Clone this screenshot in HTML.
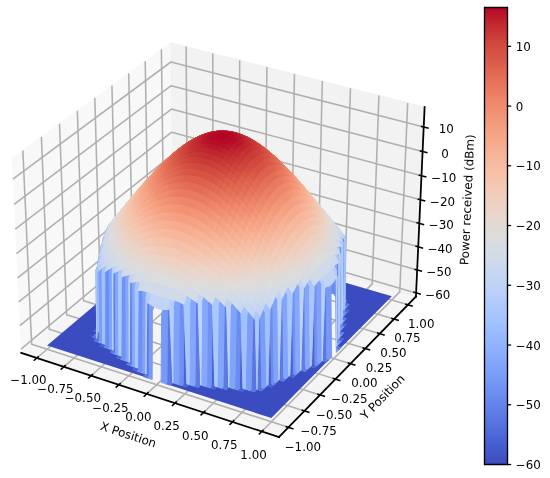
<!DOCTYPE html>
<html lang="en"><head><meta charset="utf-8"><title>Power received (dBm)</title>
<style>html,body{margin:0;padding:0;background:#fff;overflow:hidden}svg text{font-family:'DejaVu Sans','Liberation Sans',sans-serif}#surface path{fill:currentColor;stroke:currentColor}</style></head>
<body>
<svg width="550" height="478" viewBox="0 0 528 458.88" preserveAspectRatio="none" style="display:block">
 
 <defs>
  <style type="text/css">*{stroke-linejoin: round; stroke-linecap: butt}</style>
 </defs>
 <g id="figure_1">
  <g id="patch_1">
   <path d="M 0 458.88  L 528 458.88  L 528 0  L 0 0  z
" style="fill: #ffffff"/>
  </g>
  <g id="patch_2">
   <path d="M -12.87 447.40  L 427.67 447.40  L 427.67 6.86  L -12.87 6.86  z
" style="fill: #ffffff"/>
  </g>
  <g id="pane3d_1">
   <g id="patch_3">
    <path d="M 20.39 338.78  L 165.87 216.83  L 163.85 40.97  L 11.40 152.21 
" style="fill: #f2f2f2; opacity: 0.5; stroke: #f2f2f2; stroke-linejoin: miter"/>
   </g>
  </g>
  <g id="pane3d_2">
   <g id="patch_4">
    <path d="M 165.87 216.83  L 399.31 284.69  L 407.65 102.76  L 163.85 40.97 
" style="fill: #e6e6e6; opacity: 0.5; stroke: #e6e6e6; stroke-linejoin: miter"/>
   </g>
  </g>
  <g id="pane3d_3">
   <g id="patch_5">
    <path d="M 20.39 338.78  L 267.85 419.60  L 399.31 284.69  L 165.87 216.83 
" style="fill: #ececec; opacity: 0.5; stroke: #ececec; stroke-linejoin: miter"/>
   </g>
  </g>
  <g id="grid3d_1">
   <g id="Line3DCollection_1">
    <path d="M 35.37 343.67  L 180.06 220.96  L 178.64 44.72 
" style="fill: none; stroke: #b0b0b0; stroke-width: 1.5"/>
    <path d="M 61.29 352.14  L 204.60 228.09  L 204.23 51.20 
" style="fill: none; stroke: #b0b0b0; stroke-width: 1.5"/>
    <path d="M 87.51 360.70  L 229.40 235.30  L 230.09 57.76 
" style="fill: none; stroke: #b0b0b0; stroke-width: 1.5"/>
    <path d="M 114.03 369.36  L 254.45 242.58  L 256.24 64.38 
" style="fill: none; stroke: #b0b0b0; stroke-width: 1.5"/>
    <path d="M 140.86 378.12  L 279.77 249.94  L 282.67 71.08 
" style="fill: none; stroke: #b0b0b0; stroke-width: 1.5"/>
    <path d="M 167.99 386.99  L 305.36 257.38  L 309.40 77.86 
" style="fill: none; stroke: #b0b0b0; stroke-width: 1.5"/>
    <path d="M 195.44 395.95  L 331.22 264.89  L 336.42 84.71 
" style="fill: none; stroke: #b0b0b0; stroke-width: 1.5"/>
    <path d="M 223.21 405.02  L 357.36 272.49  L 363.75 91.64 
" style="fill: none; stroke: #b0b0b0; stroke-width: 1.5"/>
    <path d="M 251.31 414.20  L 383.78 280.17  L 391.38 98.64 
" style="fill: none; stroke: #b0b0b0; stroke-width: 1.5"/>
   </g>
  </g>
  <g id="grid3d_2">
   <g id="Line3DCollection_2">
    <path d="M 21.94 144.52  L 30.41 330.38  L 276.94 410.27 
" style="fill: none; stroke: #b0b0b0; stroke-width: 1.5"/>
    <path d="M 39.73 131.54  L 47.33 316.19  L 292.29 394.52 
" style="fill: none; stroke: #b0b0b0; stroke-width: 1.5"/>
    <path d="M 57.16 118.82  L 63.94 302.27  L 307.33 379.09 
" style="fill: none; stroke: #b0b0b0; stroke-width: 1.5"/>
    <path d="M 74.25 106.35  L 80.23 288.61  L 322.07 363.96 
" style="fill: none; stroke: #b0b0b0; stroke-width: 1.5"/>
    <path d="M 91.01 94.11  L 96.22 275.21  L 336.53 349.12 
" style="fill: none; stroke: #b0b0b0; stroke-width: 1.5"/>
    <path d="M 107.45 82.12  L 111.92 262.05  L 350.70 334.58 
" style="fill: none; stroke: #b0b0b0; stroke-width: 1.5"/>
    <path d="M 123.58 70.35  L 127.33 249.13  L 364.60 320.31 
" style="fill: none; stroke: #b0b0b0; stroke-width: 1.5"/>
    <path d="M 139.40 58.81  L 142.46 236.45  L 378.24 306.31 
" style="fill: none; stroke: #b0b0b0; stroke-width: 1.5"/>
    <path d="M 154.92 47.48  L 157.32 223.99  L 391.63 292.58 
" style="fill: none; stroke: #b0b0b0; stroke-width: 1.5"/>
   </g>
  </g>
  <g id="grid3d_3">
   <g id="Line3DCollection_3">
    <path d="M 399.47 281.19  L 165.83 213.44  L 20.21 335.20 
" style="fill: none; stroke: #b0b0b0; stroke-width: 1.5"/>
    <path d="M 400.48 259.18  L 165.58 192.14  L 19.13 312.66 
" style="fill: none; stroke: #b0b0b0; stroke-width: 1.5"/>
    <path d="M 401.50 236.94  L 165.34 170.61  L 18.03 289.88 
" style="fill: none; stroke: #b0b0b0; stroke-width: 1.5"/>
    <path d="M 402.53 214.45  L 165.09 148.85  L 16.92 266.83 
" style="fill: none; stroke: #b0b0b0; stroke-width: 1.5"/>
    <path d="M 403.57 191.72  L 164.83 126.87  L 15.80 243.52 
" style="fill: none; stroke: #b0b0b0; stroke-width: 1.5"/>
    <path d="M 404.62 168.73  L 164.58 104.66  L 14.66 219.94 
" style="fill: none; stroke: #b0b0b0; stroke-width: 1.5"/>
    <path d="M 405.69 145.49  L 164.32 82.21  L 13.51 196.09 
" style="fill: none; stroke: #b0b0b0; stroke-width: 1.5"/>
    <path d="M 406.76 121.99  L 164.06 59.52  L 12.35 171.96 
" style="fill: none; stroke: #b0b0b0; stroke-width: 1.5"/>
   </g>
  </g>
  <g id="axis3d_1">
   <g id="line2d_1">
    <path d="M 20.39 338.78  L 267.85 419.60 
" style="fill: none; stroke: #000000; stroke-width: 1.7; stroke-linecap: square"/>
   </g>
   <g id="xtick_1">
    <g id="line2d_2">
     <path d="M 36.63 342.60  L 32.84 345.81 
" style="fill: none; stroke: #000000; stroke-width: 1.5; stroke-linecap: square"/>
    </g>
    <g id="text_1">
     <text style="font-size: 11.4px; font-family: 'DejaVu Sans','Liberation Sans',sans-serif; text-anchor: middle" x="27.33" y="369.12">−1.00</text>
    </g>
   </g>
   <g id="xtick_2">
    <g id="line2d_3">
     <path d="M 62.54 351.06  L 58.79 354.31 
" style="fill: none; stroke: #000000; stroke-width: 1.5; stroke-linecap: square"/>
    </g>
    <g id="text_2">
     <text style="font-size: 11.4px; font-family: 'DejaVu Sans','Liberation Sans',sans-serif; text-anchor: middle" x="53.27" y="377.70">−0.75</text>
    </g>
   </g>
   <g id="xtick_3">
    <g id="line2d_4">
     <path d="M 88.75 359.61  L 85.03 362.89 
" style="fill: none; stroke: #000000; stroke-width: 1.5; stroke-linecap: square"/>
    </g>
    <g id="text_3">
     <text style="font-size: 11.4px; font-family: 'DejaVu Sans','Liberation Sans',sans-serif; text-anchor: middle" x="79.51" y="386.38">−0.50</text>
    </g>
   </g>
   <g id="xtick_4">
    <g id="line2d_5">
     <path d="M 115.26 368.26  L 111.58 371.58 
" style="fill: none; stroke: #000000; stroke-width: 1.5; stroke-linecap: square"/>
    </g>
    <g id="text_4">
     <text style="font-size: 11.4px; font-family: 'DejaVu Sans','Liberation Sans',sans-serif; text-anchor: middle" x="106.04" y="395.16">−0.25</text>
    </g>
   </g>
   <g id="xtick_5">
    <g id="line2d_6">
     <path d="M 142.07 377.01  L 138.43 380.37 
" style="fill: none; stroke: #000000; stroke-width: 1.5; stroke-linecap: square"/>
    </g>
    <g id="text_5">
     <text style="font-size: 11.4px; font-family: 'DejaVu Sans','Liberation Sans',sans-serif; text-anchor: middle" x="132.89" y="404.04">0.00</text>
    </g>
   </g>
   <g id="xtick_6">
    <g id="line2d_7">
     <path d="M 169.19 385.86  L 165.59 389.25 
" style="fill: none; stroke: #000000; stroke-width: 1.5; stroke-linecap: square"/>
    </g>
    <g id="text_6">
     <text style="font-size: 11.4px; font-family: 'DejaVu Sans','Liberation Sans',sans-serif; text-anchor: middle" x="160.04" y="413.02">0.25</text>
    </g>
   </g>
   <g id="xtick_7">
    <g id="line2d_8">
     <path d="M 196.63 394.81  L 193.06 398.25 
" style="fill: none; stroke: #000000; stroke-width: 1.5; stroke-linecap: square"/>
    </g>
    <g id="text_7">
     <text style="font-size: 11.4px; font-family: 'DejaVu Sans','Liberation Sans',sans-serif; text-anchor: middle" x="187.51" y="422.11">0.50</text>
    </g>
   </g>
   <g id="xtick_8">
    <g id="line2d_9">
     <path d="M 224.38 403.86  L 220.86 407.34 
" style="fill: none; stroke: #000000; stroke-width: 1.5; stroke-linecap: square"/>
    </g>
    <g id="text_8">
     <text style="font-size: 11.4px; font-family: 'DejaVu Sans','Liberation Sans',sans-serif; text-anchor: middle" x="215.31" y="431.31">0.75</text>
    </g>
   </g>
   <g id="xtick_9">
    <g id="line2d_10">
     <path d="M 252.47 413.03  L 248.99 416.55 
" style="fill: none; stroke: #000000; stroke-width: 1.5; stroke-linecap: square"/>
    </g>
    <g id="text_9">
     <text style="font-size: 11.4px; font-family: 'DejaVu Sans','Liberation Sans',sans-serif; text-anchor: middle" x="243.43" y="440.61">1.00</text>
    </g>
   </g>
   <g id="text_10">
    <text style="font-size: 11.4px; font-family: 'DejaVu Sans','Liberation Sans',sans-serif; text-anchor: middle" x="121.99" y="420.97" transform="rotate(-341.91 121.99 420.97)">X Position</text>
   </g>
  </g>
  <g id="axis3d_2">
   <g id="line2d_11">
    <path d="M 399.31 284.69  L 267.85 419.60 
" style="fill: none; stroke: #000000; stroke-width: 1.7; stroke-linecap: square"/>
   </g>
   <g id="xtick_10">
    <g id="line2d_12">
     <path d="M 274.87 409.59  L 281.11 411.62 
" style="fill: none; stroke: #000000; stroke-width: 1.5; stroke-linecap: square"/>
    </g>
    <g id="text_11">
     <text style="font-size: 11.4px; font-family: 'DejaVu Sans','Liberation Sans',sans-serif; text-anchor: middle" x="290.72" y="433.28">−1.00</text>
    </g>
   </g>
   <g id="xtick_11">
    <g id="line2d_13">
     <path d="M 290.23 393.86  L 296.42 395.84 
" style="fill: none; stroke: #000000; stroke-width: 1.5; stroke-linecap: square"/>
    </g>
    <g id="text_12">
     <text style="font-size: 11.4px; font-family: 'DejaVu Sans','Liberation Sans',sans-serif; text-anchor: middle" x="305.93" y="417.39">−0.75</text>
    </g>
   </g>
   <g id="xtick_12">
    <g id="line2d_14">
     <path d="M 305.28 378.44  L 311.43 380.38 
" style="fill: none; stroke: #000000; stroke-width: 1.5; stroke-linecap: square"/>
    </g>
    <g id="text_13">
     <text style="font-size: 11.4px; font-family: 'DejaVu Sans','Liberation Sans',sans-serif; text-anchor: middle" x="320.84" y="401.80">−0.50</text>
    </g>
   </g>
   <g id="xtick_13">
    <g id="line2d_15">
     <path d="M 320.04 363.32  L 326.15 365.23 
" style="fill: none; stroke: #000000; stroke-width: 1.5; stroke-linecap: square"/>
    </g>
    <g id="text_14">
     <text style="font-size: 11.4px; font-family: 'DejaVu Sans','Liberation Sans',sans-serif; text-anchor: middle" x="335.46" y="386.53">−0.25</text>
    </g>
   </g>
   <g id="xtick_14">
    <g id="line2d_16">
     <path d="M 334.51 348.50  L 340.57 350.37 
" style="fill: none; stroke: #000000; stroke-width: 1.5; stroke-linecap: square"/>
    </g>
    <g id="text_15">
     <text style="font-size: 11.4px; font-family: 'DejaVu Sans','Liberation Sans',sans-serif; text-anchor: middle" x="349.78" y="371.55">0.00</text>
    </g>
   </g>
   <g id="xtick_15">
    <g id="line2d_17">
     <path d="M 348.69 333.97  L 354.72 335.80 
" style="fill: none; stroke: #000000; stroke-width: 1.5; stroke-linecap: square"/>
    </g>
    <g id="text_16">
     <text style="font-size: 11.4px; font-family: 'DejaVu Sans','Liberation Sans',sans-serif; text-anchor: middle" x="363.84" y="356.87">0.25</text>
    </g>
   </g>
   <g id="xtick_16">
    <g id="line2d_18">
     <path d="M 362.61 319.71  L 368.60 321.51 
" style="fill: none; stroke: #000000; stroke-width: 1.5; stroke-linecap: square"/>
    </g>
    <g id="text_17">
     <text style="font-size: 11.4px; font-family: 'DejaVu Sans','Liberation Sans',sans-serif; text-anchor: middle" x="377.62" y="342.47">0.50</text>
    </g>
   </g>
   <g id="xtick_17">
    <g id="line2d_19">
     <path d="M 376.26 305.72  L 382.21 307.49 
" style="fill: none; stroke: #000000; stroke-width: 1.5; stroke-linecap: square"/>
    </g>
    <g id="text_18">
     <text style="font-size: 11.4px; font-family: 'DejaVu Sans','Liberation Sans',sans-serif; text-anchor: middle" x="391.14" y="328.34">0.75</text>
    </g>
   </g>
   <g id="xtick_18">
    <g id="line2d_20">
     <path d="M 389.66 292.00  L 395.56 293.73 
" style="fill: none; stroke: #000000; stroke-width: 1.5; stroke-linecap: square"/>
    </g>
    <g id="text_19">
     <text style="font-size: 11.4px; font-family: 'DejaVu Sans','Liberation Sans',sans-serif; text-anchor: middle" x="404.40" y="314.47">1.00</text>
    </g>
   </g>
   <g id="text_20">
    <text style="font-size: 11.4px; font-family: 'DejaVu Sans','Liberation Sans',sans-serif; text-anchor: middle" x="370.05" y="383.80" transform="rotate(-45.74 370.05 383.80)">Y Position</text>
   </g>
  </g>
  <g id="axis3d_3">
   <g id="line2d_21">
    <path d="M 399.31 284.69  L 407.65 102.76 
" style="fill: none; stroke: #000000; stroke-width: 1.7; stroke-linecap: square"/>
   </g>
   <g id="xtick_19">
    <g id="line2d_22">
     <path d="M 397.51 280.62  L 403.40 282.33 
" style="fill: none; stroke: #000000; stroke-width: 1.5; stroke-linecap: square"/>
    </g>
    <g id="text_21">
     <text style="font-size: 11.4px; font-family: 'DejaVu Sans','Liberation Sans',sans-serif; text-anchor: middle" x="420.30" y="286.88">−60</text>
    </g>
   </g>
   <g id="xtick_20">
    <g id="line2d_23">
     <path d="M 398.51 258.62  L 404.43 260.31 
" style="fill: none; stroke: #000000; stroke-width: 1.5; stroke-linecap: square"/>
    </g>
    <g id="text_22">
     <text style="font-size: 11.4px; font-family: 'DejaVu Sans','Liberation Sans',sans-serif; text-anchor: middle" x="421.42" y="264.91">−50</text>
    </g>
   </g>
   <g id="xtick_21">
    <g id="line2d_24">
     <path d="M 399.52 236.38  L 405.47 238.06 
" style="fill: none; stroke: #000000; stroke-width: 1.5; stroke-linecap: square"/>
    </g>
    <g id="text_23">
     <text style="font-size: 11.4px; font-family: 'DejaVu Sans','Liberation Sans',sans-serif; text-anchor: middle" x="422.55" y="242.70">−40</text>
    </g>
   </g>
   <g id="xtick_22">
    <g id="line2d_25">
     <path d="M 400.54 213.90  L 406.52 215.56 
" style="fill: none; stroke: #000000; stroke-width: 1.5; stroke-linecap: square"/>
    </g>
    <g id="text_24">
     <text style="font-size: 11.4px; font-family: 'DejaVu Sans','Liberation Sans',sans-serif; text-anchor: middle" x="423.69" y="220.24">−30</text>
    </g>
   </g>
   <g id="xtick_23">
    <g id="line2d_26">
     <path d="M 401.57 191.18  L 407.59 192.81 
" style="fill: none; stroke: #000000; stroke-width: 1.5; stroke-linecap: square"/>
    </g>
    <g id="text_25">
     <text style="font-size: 11.4px; font-family: 'DejaVu Sans','Liberation Sans',sans-serif; text-anchor: middle" x="424.84" y="197.54">−20</text>
    </g>
   </g>
   <g id="xtick_24">
    <g id="line2d_27">
     <path d="M 402.61 168.20  L 408.66 169.81 
" style="fill: none; stroke: #000000; stroke-width: 1.5; stroke-linecap: square"/>
    </g>
    <g id="text_26">
     <text style="font-size: 11.4px; font-family: 'DejaVu Sans','Liberation Sans',sans-serif; text-anchor: middle" x="426.01" y="174.59">−10</text>
    </g>
   </g>
   <g id="xtick_25">
    <g id="line2d_28">
     <path d="M 403.66 144.96  L 409.75 146.56 
" style="fill: none; stroke: #000000; stroke-width: 1.5; stroke-linecap: square"/>
    </g>
    <g id="text_27">
     <text style="font-size: 11.4px; font-family: 'DejaVu Sans','Liberation Sans',sans-serif; text-anchor: middle" x="427.19" y="151.38">0</text>
    </g>
   </g>
   <g id="xtick_26">
    <g id="line2d_29">
     <path d="M 404.72 121.47  L 410.85 123.04 
" style="fill: none; stroke: #000000; stroke-width: 1.5; stroke-linecap: square"/>
    </g>
    <g id="text_28">
     <text style="font-size: 11.4px; font-family: 'DejaVu Sans','Liberation Sans',sans-serif; text-anchor: middle" x="428.39" y="127.91">10</text>
    </g>
   </g>
   <g id="text_29">
    <text style="font-size: 11.4px; font-family: 'DejaVu Sans','Liberation Sans',sans-serif; text-anchor: middle" x="452.50" y="191.97" transform="rotate(-87.37 452.50 191.97)">Power received (dBm)</text>
   </g>
  </g>
  <path fill="#3b4cc0" fill-rule="evenodd" d="M219.7 371.7L217.2 374.1L208.4 371.3L205.9 373.8L192.8 369.6L190.2 372L181.5 369.2L178.9 371.6L165.9 367.4L163.3 369.8L260.5 401.3L313.6 347.6L309.2 346.3L302.2 353.4L297.8 352L293.1 356.7L288.7 355.4L281.5 362.5L277.1 361.1L272.2 366L267.8 364.6L260.5 371.8L256.1 370.4L251.1 375.3L246.7 373.9L244.2 376.3L235.4 373.5L232.9 375.9zM284 257.6L281.7 259.7L294.1 263.3L291.9 265.4L300.2 267.8L298 269.9L310.5 273.6L308.2 275.7L316.6 278.2L314.4 280.4L327.1 284.1L324.8 286.3L333.3 288.8L331.1 290.9L335.4 292.2L330.9 296.6L335.2 297.8L328.5 304.5L332.8 305.7L328.3 310.2L332.6 311.5L325.8 318.3L330.2 319.6L325.6 324.1L330 325.4L323.1 332.3L327.5 333.6L376.2 284.5zM103.5 291.6L99.5 290.4L107.2 283.9L103.1 282.6L45.2 331.6L137.5 361.5L140.1 359.1L127.3 355L130 352.6L121.5 349.9L124.1 347.5L111.5 343.4L114.1 341.1L105.7 338.4L108.4 336.1L95.8 332.1L98.5 329.8L90.2 327.1L92.8 324.9L88.7 323.5L94 319L89.8 317.7L97.7 310.9L93.6 309.7L98.8 305.2L94.7 303.9L102.5 297.3L98.4 296zM118.3 269.8L122.3 271.1L129.7 264.7L133.7 265.9L138.7 261.7L142.7 263L150 256.7L154 257.9L158.8 253.7L162.8 254.9L170 248.8L174 249.9L178.8 245.8L182.8 247L185.1 245L193.1 247.3L195.5 245.3L207.5 248.8L209.8 246.8L217.9 249.2L220.2 247.1L232.3 250.7L234.6 248.6L242.7 251L245 248.9L257.2 252.5L259.4 250.4L171.5 224.8z"/>
<g id="surface" stroke-width="0.9" stroke-linejoin="round">
<path color="#4961d2" d="M193.1 247.3L195.1 247.9L196.9 180.8L198.3 247.5L199.5 246.5L197.5 245.9L195.5 245.3L194.3 246.3z"/>
<path color="#4a63d3" d="M217.9 249.2L219.9 249.7L222.1 176.8L223.1 249.3L224.2 248.3L222.2 247.7L220.2 247.1L219 248.1z"/>
<path color="#5875e1" d="M182.8 247L184.3 185.3L186.3 183.8L187.9 247.2L189.1 246.2L187.1 245.6L185.1 245L183.9 246zM176.4 247.9L178.4 248.5L179.9 184.7L181.1 185.8L182.8 247L180.8 246.4L178.8 245.8L177.6 246.9z"/>
<path color="#4961d2" d="M167.6 250.8L169.6 251.4L170.9 184.2L172.8 251L174 249.9L172 249.3L170 248.8L168.8 249.8z"/>
<path color="#4a63d3" d="M242.7 251L244.7 251.6L247.4 180.4L247.9 251.1L249 250.1L247 249.5L245 248.9L243.8 250z"/>
<path color="#5b7ae5" d="M207.5 248.8L209.4 177.9L211.5 176.9L212.7 249L213.9 248L211.8 247.4L209.8 246.8L208.7 247.8z"/>
<path color="#5d7ce6" d="M232.3 250.7L234.7 177.6L236.8 177.3L237.5 250.8L238.7 249.8L236.6 249.2L234.6 248.6L233.5 249.6z"/>
<path color="#6b8df0" d="M196.9 180.8L198.9 179.5L200.9 178.3L202.3 248.7L203.5 247.7L201.5 247.1L199.5 246.5L198.3 247.5z"/>
<path color="#5977e3" d="M257.2 252.5L260 186.8L262 188L262.4 252.6L263.5 251.6L261.5 251L259.4 250.4L258.3 251.5z"/>
<path color="#7a9df8" d="M186.3 183.8L188.4 182.4L190.4 180.9L191.6 182.2L193.1 247.3L191.1 246.7L189.1 246.2L187.9 247.2z"/>
<path color="#6f92f3" d="M222.1 176.8L224.1 176.1L226.2 175.5L227.1 250.5L228.3 249.5L226.2 248.9L224.2 248.3L223.1 249.3z"/>
<path color="#7a9df8" d="M174 249.9L175.4 184.3L177.4 182.6L178.6 183.6L179.9 184.7L178.4 248.5L176.4 247.9L175.2 248.9z"/>
<path color="#6e90f2" d="M247.4 180.4L249.4 180.4L251.5 180.6L252 252.3L253.1 251.3L251.1 250.7L249 250.1L247.9 251.1z"/>
<path color="#6b8df0" d="M165.2 252.9L167.2 253.5L168.5 182.5L169.7 183.3L170.9 184.2L169.6 251.4L167.6 250.8L166.4 251.8z"/>
<path color="#4a63d3" d="M147.6 258.8L149.6 259.4L150.4 186.1L152.8 258.9L154 257.9L152 257.3L150 256.7L148.8 257.7z"/>
<path color="#5b7ae5" d="M156.4 255.8L158.4 256.4L159.5 183.7L160.7 184.3L162.8 254.9L160.8 254.3L158.8 253.7L157.6 254.8z"/>
<path color="#81a4fb" d="M200.9 178.3L203 177.1L205 175.9L206.2 177.5L207.5 248.8L205.5 248.2L203.5 247.7L202.3 248.7z"/>
<path color="#82a6fb" d="M211.5 176.9L213.5 176L215.6 175.1L216.8 176.7L217.9 249.2L215.9 248.6L213.9 248L212.7 249z"/>
<path color="#5977e3" d="M278.7 192.6L280.8 192.6L281.7 259.7L282.9 258.6L284 257.6L281.9 257L279.9 256.4L278.8 257.4z"/>
<path color="#779af7" d="M262 188L264.1 189.3L266.2 190.6L267.3 192.6L267.6 252.8L265.6 252.2L263.5 251.6L262.4 252.6z"/>
<path color="#85a8fc" d="M226.2 175.5L228.3 174.9L230.3 174.4L231.5 176.2L232.3 250.7L230.3 250.1L228.3 249.5L227.1 250.5z"/>
<path color="#84a7fc" d="M236.8 177.3L238.8 176.9L240.9 176.7L242.1 178.6L242.7 251L240.7 250.4L238.7 249.8L237.5 250.8z"/>
<path color="#80a3fa" d="M251.5 180.6L253.6 180.9L255.7 181.4L256.8 183.8L257.2 252.5L255.1 251.9L253.1 251.3L252 252.3z"/>
<path color="#a2c1ff" d="M190.4 180.9L192.4 179.5L194.4 178.1L195.7 179.4L196.9 180.8L195.1 247.9L193.1 247.3L191.6 182.2z"/>
<path color="#4a63d3" d="M289.1 192L289.8 264.8L291.9 265.4L293 264.3L294.1 263.3L292.1 262.7L290 262.1L288.9 263.1z"/>
<path color="#81a4fb" d="M162.8 254.9L164 182.9L166 181L167.2 181.7L168.5 182.5L167.2 253.5L165.2 252.9L164 253.9z"/>
<path color="#779af7" d="M274.5 192.9L276.6 192.8L278.7 192.6L278.8 257.4L279.9 256.4L277.8 255.8L275.8 255.2L275.6 194.9z"/>
<path color="#abc8fd" d="M179.9 184.7L181.9 183.1L183.9 181.5L185.1 182.6L186.3 183.8L184.3 185.3L182.8 247L181.1 185.8z"/>
<path color="#a2c1ff" d="M170.9 184.2L172.9 182.4L175 180.6L176.2 181.6L177.4 182.6L175.4 184.3L174 249.9L172.8 251z"/>
<path color="#4a63d3" d="M127.2 266.8L129.3 267.4L129.8 195.7L132.5 267L133.7 265.9L131.7 265.3L129.7 264.7L128.5 265.8z"/>
<path color="#5d7ce6" d="M136.2 263.8L138.2 264.4L138.9 190L140.1 189.9L142.7 263L140.7 262.3L138.7 261.7L137.4 262.8z"/>
<path color="#6f92f3" d="M145.1 260.9L147.1 261.5L147.9 185.6L149.2 185.9L150.4 186.1L149.6 259.4L147.6 258.8L146.3 259.8z"/>
<path color="#abc8fd" d="M215.6 175.1L217.7 174.2L219.7 173.4L220.9 175.1L222.1 176.8L219.9 249.7L217.9 249.2L216.8 176.7z"/>
<path color="#82a6fb" d="M154 257.9L155 184.7L157 182.6L158.2 183.1L159.5 183.7L158.4 256.4L156.4 255.8L155.2 256.9z"/>
<path color="#6e90f2" d="M284.9 189.9L287 190.9L289.1 192L288.9 263.1L290 262.1L287.9 261.5L285.9 260.9L284.7 261.9z"/>
<path color="#aac7fd" d="M240.9 176.7L243 176.5L245.1 176.4L246.2 178.4L247.4 180.4L244.7 251.6L242.7 251L242.1 178.6z"/>
<path color="#bcd2f7" d="M205 175.9L207.1 174.8L209.1 173.8L210.3 175.3L211.5 176.9L209.4 177.9L207.5 248.8L206.2 177.5z"/>
<path color="#c3d5f4" d="M183.9 181.5L185.9 179.9L188 178.4L189.2 179.7L190.4 180.9L188.4 182.4L186.3 183.8L185.1 182.6z"/>
<path color="#80a3fa" d="M280.7 188.3L282.8 189L284.9 189.9L284.7 261.9L285.9 260.9L283.8 260.3L281.7 259.7L281.8 190.7z"/>
<path color="#c3d5f4" d="M177.4 182.6L179.4 180.9L181.5 179.3L182.7 180.4L183.9 181.5L181.9 183.1L179.9 184.7L178.6 183.6z"/>
<path color="#5d7ce6" d="M295.3 193.5L297.4 195.1L298 269.9L299.1 268.9L300.2 267.8L298.1 267.2L296 266.6L294.9 267.7z"/>
<path color="#c9d7f0" d="M194.4 178.1L196.5 176.8L198.5 175.5L199.7 176.9L200.9 178.3L198.9 179.5L196.9 180.8L195.7 179.4z"/>
<path color="#b5cdfa" d="M255.7 181.4L257.7 182L259.8 182.7L260.9 185.7L262 188L260 186.8L257.2 252.5L256.8 183.8z"/>
<path color="#c0d4f5" d="M230.3 174.4L232.4 173.9L234.5 173.5L235.6 175.4L236.8 177.3L234.7 177.6L232.3 250.7L231.5 176.2z"/>
<path color="#85a8fc" d="M142.7 263L143.4 187.6L145.4 185.4L146.7 185.5L147.9 185.6L147.1 261.5L145.1 260.9L143.9 261.9z"/>
<path color="#cad8ef" d="M188 178.4L190 176.9L192 175.5L193.2 176.8L194.4 178.1L192.4 179.5L190.4 180.9L189.2 179.7z"/>
<path color="#cbd8ee" d="M181.5 179.3L183.5 177.7L185.5 176.1L186.7 177.2L188 178.4L185.9 179.9L183.9 181.5L182.7 180.4z"/>
<path color="#cfdaea" d="M198.5 175.5L200.6 174.2L202.6 173L203.8 174.4L205 175.9L203 177.1L200.9 178.3L199.7 176.9z"/>
<path color="#4a63d3" d="M305.7 200.2L306.2 275.1L308.2 275.7L309.4 274.7L310.5 273.6L308.4 273L306.3 272.4L305.2 273.5z"/>
<path color="#5977e3" d="M115.8 272L117.8 272.6L118.2 206.9L119.5 205.2L122.3 271.1L120.3 270.4L118.3 269.8L117 270.9z"/>
<path color="#cad8ef" d="M175 180.6L177 178.9L179 177.2L180.2 178.2L181.5 179.3L179.4 180.9L177.4 182.6L176.2 181.6z"/>
<path color="#6e90f2" d="M124.8 268.9L126.8 269.5L127.3 196.8L128.5 196.2L129.8 195.7L129.3 267.4L127.2 266.8L126 267.9z"/>
<path color="#d2dbe8" d="M209.1 173.8L211.2 172.7L213.2 171.8L214.4 173.4L215.6 175.1L213.5 176L211.5 176.9L210.3 175.3z"/>
<path color="#c9d7f0" d="M168.5 182.5L170.5 180.7L172.5 178.8L173.7 179.7L175 180.6L172.9 182.4L170.9 184.2L169.7 183.3z"/>
<path color="#d1dae9" d="M192 175.5L194.1 174.1L196.1 172.7L197.3 174.1L198.5 175.5L196.5 176.8L194.4 178.1L193.2 176.8z"/>
<path color="#d2dbe8" d="M219.7 173.4L221.8 172.6L223.8 171.9L225 173.7L226.2 175.5L224.1 176.1L222.1 176.8L220.9 175.1z"/>
<path color="#84a7fc" d="M133.7 265.9L134.3 192.7L136.3 190.3L137.6 190.1L138.9 190L138.2 264.4L136.2 263.8L135 264.9z"/>
<path color="#c3d5f4" d="M259.8 182.7L261.9 183.5L264 184.2L265.1 187.9L266.2 190.6L264.1 189.3L262 188L260.9 185.7z"/>
<path color="#bcd2f7" d="M159.5 183.7L161.5 181.7L163.5 179.7L164.7 180.3L166 181L164 182.9L162.8 254.9L160.7 184.3z"/>
<path color="#abc8fd" d="M150.4 186.1L152.4 184L154.4 181.8L155.7 182.2L157 182.6L155 184.7L154 257.9L152.8 258.9z"/>
<path color="#d2dbe8" d="M185.5 176.1L187.5 174.5L189.6 173L190.8 174.2L192 175.5L190 176.9L188 178.4L186.7 177.2z"/>
<path color="#cedaeb" d="M245.1 176.4L247.2 176.3L249.2 176.3L250.4 178.5L251.5 180.6L249.4 180.4L247.4 180.4L246.2 178.4z"/>
<path color="#d5dbe5" d="M202.6 173L204.7 171.8L206.7 170.7L207.9 172.2L209.1 173.8L207.1 174.8L205 175.9L203.8 174.4z"/>
<path color="#c1d4f4" d="M264 184.2L266 185L268.1 185.6L269.2 189.6L270.3 192.5L268.2 191.7L266.2 190.6L265.1 187.9z"/>
<path color="#84a7fc" d="M291.1 190.6L293.2 192L295.3 193.5L294.9 267.7L296 266.6L294 266L291.9 265.4L292.2 192.6z"/>
<path color="#d7dce3" d="M213.2 171.8L215.3 170.8L217.4 170L218.5 171.7L219.7 173.4L217.7 174.2L215.6 175.1L214.4 173.4z"/>
<path color="#d4dbe6" d="M234.5 173.5L236.5 173.1L238.6 172.8L239.8 174.8L240.9 176.7L238.8 176.9L236.8 177.3L235.6 175.4z"/>
<path color="#d2dbe8" d="M179 177.2L181 175.5L183.1 173.8L184.3 174.9L185.5 176.1L183.5 177.7L181.5 179.3L180.2 178.2z"/>
<path color="#d6dce4" d="M223.8 171.9L225.9 171.3L228 170.7L229.2 172.5L230.3 174.4L228.3 174.9L226.2 175.5L225 173.7z"/>
<path color="#d7dce3" d="M196.1 172.7L198.2 171.4L200.2 170.1L201.4 171.5L202.6 173L200.6 174.2L198.5 175.5L197.3 174.1z"/>
<path color="#c1d4f4" d="M268.1 185.6L270.2 186.1L272.3 186.6L273.4 190.2L274.5 192.9L272.4 192.8L270.3 192.5L269.2 189.6z"/>
<path color="#cfdaea" d="M249.2 176.3L251.3 176.4L253.4 176.5L254.5 178.9L255.7 181.4L253.6 180.9L251.5 180.6L250.4 178.5z"/>
<path color="#d1dae9" d="M172.5 178.8L174.5 177L176.5 175.2L177.8 176.2L179 177.2L177 178.9L175 180.6L173.7 179.7z"/>
<path color="#b5cdfa" d="M276.5 187.3L278.6 187.8L280.7 188.3L281.8 190.7L281.7 259.7L280.8 192.6L278.7 192.6L277.6 190.3z"/>
<path color="#cfdaea" d="M166 181L168 179.1L170 177.2L171.2 178L172.5 178.8L170.5 180.7L168.5 182.5L167.2 181.7z"/>
<path color="#dadce0" d="M206.7 170.7L208.8 169.6L210.8 168.5L212 170.1L213.2 171.8L211.2 172.7L209.1 173.8L207.9 172.2z"/>
<path color="#d6dce4" d="M238.6 172.8L240.7 172.6L242.8 172.4L243.9 174.4L245.1 176.4L243 176.5L240.9 176.7L239.8 174.8z"/>
<path color="#d8dce2" d="M189.6 173L191.6 171.5L193.7 170.1L194.9 171.4L196.1 172.7L194.1 174.1L192 175.5L190.8 174.2z"/>
<path color="#dbdcde" d="M217.4 170L219.4 169.2L221.5 168.4L222.7 170.2L223.8 171.9L221.8 172.6L219.7 173.4L218.5 171.7z"/>
<path color="#d9dce1" d="M228 170.7L230.1 170.2L232.1 169.7L233.3 171.6L234.5 173.5L232.4 173.9L230.3 174.4L229.2 172.5z"/>
<path color="#d1dae9" d="M253.4 176.5L255.5 176.7L257.6 177L258.7 179.6L259.8 182.7L257.7 182L255.7 181.4L254.5 178.9z"/>
<path color="#c3d5f4" d="M272.3 186.6L274.4 186.9L276.5 187.3L277.6 190.3L278.7 192.6L276.6 192.8L274.5 192.9L273.4 190.2z"/>
<path color="#6f92f3" d="M301.5 196.5L303.6 198.3L305.7 200.2L305.2 273.5L306.3 272.4L304.2 271.8L302.1 271.2L301 272.2z"/>
<path color="#d9dce1" d="M183.1 173.8L185.1 172.2L187.1 170.6L188.4 171.8L189.6 173L187.5 174.5L185.5 176.1L184.3 174.9z"/>
<path color="#80a3fa" d="M122.3 271.1L122.7 201.3L124.7 198.5L126 197.6L127.3 196.8L126.8 269.5L124.8 268.9L123.5 270z"/>
<path color="#dcdddd" d="M200.2 170.1L202.3 168.8L204.3 167.6L205.5 169.1L206.7 170.7L204.7 171.8L202.6 173L201.4 171.5z"/>
<path color="#d8dce2" d="M242.8 172.4L244.9 172.3L247 172.3L248.1 174.3L249.2 176.3L247.2 176.3L245.1 176.4L243.9 174.4z"/>
<path color="#d1dae9" d="M257.6 177L259.7 177.3L261.8 177.7L262.9 180.6L264 184.2L261.9 183.5L259.8 182.7L258.7 179.6z"/>
<path color="#d8dce2" d="M176.5 175.2L178.6 173.5L180.6 171.8L181.8 172.8L183.1 173.8L181 175.5L179 177.2L177.8 176.2z"/>
<path color="#dedcdb" d="M210.8 168.5L212.9 167.6L215 166.6L216.2 168.3L217.4 170L215.3 170.8L213.2 171.8L212 170.1z"/>
<path color="#dcdddd" d="M232.1 169.7L234.2 169.3L236.3 169L237.5 170.9L238.6 172.8L236.5 173.1L234.5 173.5L233.3 171.6z"/>
<path color="#dedcdb" d="M221.5 168.4L223.6 167.7L225.6 167.1L226.8 168.9L228 170.7L225.9 171.3L223.8 171.9L222.7 170.2z"/>
<path color="#d7dce3" d="M170 177.2L172 175.3L174.1 173.5L175.3 174.3L176.5 175.2L174.5 177L172.5 178.8L171.2 178z"/>
<path color="#dedcdb" d="M193.7 170.1L195.7 168.7L197.8 167.3L199 168.7L200.2 170.1L198.2 171.4L196.1 172.7L194.9 171.4z"/>
<path color="#779af7" d="M113.2 274.1L113.8 212.8L115.7 210.4L117 208.7L118.2 206.9L117.8 272.6L115.8 272L114.5 273z"/>
<path color="#5b7ae5" d="M312 205L314.1 207.2L314.4 280.4L315.5 279.3L316.6 278.2L314.5 277.6L312.4 277L311.3 278.1z"/>
<path color="#85a8fc" d="M297.3 193L299.4 194.7L301.5 196.5L301 272.2L302.1 271.2L300 270.6L298 269.9L298.4 194.8z"/>
<path color="#d5dbe5" d="M163.5 179.7L165.5 177.7L167.5 175.7L168.8 176.4L170 177.2L168 179.1L166 181L164.7 180.3z"/>
<path color="#d1dae9" d="M261.8 177.7L263.8 178.2L265.9 178.7L267 181.6L268.1 185.6L266 185L264 184.2L262.9 180.6z"/>
<path color="#d2dbe8" d="M157 182.6L159 180.6L161 178.5L162.2 179.1L163.5 179.7L161.5 181.7L159.5 183.7L158.2 183.1z"/>
<path color="#dadce0" d="M247 172.3L249 172.4L251.1 172.5L252.3 174.5L253.4 176.5L251.3 176.4L249.2 176.3L248.1 174.3z"/>
<path color="#aac7fd" d="M286.9 188L289 189.3L291.1 190.6L292.2 192.6L291.9 265.4L289.8 264.8L289.1 192L288 190z"/>
<path color="#dfdbd9" d="M187.1 170.6L189.2 169.1L191.2 167.6L192.5 168.8L193.7 170.1L191.6 171.5L189.6 173L188.4 171.8z"/>
<path color="#e1dad6" d="M204.3 167.6L206.4 166.5L208.4 165.4L209.6 167L210.8 168.5L208.8 169.6L206.7 170.7L205.5 169.1z"/>
<path color="#dfdbd9" d="M236.3 169L238.4 168.7L240.5 168.5L241.6 170.5L242.8 172.4L240.7 172.6L238.6 172.8L237.5 170.9z"/>
<path color="#d1dae9" d="M265.9 178.7L268 179.3L270.1 180L271.2 182.9L272.3 186.6L270.2 186.1L268.1 185.6L267 181.6z"/>
<path color="#e3d9d3" d="M215 166.6L217 165.8L219.1 165L220.3 166.7L221.5 168.4L219.4 169.2L217.4 170L216.2 168.3z"/>
<path color="#e2dad5" d="M225.6 167.1L227.7 166.5L229.8 166L231 167.9L232.1 169.7L230.1 170.2L228 170.7L226.8 168.9z"/>
<path color="#dfdbd9" d="M180.6 171.8L182.6 170.1L184.7 168.4L185.9 169.5L187.1 170.6L185.1 172.2L183.1 173.8L181.8 172.8z"/>
<path color="#dbdcde" d="M251.1 172.5L253.2 172.7L255.3 172.9L256.4 174.9L257.6 177L255.5 176.7L253.4 176.5L252.3 174.5z"/>
<path color="#aac7fd" d="M129.8 195.7L131.8 193.3L133.8 190.9L135 190.5L136.3 190.3L134.3 192.7L133.7 265.9L132.5 267z"/>
<path color="#e4d9d2" d="M197.8 167.3L199.8 166L201.9 164.7L203.1 166.2L204.3 167.6L202.3 168.8L200.2 170.1L199 168.7z"/>
<path color="#4961d2" d="M322.4 216.1L322.7 285.6L324.8 286.3L326 285.2L327.1 284.1L324.9 283.5L322.8 282.8L321.7 283.9z"/>
<path color="#dedcdb" d="M174.1 173.5L176.1 171.6L178.1 169.8L179.4 170.8L180.6 171.8L178.6 173.5L176.5 175.2L175.3 174.3z"/>
<path color="#d1dae9" d="M270.1 180L272.2 180.8L274.3 181.6L275.4 184.2L276.5 187.3L274.4 186.9L272.3 186.6L271.2 182.9z"/>
<path color="#5977e3" d="M103.1 282.6L105.1 283.3L107.2 283.9L106.7 215.6L108 215.2L107.7 281.1L105.7 280.5L104.4 281.6z"/>
<path color="#dcdddd" d="M167.5 175.7L169.5 173.8L171.6 171.9L172.8 172.6L174.1 173.5L172 175.3L170 177.2L168.8 176.4z"/>
<path color="#e1dad6" d="M240.5 168.5L242.6 168.4L244.7 168.4L245.8 170.3L247 172.3L244.9 172.3L242.8 172.4L241.6 170.5z"/>
<path color="#c0d4f5" d="M138.9 190L140.9 187.7L142.8 185.3L144.1 185.3L145.4 185.4L143.4 187.6L142.7 263L140.1 189.9z"/>
<path color="#e6d7cf" d="M208.4 165.4L210.5 164.4L212.6 163.4L213.8 165L215 166.6L212.9 167.6L210.8 168.5L209.6 167z"/>
<path color="#dadce0" d="M161 178.5L163 176.5L165 174.4L166.3 175L167.5 175.7L165.5 177.7L163.5 179.7L162.2 179.1z"/>
<path color="#dcdddd" d="M255.3 172.9L257.4 173.2L259.5 173.6L260.6 175.7L261.8 177.7L259.7 177.3L257.6 177L256.4 174.9z"/>
<path color="#d2dbe8" d="M147.9 185.6L149.9 183.4L151.9 181.2L153.2 181.5L154.4 181.8L152.4 184L150.4 186.1L149.2 185.9z"/>
<path color="#d7dce3" d="M154.4 181.8L156.5 179.7L158.5 177.6L159.7 178L161 178.5L159 180.6L157 182.6L155.7 182.2z"/>
<path color="#e5d8d1" d="M191.2 167.6L193.3 166.1L195.3 164.7L196.6 166L197.8 167.3L195.7 168.7L193.7 170.1L192.5 168.8zM229.8 166L231.9 165.6L234 165.2L235.1 167.1L236.3 169L234.2 169.3L232.1 169.7L231 167.9z"/>
<path color="#e7d7ce" d="M219.1 165L221.2 164.2L223.3 163.5L224.5 165.3L225.6 167.1L223.6 167.7L221.5 168.4L220.3 166.7z"/>
<path color="#d1dae9" d="M274.3 181.6L276.4 182.5L278.5 183.5L279.6 185.8L280.7 188.3L278.6 187.8L276.5 187.3L275.4 184.2z"/>
<path color="#e5d8d1" d="M184.7 168.4L186.7 166.8L188.8 165.2L190 166.4L191.2 167.6L189.2 169.1L187.1 170.6L185.9 169.5z"/>
<path color="#e3d9d3" d="M244.7 168.4L246.7 168.4L248.8 168.5L250 170.5L251.1 172.5L249 172.4L247 172.3L245.8 170.3z"/>
<path color="#e9d5cb" d="M201.9 164.7L204 163.5L206 162.4L207.2 163.9L208.4 165.4L206.4 166.5L204.3 167.6L203.1 166.2z"/>
<path color="#dcdddd" d="M259.5 173.6L261.6 174.1L263.7 174.6L264.8 176.7L265.9 178.7L263.8 178.2L261.8 177.7L260.6 175.7z"/>
<path color="#cfdaea" d="M278.5 183.5L280.6 184.5L282.7 185.6L283.8 187.7L284.9 189.9L282.8 189L280.7 188.3L279.6 185.8z"/>
<path color="#e5d8d1" d="M178.1 169.8L180.2 168.1L182.2 166.4L183.4 167.4L184.7 168.4L182.6 170.1L180.6 171.8L179.4 170.8z"/>
<path color="#e7d7ce" d="M234 165.2L236.1 164.9L238.2 164.7L239.3 166.6L240.5 168.5L238.4 168.7L236.3 169L235.1 167.1z"/>
<path color="#ead4c8" d="M212.6 163.4L214.7 162.5L216.7 161.6L217.9 163.3L219.1 165L217 165.8L215 166.6L213.8 165z"/>
<path color="#82a6fb" d="M307.8 200.8L309.9 202.9L312 205L311.3 278.1L312.4 277L310.3 276.4L308.2 275.7L308.8 202.4z"/>
<path color="#ead5c9" d="M223.3 163.5L225.4 162.9L227.5 162.4L228.6 164.2L229.8 166L227.7 166.5L225.6 167.1L224.5 165.3z"/>
<path color="#cedaeb" d="M282.7 185.6L284.8 186.8L286.9 188L288 190L289.1 192L287 190.9L284.9 189.9L283.8 187.7z"/>
<path color="#e4d9d2" d="M171.6 171.9L173.6 170L175.6 168.1L176.9 168.9L178.1 169.8L176.1 171.6L174.1 173.5L172.8 172.6z"/>
<path color="#dcdddd" d="M263.7 174.6L265.8 175.3L267.9 176L269 178L270.1 180L268 179.3L265.9 178.7L264.8 176.7z"/>
<path color="#ead4c8" d="M195.3 164.7L197.4 163.3L199.5 162L200.7 163.3L201.9 164.7L199.8 166L197.8 167.3L196.6 166z"/>
<path color="#e4d9d2" d="M248.8 168.5L250.9 168.6L253 168.9L254.2 170.9L255.3 172.9L253.2 172.7L251.1 172.5L250 170.5z"/>
<path color="#779af7" d="M105.7 280.5L107.7 281.1L108 215.2L109.3 214.9L110.6 214.5L108.6 217L108.2 278.3L106.9 279.4z"/>
<path color="#e1dad6" d="M165 174.4L167 172.4L169.1 170.5L170.3 171.1L171.6 171.9L169.5 173.8L167.5 175.7L166.3 175z"/>
<path color="#d6dce4" d="M145.4 185.4L147.4 183.1L149.4 180.9L150.7 181L151.9 181.2L149.9 183.4L147.9 185.6L146.7 185.5z"/>
<path color="#dedcdb" d="M158.5 177.6L160.5 175.5L162.5 173.4L163.8 173.9L165 174.4L163 176.5L161 178.5L159.7 178z"/>
<path color="#dbdcde" d="M151.9 181.2L153.9 179L155.9 176.9L157.2 177.2L158.5 177.6L156.5 179.7L154.4 181.8L153.2 181.5z"/>
<path color="#edd2c3" d="M206 162.4L208.1 161.3L210.2 160.2L211.4 161.8L212.6 163.4L210.5 164.4L208.4 165.4L207.2 163.9z"/>
<path color="#dcdddd" d="M267.9 176L270 176.7L272.1 177.5L273.2 179.6L274.3 181.6L272.2 180.8L270.1 180L269 178z"/>
<path color="#ead4c8" d="M188.8 165.2L190.8 163.7L192.9 162.2L194.1 163.4L195.3 164.7L193.3 166.1L191.2 167.6L190 166.4z"/>
<path color="#ead5c9" d="M238.2 164.7L240.3 164.5L242.3 164.4L243.5 166.4L244.7 168.4L242.6 168.4L240.5 168.5L239.3 166.6z"/>
<path color="#6b8df0" d="M318.2 211.2L320.3 213.6L322.4 216.1L321.7 283.9L322.8 282.8L320.7 282.2L318.6 281.6L317.5 282.7z"/>
<path color="#e5d8d1" d="M253 168.9L255.1 169.2L257.2 169.6L258.4 171.6L259.5 173.6L257.4 173.2L255.3 172.9L254.2 170.9z"/>
<path color="#edd1c2" d="M216.7 161.6L218.8 160.8L220.9 160.1L222.1 161.8L223.3 163.5L221.2 164.2L219.1 165L217.9 163.3z"/>
<path color="#ecd3c5" d="M227.5 162.4L229.5 161.9L231.6 161.5L232.8 163.3L234 165.2L231.9 165.6L229.8 166L228.6 164.2z"/>
<path color="#4a63d3" d="M99.5 290.4L101.5 291L103.5 291.6L104.8 290.6L104.2 216.4L104.1 288.8L102.1 288.2L100.8 289.3z"/>
<path color="#ead4c8" d="M182.2 166.4L184.3 164.7L186.3 163L187.5 164.1L188.8 165.2L186.7 166.8L184.7 168.4L183.4 167.4z"/>
<path color="#dbdcde" d="M272.1 177.5L274.2 178.5L276.3 179.4L277.4 181.4L278.5 183.5L276.4 182.5L274.3 181.6L273.2 179.6z"/>
<path color="#eed0c0" d="M199.5 162L201.5 160.7L203.6 159.5L204.8 160.9L206 162.4L204 163.5L201.9 164.7L200.7 163.3z"/>
<path color="#ead4c8" d="M175.6 168.1L177.7 166.3L179.7 164.5L181 165.4L182.2 166.4L180.2 168.1L178.1 169.8L176.9 168.9zM242.3 164.4L244.4 164.4L246.5 164.5L247.7 166.5L248.8 168.5L246.7 168.4L244.7 168.4L243.5 166.4z"/>
<path color="#c0d4f5" d="M293.1 189.7L295.2 191.3L297.3 193L298.4 194.8L298 269.9L297.4 195.1L295.3 193.5L294.2 191.6z"/>
<path color="#d4dbe6" d="M136.3 190.3L138.3 187.9L140.3 185.6L141.6 185.4L142.8 185.3L140.9 187.7L138.9 190L137.6 190.1z"/>
<path color="#e5d8d1" d="M257.2 169.6L259.3 170L261.4 170.6L262.6 172.6L263.7 174.6L261.6 174.1L259.5 173.6L258.4 171.6z"/>
<path color="#b5cdfa" d="M118.2 206.9L120.2 204.1L122.2 200.7L123.4 199.5L124.7 198.5L122.7 201.3L122.3 271.1L119.5 205.2z"/>
<path color="#dadce0" d="M276.3 179.4L278.4 180.5L280.5 181.6L281.6 183.6L282.7 185.6L280.6 184.5L278.5 183.5L277.4 181.4z"/>
<path color="#e9d5cb" d="M169.1 170.5L171.1 168.5L173.1 166.6L174.4 167.3L175.6 168.1L173.6 170L171.6 171.9L170.3 171.1z"/>
<path color="#d9dce1" d="M142.8 185.3L144.8 183L146.9 180.7L148.1 180.8L149.4 180.9L147.4 183.1L145.4 185.4L144.1 185.3z"/>
<path color="#efcebd" d="M210.2 160.2L212.3 159.2L214.3 158.3L215.5 159.9L216.7 161.6L214.7 162.5L212.6 163.4L211.4 161.8z"/>
<path color="#eed0c0" d="M231.6 161.5L233.7 161.1L235.8 160.9L237 162.8L238.2 164.7L236.1 164.9L234 165.2L232.8 163.3z"/>
<path color="#e6d7cf" d="M162.5 173.4L164.5 171.3L166.6 169.3L167.8 169.8L169.1 170.5L167 172.4L165 174.4L163.8 173.9z"/>
<path color="#dedcdb" d="M149.4 180.9L151.4 178.6L153.4 176.4L154.7 176.6L155.9 176.9L153.9 179L151.9 181.2L150.7 181z"/>
<path color="#e3d9d3" d="M155.9 176.9L158 174.7L160 172.6L161.2 172.9L162.5 173.4L160.5 175.5L158.5 177.6L157.2 177.2z"/>
<path color="#5875e1" d="M328.7 224L330.8 226.8L331.1 290.9L332.2 289.8L333.3 288.8L331.2 288.1L329.1 287.5L328 288.6z"/>
<path color="#efcebd" d="M220.9 160.1L223 159.4L225.1 158.8L226.3 160.6L227.5 162.4L225.4 162.9L223.3 163.5L222.1 161.8z"/>
<path color="#efcfbf" d="M192.9 162.2L195 160.7L197 159.3L198.2 160.6L199.5 162L197.4 163.3L195.3 164.7L194.1 163.4z"/>
<path color="#81a4fb" d="M314 206.4L316.1 208.8L318.2 211.2L317.5 282.7L318.6 281.6L316.5 281L314.4 280.4L315.1 207.9z"/>
<path color="#d8dce2" d="M280.5 181.6L282.6 182.8L284.7 184L285.8 186L286.9 188L284.8 186.8L282.7 185.6L281.6 183.6z"/>
<path color="#e5d8d1" d="M261.4 170.6L263.5 171.2L265.7 171.9L266.8 173.9L267.9 176L265.8 175.3L263.7 174.6L262.6 172.6z"/>
<path color="#ecd3c5" d="M246.5 164.5L248.6 164.7L250.7 164.9L251.9 166.9L253 168.9L250.9 168.6L248.8 168.5L247.7 166.5z"/>
<path color="#d6dce4" d="M284.7 184L286.8 185.4L288.9 186.8L290 188.7L291.1 190.6L289 189.3L286.9 188L285.8 186z"/>
<path color="#efcebd" d="M186.3 163L188.4 161.4L190.4 159.9L191.7 161L192.9 162.2L190.8 163.7L188.8 165.2L187.5 164.1z"/>
<path color="#cedaeb" d="M127.3 196.8L129.2 194.2L131.2 191.7L132.5 191.2L133.8 190.9L131.8 193.3L129.8 195.7L128.5 196.2z"/>
<path color="#f1ccb8" d="M203.6 159.5L205.7 158.3L207.8 157.2L209 158.7L210.2 160.2L208.1 161.3L206 162.4L204.8 160.9z"/>
<path color="#abc8fd" d="M303.6 196.7L305.7 198.7L307.8 200.8L308.8 202.4L308.2 275.7L306.2 275.1L305.7 200.2L304.6 198.4z"/>
<path color="#efcebd" d="M235.8 160.9L237.9 160.7L240 160.6L241.2 162.5L242.3 164.4L240.3 164.5L238.2 164.7L237 162.8z"/>
<path color="#e5d8d1" d="M265.7 171.9L267.8 172.7L269.9 173.5L271 175.5L272.1 177.5L270 176.7L267.9 176L266.8 173.9z"/>
<path color="#d4dbe6" d="M288.9 186.8L291 188.2L293.1 189.7L294.2 191.6L295.3 193.5L293.2 192L291.1 190.6L290 188.7z"/>
<path color="#efcfbf" d="M179.7 164.5L181.8 162.7L183.8 161L185.1 162L186.3 163L184.3 164.7L182.2 166.4L181 165.4z"/>
<path color="#f2cab5" d="M214.3 158.3L216.4 157.5L218.5 156.7L219.7 158.4L220.9 160.1L218.8 160.8L216.7 161.6L215.5 159.9z"/>
<path color="#d6dce4" d="M133.8 190.9L135.8 188.4L137.8 186.1L139 185.8L140.3 185.6L138.3 187.9L136.3 190.3L135 190.5z"/>
<path color="#f2cbb7" d="M225.1 158.8L227.2 158.3L229.3 157.8L230.5 159.6L231.6 161.5L229.5 161.9L227.5 162.4L226.3 160.6z"/>
<path color="#edd2c3" d="M250.7 164.9L252.9 165.2L255 165.6L256.1 167.6L257.2 169.6L255.1 169.2L253 168.9L251.9 166.9z"/>
<path color="#dcdddd" d="M140.3 185.6L142.3 183.2L144.3 180.9L145.6 180.8L146.9 180.7L144.8 183L142.8 185.3L141.6 185.4z"/>
<path color="#eed0c0" d="M173.1 166.6L175.2 164.7L177.2 162.8L178.5 163.6L179.7 164.5L177.7 166.3L175.6 168.1L174.4 167.3z"/>
<path color="#6e90f2" d="M102.1 288.2L104.1 288.8L104.2 216.4L105.5 214.8L106.7 213.4L106.6 286.7L104.6 286L103.3 287.1z"/>
<path color="#f2cab5" d="M197 159.3L199.1 158L201.2 156.7L202.4 158.1L203.6 159.5L201.5 160.7L199.5 162L198.2 160.6z"/>
<path color="#e4d9d2" d="M269.9 173.5L272 174.4L274.1 175.4L275.2 177.4L276.3 179.4L274.2 178.5L272.1 177.5L271 175.5z"/>
<path color="#e2dad5" d="M146.9 180.7L148.9 178.5L150.9 176.2L152.1 176.3L153.4 176.4L151.4 178.6L149.4 180.9L148.1 180.8z"/>
<path color="#edd2c3" d="M166.6 169.3L168.6 167.3L170.6 165.3L171.9 165.9L173.1 166.6L171.1 168.5L169.1 170.5L167.8 169.8z"/>
<path color="#e7d7ce" d="M153.4 176.4L155.4 174.2L157.5 172L158.7 172.2L160 172.6L158 174.7L155.9 176.9L154.7 176.6z"/>
<path color="#ead4c8" d="M160 172.6L162 170.4L164 168.3L165.3 168.8L166.6 169.3L164.5 171.3L162.5 173.4L161.2 172.9z"/>
<path color="#f1cdba" d="M240 160.6L242.1 160.5L244.2 160.6L245.4 162.5L246.5 164.5L244.4 164.4L242.3 164.4L241.2 162.5z"/>
<path color="#5875e1" d="M330.8 227.4L331 293.7L333.1 294.4L334.3 293.3L335.4 292.2L333.2 291.6L331.1 290.9L331.8 228.4z"/>
<path color="#edd2c3" d="M255 165.6L257.1 166L259.2 166.6L260.3 168.6L261.4 170.6L259.3 170L257.2 169.6L256.1 167.6z"/>
<path color="#80a3fa" d="M104.6 286L106.6 286.7L106.7 213.4L108 212.1L109.3 210.9L107.4 213.7L107.2 283.9L105.9 285z"/>
<path color="#f3c7b1" d="M207.8 157.2L209.8 156.2L211.9 155.2L213.1 156.7L214.3 158.3L212.3 159.2L210.2 160.2L209 158.7z"/>
<path color="#e3d9d3" d="M274.1 175.4L276.2 176.5L278.3 177.6L279.4 179.6L280.5 181.6L278.4 180.5L276.3 179.4L275.2 177.4z"/>
<path color="#cfdaea" d="M124.7 198.5L126.7 195.6L128.7 192.8L129.9 192.2L131.2 191.7L129.2 194.2L127.3 196.8L126 197.6z"/>
<path color="#f2c9b4" d="M190.4 159.9L192.5 158.4L194.6 156.9L195.8 158.1L197 159.3L195 160.7L192.9 162.2L191.7 161zM229.3 157.8L231.4 157.4L233.5 157.1L234.7 159L235.8 160.9L233.7 161.1L231.6 161.5L230.5 159.6z"/>
<path color="#f3c7b1" d="M218.5 156.7L220.6 156L222.7 155.3L223.9 157L225.1 158.8L223 159.4L220.9 160.1L219.7 158.4z"/>
<path color="#c3d5f4" d="M115.7 210.4L117.7 207.3L119.6 203.2L120.9 201.9L122.2 200.7L120.2 204.1L118.2 206.9L117 208.7z"/>
<path color="#e1dad6" d="M278.3 177.6L280.4 178.9L282.5 180.1L283.6 182.1L284.7 184L282.6 182.8L280.5 181.6L279.4 179.6z"/>
<path color="#d8dce2" d="M131.2 191.7L133.2 189.2L135.2 186.8L136.5 186.4L137.8 186.1L135.8 188.4L133.8 190.9L132.5 191.2z"/>
<path color="#f2c9b4" d="M183.8 161L185.9 159.4L188 157.7L189.2 158.8L190.4 159.9L188.4 161.4L186.3 163L185.1 162z"/>
<path color="#edd2c3" d="M259.2 166.6L261.3 167.2L263.4 167.9L264.5 169.9L265.7 171.9L263.5 171.2L261.4 170.6L260.3 168.6z"/>
<path color="#f2cbb7" d="M244.2 160.6L246.3 160.7L248.4 160.9L249.6 162.9L250.7 164.9L248.6 164.7L246.5 164.5L245.4 162.5z"/>
<path color="#7a9df8" d="M324.5 218.7L326.6 221.3L328.7 224L328 288.6L329.1 287.5L327 286.9L324.8 286.3L325.6 219.9z"/>
<path color="#f4c5ad" d="M201.2 156.7L203.2 155.5L205.3 154.3L206.5 155.7L207.8 157.2L205.7 158.3L203.6 159.5L202.4 158.1z"/>
<path color="#dfdbd9" d="M137.8 186.1L139.8 183.7L141.8 181.3L143 181.1L144.3 180.9L142.3 183.2L140.3 185.6L139 185.8zM282.5 180.1L284.6 181.5L286.7 182.9L287.8 184.8L288.9 186.8L286.8 185.4L284.7 184L283.6 182.1z"/>
<path color="#f2cab5" d="M177.2 162.8L179.3 161L181.3 159.2L182.6 160.1L183.8 161L181.8 162.7L179.7 164.5L178.5 163.6z"/>
<path color="#e5d8d1" d="M144.3 180.9L146.3 178.6L148.3 176.2L149.6 176.2L150.9 176.2L148.9 178.5L146.9 180.7L145.6 180.8z"/>
<path color="#f4c6af" d="M233.5 157.1L235.6 156.9L237.7 156.8L238.9 158.7L240 160.6L237.9 160.7L235.8 160.9L234.7 159z"/>
<path color="#f1ccb8" d="M170.6 165.3L172.7 163.3L174.7 161.4L176 162.1L177.2 162.8L175.2 164.7L173.1 166.6L171.9 165.9z"/>
<path color="#f5c2aa" d="M211.9 155.2L214 154.3L216.1 153.4L217.3 155L218.5 156.7L216.4 157.5L214.3 158.3L213.1 156.7z"/>
<path color="#edd2c3" d="M263.4 167.9L265.5 168.7L267.6 169.5L268.7 171.5L269.9 173.5L267.8 172.7L265.7 171.9L264.5 169.9z"/>
<path color="#dcdddd" d="M286.7 182.9L288.8 184.4L290.9 186L292 187.9L293.1 189.7L291 188.2L288.9 186.8L287.8 184.8z"/>
<path color="#ead5c9" d="M150.9 176.2L152.9 173.9L154.9 171.7L156.2 171.8L157.5 172L155.4 174.2L153.4 176.4L152.1 176.3z"/>
<path color="#d1dae9" d="M122.2 200.7L124.1 197.2L126.1 194.1L127.4 193.4L128.7 192.8L126.7 195.6L124.7 198.5L123.4 199.5z"/>
<path color="#f5c2aa" d="M222.7 155.3L224.8 154.8L226.9 154.3L228.1 156L229.3 157.8L227.2 158.3L225.1 158.8L223.9 157z"/>
<path color="#efcebd" d="M164 168.3L166.1 166.3L168.1 164.2L169.4 164.7L170.6 165.3L168.6 167.3L166.6 169.3L165.3 168.8z"/>
<path color="#c1d4f4" d="M113.2 213.2L115.1 209.8L117.1 205.4L118.3 204.3L119.6 203.2L117.7 207.3L115.7 210.4L114.5 212z"/>
<path color="#edd1c2" d="M157.5 172L159.5 169.8L161.5 167.7L162.8 168L164 168.3L162 170.4L160 172.6L158.7 172.2z"/>
<path color="#4961d2" d="M330.7 229.5L330.8 299.4L333 300L334.1 298.9L335.2 297.8L333.1 297.2L330.9 296.6L329.8 297.7z"/>
<path color="#f2cab5" d="M248.4 160.9L250.6 161.2L252.7 161.6L253.8 163.6L255 165.6L252.9 165.2L250.7 164.9L249.6 162.9z"/>
<path color="#f5c2aa" d="M194.6 156.9L196.6 155.5L198.7 154.1L199.9 155.4L201.2 156.7L199.1 158L197 159.3L195.8 158.1z"/>
<path color="#d9dce1" d="M290.9 186L293 187.6L295.2 189.3L296.2 191.1L297.3 193L295.2 191.3L293.1 189.7L292 187.9z"/>
<path color="#ecd3c5" d="M267.6 169.5L269.7 170.4L271.8 171.5L273 173.4L274.1 175.4L272 174.4L269.9 173.5L268.7 171.5z"/>
<path color="#d6dce4" d="M295.2 189.3L297.3 191.1L299.4 192.9L300.4 194.7L301.5 196.5L299.4 194.7L297.3 193L296.2 191.1z"/>
<path color="#dadce0" d="M128.7 192.8L130.7 190.3L132.6 187.8L133.9 187.3L135.2 186.8L133.2 189.2L131.2 191.7L129.9 192.2z"/>
<path color="#5d7ce6" d="M98.4 296L100.4 296.7L102.5 297.3L101.7 221L103 219L103 294.5L101 293.8L99.7 294.9z"/>
<path color="#f5c2aa" d="M188 157.7L190 156.2L192.1 154.6L193.3 155.7L194.6 156.9L192.5 158.4L190.4 159.9L189.2 158.8z"/>
<path color="#d2dbe8" d="M299.4 192.9L301.5 194.8L303.6 196.7L304.6 198.4L305.7 200.2L303.6 198.3L301.5 196.5L300.4 194.7z"/>
<path color="#f5c4ac" d="M237.7 156.8L239.8 156.7L241.9 156.7L243.1 158.7L244.2 160.6L242.1 160.5L240 160.6L238.9 158.7z"/>
<path color="#f6bfa6" d="M205.3 154.3L207.4 153.2L209.5 152.2L210.7 153.7L211.9 155.2L209.8 156.2L207.8 157.2L206.5 155.7z"/>
<path color="#f2cab5" d="M252.7 161.6L254.8 162L256.9 162.6L258 164.6L259.2 166.6L257.1 166L255 165.6L253.8 163.6z"/>
<path color="#ead4c8" d="M271.8 171.5L274 172.6L276.1 173.7L277.2 175.7L278.3 177.6L276.2 176.5L274.1 175.4L273 173.4z"/>
<path color="#e1dad6" d="M135.2 186.8L137.2 184.4L139.2 182L140.5 181.6L141.8 181.3L139.8 183.7L137.8 186.1L136.5 186.4z"/>
<path color="#f6bfa6" d="M226.9 154.3L229 153.8L231.1 153.5L232.3 155.3L233.5 157.1L231.4 157.4L229.3 157.8L228.1 156z"/>
<path color="#f6bea4" d="M216.1 153.4L218.2 152.7L220.3 152L221.5 153.6L222.7 155.3L220.6 156L218.5 156.7L217.3 155z"/>
<path color="#f5c2aa" d="M181.3 159.2L183.4 157.5L185.5 155.8L186.7 156.8L188 157.7L185.9 159.4L183.8 161L182.6 160.1z"/>
<path color="#c1d4f4" d="M110.6 214.5L112.6 211.4L114.5 207.3L115.8 206.4L117.1 205.4L115.1 209.8L113.2 213.2L111.9 214z"/>
<path color="#d1dae9" d="M119.6 203.2L121.6 199L123.5 195.7L124.8 194.9L126.1 194.1L124.1 197.2L122.2 200.7L120.9 201.9z"/>
<path color="#e7d7ce" d="M141.8 181.3L143.8 178.9L145.8 176.6L147.1 176.4L148.3 176.2L146.3 178.6L144.3 180.9L143 181.1z"/>
<path color="#ead5c9" d="M276.1 173.7L278.2 175L280.3 176.3L281.4 178.2L282.5 180.1L280.4 178.9L278.3 177.6L277.2 175.7z"/>
<path color="#f4c5ad" d="M174.7 161.4L176.8 159.5L178.9 157.7L180.1 158.4L181.3 159.2L179.3 161L177.2 162.8L176 162.1z"/>
<path color="#f6bda2" d="M198.7 154.1L200.8 152.8L202.9 151.6L204.1 153L205.3 154.3L203.2 155.5L201.2 156.7L199.9 155.4z"/>
<path color="#ecd3c5" d="M148.3 176.2L150.4 173.9L152.4 171.6L153.7 171.6L154.9 171.7L152.9 173.9L150.9 176.2L149.6 176.2z"/>
<path color="#f2cab5" d="M256.9 162.6L259 163.2L261.1 163.9L262.3 165.9L263.4 167.9L261.3 167.2L259.2 166.6L258 164.6z"/>
<path color="#f5c2aa" d="M241.9 156.7L244 156.8L246.1 157L247.3 159L248.4 160.9L246.3 160.7L244.2 160.6L243.1 158.7z"/>
<path color="#bcd2f7" d="M309.8 201.8L311.9 204.1L314 206.4L315.1 207.9L314.4 280.4L314.1 207.2L312 205L310.9 203.4z"/>
<path color="#f3c7b1" d="M168.1 164.2L170.2 162.2L172.2 160.2L173.5 160.8L174.7 161.4L172.7 163.3L170.6 165.3L169.4 164.7z"/>
<path color="#efcebd" d="M154.9 171.7L157 169.5L159 167.3L160.3 167.4L161.5 167.7L159.5 169.8L157.5 172L156.2 171.8z"/>
<path color="#f2cab5" d="M161.5 167.7L163.6 165.5L165.6 163.4L166.9 163.8L168.1 164.2L166.1 166.3L164 168.3L162.8 168z"/>
<path color="#e7d7ce" d="M280.3 176.3L282.4 177.7L284.5 179.1L285.6 181L286.7 182.9L284.6 181.5L282.5 180.1L281.4 178.2z"/>
<path color="#dbdcde" d="M126.1 194.1L128.1 191.6L130.1 189.2L131.4 188.5L132.6 187.8L130.7 190.3L128.7 192.8L127.4 193.4z"/>
<path color="#f7b99e" d="M209.5 152.2L211.6 151.2L213.7 150.3L214.9 151.9L216.1 153.4L214 154.3L211.9 155.2L210.7 153.7z"/>
<path color="#f6bda2" d="M231.1 153.5L233.2 153.2L235.3 153.1L236.5 154.9L237.7 156.8L235.6 156.9L233.5 157.1L232.3 155.3z"/>
<path color="#f7bca1" d="M192.1 154.6L194.2 153.2L196.3 151.8L197.5 152.9L198.7 154.1L196.6 155.5L194.6 156.9L193.3 155.7z"/>
<path color="#e5d8d1" d="M284.5 179.1L286.6 180.7L288.7 182.3L289.8 184.1L290.9 186L288.8 184.4L286.7 182.9L285.6 181z"/>
<path color="#f2cab5" d="M261.1 163.9L263.2 164.7L265.4 165.6L266.5 167.5L267.6 169.5L265.5 168.7L263.4 167.9L262.3 165.9z"/>
<path color="#f7b99e" d="M220.3 152L222.4 151.4L224.5 150.8L225.7 152.5L226.9 154.3L224.8 154.8L222.7 155.3L221.5 153.6z"/>
<path color="#b5cdfa" d="M107.2 283.9L107.4 213.7L109.3 210.9L110.6 209.9L111.9 209L110 212.4L108 215.2L106.7 215.6z"/>
<path color="#a2c1ff" d="M320.3 213.4L322.4 216L324.5 218.7L325.6 219.9L324.8 286.3L322.7 285.6L322.4 216.1L321.4 214.8z"/>
<path color="#d1dae9" d="M117.1 205.4L119 201L121 197.6L122.3 196.6L123.5 195.7L121.6 199L119.6 203.2L118.3 204.3z"/>
<path color="#e3d9d3" d="M132.6 187.8L134.7 185.4L136.7 183L137.9 182.4L139.2 182L137.2 184.4L135.2 186.8L133.9 187.3z"/>
<path color="#f5c1a9" d="M246.1 157L248.2 157.3L250.4 157.7L251.5 159.6L252.7 161.6L250.6 161.2L248.4 160.9L247.3 159z"/>
<path color="#e2dad5" d="M288.7 182.3L290.9 184L293 185.7L294.1 187.5L295.2 189.3L293 187.6L290.9 186L289.8 184.1z"/>
<path color="#c3d5f4" d="M108 215.2L110 212.4L111.9 209L113.2 208.1L114.5 207.3L112.6 211.4L110.6 214.5L109.3 214.9z"/>
<path color="#f7bca1" d="M185.5 155.8L187.5 154.2L189.6 152.6L190.9 153.6L192.1 154.6L190 156.2L188 157.7L186.7 156.8z"/>
<path color="#dedcdb" d="M293 185.7L295.1 187.5L297.2 189.4L298.3 191.1L299.4 192.9L297.3 191.1L295.2 189.3L294.1 187.5z"/>
<path color="#f2cbb7" d="M265.4 165.6L267.5 166.5L269.6 167.5L270.7 169.5L271.8 171.5L269.7 170.4L267.6 169.5L266.5 167.5z"/>
<path color="#ead5c9" d="M139.2 182L141.2 179.6L143.2 177.2L144.5 176.9L145.8 176.6L143.8 178.9L141.8 181.3L140.5 181.6z"/>
<path color="#f7b79b" d="M202.9 151.6L205 150.5L207.1 149.4L208.3 150.8L209.5 152.2L207.4 153.2L205.3 154.3L204.1 153z"/>
<path color="#dbdcde" d="M297.2 189.4L299.3 191.3L301.4 193.3L302.5 195L303.6 196.7L301.5 194.8L299.4 192.9L298.3 191.1z"/>
<path color="#f7ba9f" d="M235.3 153.1L237.4 153L239.6 153L240.7 154.9L241.9 156.7L239.8 156.7L237.7 156.8L236.5 154.9z"/>
<path color="#f6bda2" d="M178.9 157.7L180.9 155.9L183 154.2L184.2 155L185.5 155.8L183.4 157.5L181.3 159.2L180.1 158.4z"/>
<path color="#4a63d3" d="M94.7 303.9L96.8 304.6L98.8 305.2L100.1 304.1L99.3 227.7L99.3 302.3L97.3 301.7L96 302.8z"/>
<path color="#eed0c0" d="M145.8 176.6L147.8 174.2L149.8 171.9L151.1 171.7L152.4 171.6L150.4 173.9L148.3 176.2L147.1 176.4z"/>
<path color="#d7dce3" d="M301.4 193.3L303.5 195.4L305.6 197.5L306.7 199.1L307.8 200.8L305.7 198.7L303.6 196.7L302.5 195z"/>
<path color="#7a9df8" d="M328.6 225.3L330.7 228.3L330.9 296.6L332 295.5L333.1 294.4L331 293.7L330.8 227.4L329.7 226.3z"/>
<path color="#84a7fc" d="M101 293.8L103 294.5L103 219L104.3 217L105.6 215.1L103.6 217.5L103.5 291.6L102.3 292.7z"/>
<path color="#f5c0a7" d="M250.4 157.7L252.5 158.1L254.6 158.7L255.7 160.6L256.9 162.6L254.8 162L252.7 161.6L251.5 159.6z"/>
<path color="#d2dbe8" d="M305.6 197.5L307.7 199.6L309.8 201.8L310.9 203.4L312 205L309.9 202.9L307.8 200.8L306.7 199.1z"/>
<path color="#dcdddd" d="M123.5 195.7L125.5 193.3L127.5 190.8L128.8 189.9L130.1 189.2L128.1 191.6L126.1 194.1L124.8 194.9z"/>
<path color="#f7b497" d="M213.7 150.3L215.8 149.5L217.9 148.8L219.1 150.4L220.3 152L218.2 152.7L216.1 153.4L214.9 151.9z"/>
<path color="#f1cdba" d="M269.6 167.5L271.7 168.7L273.8 169.9L274.9 171.8L276.1 173.7L274 172.6L271.8 171.5L270.7 169.5z"/>
<path color="#f6bfa6" d="M172.2 160.2L174.3 158.3L176.3 156.4L177.6 157L178.9 157.7L176.8 159.5L174.7 161.4L173.5 160.8z"/>
<path color="#f7b599" d="M224.5 150.8L226.6 150.4L228.7 150L229.9 151.7L231.1 153.5L229 153.8L226.9 154.3L225.7 152.5z"/>
<path color="#f2cbb7" d="M152.4 171.6L154.4 169.4L156.5 167.1L157.7 167.2L159 167.3L157 169.5L154.9 171.7L153.7 171.6z"/>
<path color="#f5c2aa" d="M165.6 163.4L167.7 161.4L169.7 159.3L171 159.8L172.2 160.2L170.2 162.2L168.1 164.2L166.9 163.8z"/>
<path color="#f3c7b1" d="M159 167.3L161 165.1L163.1 162.9L164.3 163.2L165.6 163.4L163.6 165.5L161.5 167.7L160.3 167.4z"/>
<path color="#f7b497" d="M196.3 151.8L198.3 150.4L200.4 149.1L201.7 150.3L202.9 151.6L200.8 152.8L198.7 154.1L197.5 152.9z"/>
<path color="#d1dae9" d="M114.5 207.3L116.4 203.1L118.4 199.9L119.7 198.7L121 197.6L119 201L117.1 205.4L115.8 206.4z"/>
<path color="#efcebd" d="M273.8 169.9L275.9 171.1L278.1 172.5L279.2 174.4L280.3 176.3L278.2 175L276.1 173.7L274.9 171.8z"/>
<path color="#e4d9d2" d="M130.1 189.2L132.1 186.7L134.1 184.3L135.4 183.6L136.7 183L134.7 185.4L132.6 187.8L131.4 188.5z"/>
<path color="#f5c0a7" d="M254.6 158.7L256.7 159.3L258.8 160L260 161.9L261.1 163.9L259 163.2L256.9 162.6L255.7 160.6z"/>
<path color="#f7b89c" d="M239.6 153L241.7 153.1L243.8 153.3L245 155.1L246.1 157L244 156.8L241.9 156.7L240.7 154.9z"/>
<path color="#eed0c0" d="M278.1 172.5L280.2 173.9L282.3 175.4L283.4 177.3L284.5 179.1L282.4 177.7L280.3 176.3L279.2 174.4z"/>
<path color="#f7b497" d="M189.6 152.6L191.7 151.1L193.8 149.6L195 150.6L196.3 151.8L194.2 153.2L192.1 154.6L190.9 153.6z"/>
<path color="#f7b093" d="M207.1 149.4L209.2 148.4L211.3 147.4L212.5 148.8L213.7 150.3L211.6 151.2L209.5 152.2L208.3 150.8z"/>
<path color="#ead4c8" d="M136.7 183L138.7 180.6L140.7 178.1L142 177.6L143.2 177.2L141.2 179.6L139.2 182L137.9 182.4z"/>
<path color="#f7b396" d="M228.7 150L230.8 149.7L233 149.5L234.1 151.3L235.3 153.1L233.2 153.2L231.1 153.5L229.9 151.7z"/>
<path color="#f7b093" d="M217.9 148.8L220 148.1L222.1 147.5L223.3 149.2L224.5 150.8L222.4 151.4L220.3 152L219.1 150.4z"/>
<path color="#ecd3c5" d="M282.3 175.4L284.4 177L286.5 178.6L287.6 180.5L288.7 182.3L286.6 180.7L284.5 179.1L283.4 177.3z"/>
<path color="#dcdddd" d="M121 197.6L123 195.2L125 192.7L126.2 191.7L127.5 190.8L125.5 193.3L123.5 195.7L122.3 196.6z"/>
<path color="#f5c1a9" d="M258.8 160L261 160.8L263.1 161.7L264.2 163.6L265.4 165.6L263.2 164.7L261.1 163.9L260 161.9z"/>
<path color="#f7b497" d="M183 154.2L185.1 152.5L187.1 150.8L188.4 151.7L189.6 152.6L187.5 154.2L185.5 155.8L184.2 155z"/>
<path color="#efcebd" d="M143.2 177.2L145.3 174.8L147.3 172.5L148.6 172.2L149.8 171.9L147.8 174.2L145.8 176.6L144.5 176.9z"/>
<path color="#f7b79b" d="M243.8 153.3L245.9 153.5L248 153.9L249.2 155.8L250.4 157.7L248.2 157.3L246.1 157L245 155.1z"/>
<path color="#ead5c9" d="M286.5 178.6L288.6 180.4L290.8 182.2L291.9 183.9L293 185.7L290.9 184L288.7 182.3L287.6 180.5z"/>
<path color="#d1dae9" d="M111.9 209L113.9 205.4L115.8 202.4L117.1 201.1L118.4 199.9L116.4 203.1L114.5 207.3L113.2 208.1z"/>
<path color="#6b8df0" d="M328.5 227.8L328.6 301.6L330.7 302.2L331.9 301.1L333 300L330.8 299.4L330.7 229.5L329.6 228.6z"/>
<path color="#f2c9b4" d="M149.8 171.9L151.9 169.6L153.9 167.3L155.2 167.2L156.5 167.1L154.4 169.4L152.4 171.6L151.1 171.7z"/>
<path color="#f7b79b" d="M176.3 156.4L178.4 154.6L180.5 152.7L181.7 153.4L183 154.2L180.9 155.9L178.9 157.7L177.6 157z"/>
<path color="#f7ad90" d="M200.4 149.1L202.5 147.9L204.6 146.8L205.9 148L207.1 149.4L205 150.5L202.9 151.6L201.7 150.3z"/>
<path color="#e7d7ce" d="M290.8 182.2L292.9 184L295 185.9L296.1 187.7L297.2 189.4L295.1 187.5L293 185.7L291.9 183.9z"/>
<path color="#f5c2aa" d="M156.5 167.1L158.5 164.9L160.5 162.7L161.8 162.8L163.1 162.9L161 165.1L159 167.3L157.7 167.2z"/>
<path color="#f7b99e" d="M169.7 159.3L171.8 157.4L173.8 155.4L175.1 155.9L176.3 156.4L174.3 158.3L172.2 160.2L171 159.8z"/>
<path color="#e5d8d1" d="M127.5 190.8L129.5 188.3L131.5 185.9L132.8 185L134.1 184.3L132.1 186.7L130.1 189.2L128.8 189.9z"/>
<path color="#f5c2aa" d="M263.1 161.7L265.2 162.6L267.3 163.7L268.5 165.6L269.6 167.5L267.5 166.5L265.4 165.6L264.2 163.6z"/>
<path color="#f6bea4" d="M163.1 162.9L165.1 160.8L167.2 158.7L168.4 159L169.7 159.3L167.7 161.4L165.6 163.4L164.3 163.2z"/>
<path color="#e3d9d3" d="M295 185.9L297.1 187.9L299.2 190L300.3 191.6L301.4 193.3L299.3 191.3L297.2 189.4L296.1 187.7z"/>
<path color="#f7b093" d="M233 149.5L235.1 149.4L237.2 149.4L238.4 151.2L239.6 153L237.4 153L235.3 153.1L234.1 151.3z"/>
<path color="#dedcdb" d="M299.2 190L301.3 192.1L303.4 194.3L304.5 195.9L305.6 197.5L303.5 195.4L301.4 193.3L300.3 191.6z"/>
<path color="#f7aa8c" d="M211.3 147.4L213.4 146.5L215.5 145.7L216.7 147.2L217.9 148.8L215.8 149.5L213.7 150.3L212.5 148.8z"/>
<path color="#dadce0" d="M303.4 194.3L305.6 196.5L307.7 198.8L308.7 200.3L309.8 201.8L307.7 199.6L305.6 197.5L304.5 195.9z"/>
<path color="#d5dbe5" d="M307.7 198.8L309.8 201.1L311.9 203.5L313 204.9L314 206.4L311.9 204.1L309.8 201.8L308.7 200.3z"/>
<path color="#f7b79b" d="M248 153.9L250.2 154.3L252.3 154.8L253.4 156.7L254.6 158.7L252.5 158.1L250.4 157.7L249.2 155.8z"/>
<path color="#c9d7f0" d="M316.1 208.4L318.2 210.9L320.3 213.4L321.4 214.8L322.4 216.1L320.3 213.6L318.2 211.2L317.2 209.8z"/>
<path color="#cfdaea" d="M311.9 203.5L314 205.9L316.1 208.4L317.2 209.8L318.2 211.2L316.1 208.8L314 206.4L313 204.9z"/>
<path color="#f7aa8c" d="M222.1 147.5L224.2 147L226.3 146.6L227.5 148.3L228.7 150L226.6 150.4L224.5 150.8L223.3 149.2z"/>
<path color="#f7ac8e" d="M193.8 149.6L195.9 148.2L198 146.8L199.2 148L200.4 149.1L198.3 150.4L196.3 151.8L195 150.6z"/>
<path color="#6f92f3" d="M97.3 301.7L99.3 302.3L99.3 227.7L100.6 225.3L101.9 223L101.9 300.1L99.9 299.5L98.6 300.6z"/>
<path color="#f5c4ac" d="M267.3 163.7L269.4 164.8L271.6 166.1L272.7 167.9L273.8 169.9L271.7 168.7L269.6 167.5L268.5 165.6z"/>
<path color="#ecd3c5" d="M134.1 184.3L136.1 181.8L138.1 179.4L139.4 178.7L140.7 178.1L138.7 180.6L136.7 183L135.4 183.6z"/>
<path color="#aac7fd" d="M103.5 291.6L103.6 217.5L105.6 215.1L106.9 213.3L108.1 211.5L106.1 214L104.2 216.4L104.8 290.6z"/>
<path color="#dcdddd" d="M118.4 199.9L120.4 197.4L122.4 194.9L123.7 193.8L125 192.7L123 195.2L121 197.6L119.7 198.7z"/>
<path color="#abc8fd" d="M326.6 221.7L328.7 224.5L330.8 227.4L331.8 228.4L331.1 290.9L330.8 226.8L328.7 224L327.6 222.9z"/>
<path color="#d1dae9" d="M109.3 210.9L111.3 207.9L113.3 205.2L114.6 203.7L115.8 202.4L113.9 205.4L111.9 209L110.6 209.9z"/>
<path color="#f4c6af" d="M271.6 166.1L273.7 167.4L275.8 168.7L276.9 170.6L278.1 172.5L275.9 171.1L273.8 169.9L272.7 167.9z"/>
<path color="#f1cdba" d="M140.7 178.1L142.7 175.8L144.7 173.4L146 172.9L147.3 172.5L145.3 174.8L143.2 177.2L142 177.6z"/>
<path color="#f7ac8e" d="M187.1 150.8L189.2 149.2L191.3 147.7L192.5 148.6L193.8 149.6L191.7 151.1L189.6 152.6L188.4 151.7z"/>
<path color="#f7ad90" d="M237.2 149.4L239.3 149.4L241.4 149.6L242.6 151.4L243.8 153.3L241.7 153.1L239.6 153L238.4 151.2z"/>
<path color="#f7b79b" d="M252.3 154.8L254.4 155.5L256.5 156.2L257.7 158.1L258.8 160L256.7 159.3L254.6 158.7L253.4 156.7z"/>
<path color="#f7a688" d="M204.6 146.8L206.7 145.7L208.8 144.7L210.1 146L211.3 147.4L209.2 148.4L207.1 149.4L205.9 148z"/>
<path color="#5b7ae5" d="M328.3 231.6L328.4 307.3L330.5 308L331.7 306.9L332.8 305.7L330.6 305.1L328.5 304.5L329.4 232.2z"/>
<path color="#e5d8d1" d="M125 192.7L127 190.2L129 187.8L130.3 186.8L131.5 185.9L129.5 188.3L127.5 190.8L126.2 191.7z"/>
<path color="#f4c6af" d="M147.3 172.5L149.3 170.1L151.4 167.8L152.6 167.5L153.9 167.3L151.9 169.6L149.8 171.9L148.6 172.2z"/>
<path color="#85a8fc" d="M99.9 299.5L101.9 300.1L101.9 223L103.1 220.7L104.4 218.5L102.4 220.8L102.5 297.3L101.2 298.4z"/>
<path color="#f2c9b4" d="M275.8 168.7L277.9 170.2L280.1 171.8L281.2 173.6L282.3 175.4L280.2 173.9L278.1 172.5L276.9 170.6z"/>
<path color="#f7ad90" d="M180.5 152.7L182.6 151L184.6 149.3L185.9 150L187.1 150.8L185.1 152.5L183 154.2L181.7 153.4z"/>
<path color="#f7a889" d="M226.3 146.6L228.5 146.3L230.6 146.1L231.8 147.8L233 149.5L230.8 149.7L228.7 150L227.5 148.3z"/>
<path color="#f6a586" d="M215.5 145.7L217.6 145L219.7 144.4L220.9 145.9L222.1 147.5L220 148.1L217.9 148.8L216.7 147.2z"/>
<path color="#f6bfa6" d="M153.9 167.3L156 165.1L158 162.8L159.3 162.7L160.5 162.7L158.5 164.9L156.5 167.1L155.2 167.2z"/>
<path color="#f7b093" d="M173.8 155.4L175.9 153.5L178 151.6L179.2 152.1L180.5 152.7L178.4 154.6L176.3 156.4L175.1 155.9z"/>
<path color="#f2cbb7" d="M280.1 171.8L282.2 173.4L284.3 175.1L285.4 176.8L286.5 178.6L284.4 177L282.3 175.4L281.2 173.6z"/>
<path color="#f7b99e" d="M160.5 162.7L162.6 160.6L164.6 158.4L165.9 158.5L167.2 158.7L165.1 160.8L163.1 162.9L161.8 162.8z"/>
<path color="#f7b497" d="M167.2 158.7L169.2 156.7L171.3 154.7L172.6 155L173.8 155.4L171.8 157.4L169.7 159.3L168.4 159z"/>
<path color="#f7b79b" d="M256.5 156.2L258.7 157L260.8 157.9L261.9 159.8L263.1 161.7L261 160.8L258.8 160L257.7 158.1z"/>
<path color="#dcdddd" d="M115.8 202.4L117.8 199.9L119.8 197.4L121.1 196.1L122.4 194.9L120.4 197.4L118.4 199.9L117.1 201.1z"/>
<path color="#edd2c3" d="M131.5 185.9L133.6 183.4L135.6 181L136.8 180.1L138.1 179.4L136.1 181.8L134.1 184.3L132.8 185z"/>
<path color="#f6a586" d="M198 146.8L200.1 145.6L202.2 144.4L203.4 145.5L204.6 146.8L202.5 147.9L200.4 149.1L199.2 148z"/>
<path color="#f7ac8e" d="M241.4 149.6L243.6 149.8L245.7 150.2L246.9 152L248 153.9L245.9 153.5L243.8 153.3L242.6 151.4z"/>
<path color="#efcebd" d="M284.3 175.1L286.4 176.8L288.5 178.7L289.7 180.4L290.8 182.2L288.6 180.4L286.5 178.6L285.4 176.8z"/>
<path color="#cfdaea" d="M106.7 213.4L108.7 210.8L110.7 208.2L112 206.7L113.3 205.2L111.3 207.9L109.3 210.9L108 212.1z"/>
<path color="#edd1c2" d="M288.5 178.7L290.7 180.6L292.8 182.6L293.9 184.2L295 185.9L292.9 184L290.8 182.2L289.7 180.4z"/>
<path color="#f7b89c" d="M260.8 157.9L262.9 158.9L265 159.9L266.2 161.8L267.3 163.7L265.2 162.6L263.1 161.7L261.9 159.8z"/>
<path color="#ead4c8" d="M292.8 182.6L294.9 184.6L297 186.7L298.1 188.3L299.2 190L297.1 187.9L295 185.9L293.9 184.2z"/>
<path color="#f2cbb7" d="M138.1 179.4L140.2 177L142.2 174.6L143.5 173.9L144.7 173.4L142.7 175.8L140.7 178.1L139.4 178.7z"/>
<path color="#c3d5f4" d="M322.4 216.2L324.5 219L326.6 221.7L327.6 222.9L328.7 224L326.6 221.3L324.5 218.7L323.4 217.4z"/>
<path color="#f5a081" d="M208.8 144.7L210.9 143.8L213 142.9L214.3 144.3L215.5 145.7L213.4 146.5L211.3 147.4L210.1 146z"/>
<path color="#f6a586" d="M230.6 146.1L232.7 145.9L234.8 145.9L236 147.6L237.2 149.4L235.1 149.4L233 149.5L231.8 147.8z"/>
<path color="#e6d7cf" d="M297 186.7L299.1 188.9L301.3 191.1L302.4 192.7L303.4 194.3L301.3 192.1L299.2 190L298.1 188.3z"/>
<path color="#e5d8d1" d="M122.4 194.9L124.4 192.4L126.4 190L127.7 188.8L129 187.8L127 190.2L125 192.7L123.7 193.8z"/>
<path color="#cad8ef" d="M318.1 210.9L320.2 213.5L322.4 216.2L323.4 217.4L324.5 218.7L322.4 216L320.3 213.4L319.2 212.1z"/>
<path color="#f6a385" d="M191.3 147.7L193.4 146.2L195.5 144.8L196.7 145.8L198 146.8L195.9 148.2L193.8 149.6L192.5 148.6z"/>
<path color="#e1dad6" d="M301.3 191.1L303.4 193.4L305.5 195.8L306.6 197.2L307.7 198.8L305.6 196.5L303.4 194.3L302.4 192.7z"/>
<path color="#d1dae9" d="M313.9 205.6L316 208.2L318.1 210.9L319.2 212.1L320.3 213.4L318.2 210.9L316.1 208.4L315 207z"/>
<path color="#d7dce3" d="M309.7 200.6L311.8 203.1L313.9 205.6L315 207L316.1 208.4L314 205.9L311.9 203.5L310.8 202z"/>
<path color="#4a63d3" d="M328.2 236.8L328.2 313.1L330.4 313.7L331.5 312.6L332.6 311.5L330.5 310.9L328.3 310.2L327.2 311.3z"/>
<path color="#dcdddd" d="M305.5 195.8L307.6 198.2L309.7 200.6L310.8 202L311.9 203.5L309.8 201.1L307.7 198.8L306.6 197.2z"/>
<path color="#f5a081" d="M219.7 144.4L221.8 143.9L223.9 143.4L225.1 145L226.3 146.6L224.2 147L222.1 147.5L220.9 145.9z"/>
<path color="#f7aa8c" d="M245.7 150.2L247.8 150.6L250 151.1L251.1 153L252.3 154.8L250.2 154.3L248 153.9L246.9 152z"/>
<path color="#f5c4ac" d="M144.7 173.4L146.8 171L148.8 168.7L150.1 168.2L151.4 167.8L149.3 170.1L147.3 172.5L146 172.9z"/>
<path color="#f7ba9f" d="M265 159.9L267.2 161.1L269.3 162.4L270.4 164.2L271.6 166.1L269.4 164.8L267.3 163.7L266.2 161.8z"/>
<path color="#5b7ae5" d="M93.6 309.7L95.6 310.3L97.7 310.9L96.9 236.3L98.2 233.6L98.2 308.1L96.2 307.4L94.9 308.5z"/>
<path color="#dbdcde" d="M113.3 205.2L115.3 202.7L117.3 200.2L118.5 198.8L119.8 197.4L117.8 199.9L115.8 202.4L114.6 203.7z"/>
<path color="#f6a586" d="M184.6 149.3L186.7 147.6L188.8 146L190.1 146.8L191.3 147.7L189.2 149.2L187.1 150.8L185.9 150z"/>
<path color="#a2c1ff" d="M326.5 223.4L328.6 226.4L330.7 229.5L329.8 297.7L330.9 296.6L330.7 228.3L328.6 225.3L327.5 224.4z"/>
<path color="#81a4fb" d="M326.3 226.4L328.4 229.6L328.5 304.5L329.6 303.4L330.7 302.2L328.6 301.6L328.5 227.8L327.4 227.1z"/>
<path color="#cedaeb" d="M104.2 216.4L106.1 214L108.1 211.5L109.4 209.8L110.7 208.2L108.7 210.8L106.7 213.4L105.5 214.8z"/>
<path color="#f6bda2" d="M151.4 167.8L153.4 165.5L155.5 163.3L156.7 163L158 162.8L156 165.1L153.9 167.3L152.6 167.5z"/>
<path color="#edd2c3" d="M129 187.8L131 185.3L133 182.9L134.3 181.9L135.6 181L133.6 183.4L131.5 185.9L130.3 186.8z"/>
<path color="#f7a688" d="M178 151.6L180 149.8L182.1 148.1L183.4 148.6L184.6 149.3L182.6 151L180.5 152.7L179.2 152.1z"/>
<path color="#f59d7e" d="M202.2 144.4L204.3 143.2L206.4 142.2L207.6 143.4L208.8 144.7L206.7 145.7L204.6 146.8L203.4 145.5z"/>
<path color="#f6bda2" d="M269.3 162.4L271.4 163.7L273.6 165.1L274.7 166.9L275.8 168.7L273.7 167.4L271.6 166.1L270.4 164.2z"/>
<path color="#f7b599" d="M158 162.8L160.1 160.6L162.1 158.5L163.4 158.4L164.6 158.4L162.6 160.6L160.5 162.7L159.3 162.7z"/>
<path color="#f6a283" d="M234.8 145.9L237 145.9L239.1 146.1L240.3 147.8L241.4 149.6L239.3 149.4L237.2 149.4L236 147.6z"/>
<path color="#f7aa8c" d="M171.3 154.7L173.4 152.7L175.4 150.8L176.7 151.2L178 151.6L175.9 153.5L173.8 155.4L172.6 155z"/>
<path color="#f7b093" d="M164.6 158.4L166.7 156.3L168.8 154.3L170 154.5L171.3 154.7L169.2 156.7L167.2 158.7L165.9 158.5z"/>
<path color="#f7aa8c" d="M250 151.1L252.1 151.8L254.2 152.5L255.4 154.3L256.5 156.2L254.4 155.5L252.3 154.8L251.1 153z"/>
<path color="#e5d8d1" d="M119.8 197.4L121.8 195L123.8 192.5L125.1 191.2L126.4 190L124.4 192.4L122.4 194.9L121.1 196.1z"/>
<path color="#f6bfa6" d="M273.6 165.1L275.7 166.6L277.8 168.2L278.9 170L280.1 171.8L277.9 170.2L275.8 168.7L274.7 166.9z"/>
<path color="#f49a7b" d="M213 142.9L215.2 142.2L217.3 141.5L218.5 142.9L219.7 144.4L217.6 145L215.5 145.7L214.3 144.3z"/>
<path color="#f59c7d" d="M223.9 143.4L226.1 143.1L228.2 142.8L229.4 144.4L230.6 146.1L228.5 146.3L226.3 146.6L225.1 145z"/>
<path color="#f2cab5" d="M135.6 181L137.6 178.5L139.6 176.1L140.9 175.3L142.2 174.6L140.2 177L138.1 179.4L136.8 180.1z"/>
<path color="#f59c7d" d="M195.5 144.8L197.6 143.5L199.7 142.2L200.9 143.3L202.2 144.4L200.1 145.6L198 146.8L196.7 145.8z"/>
<path color="#dadce0" d="M110.7 208.2L112.7 205.7L114.7 203.3L116 201.7L117.3 200.2L115.3 202.7L113.3 205.2L112 206.7z"/>
<path color="#f5c2aa" d="M277.8 168.2L279.9 169.9L282.1 171.6L283.2 173.3L284.3 175.1L282.2 173.4L280.1 171.8L278.9 170z"/>
<path color="#f7ac8e" d="M254.2 152.5L256.3 153.3L258.5 154.2L259.6 156L260.8 157.9L258.7 157L256.5 156.2L255.4 154.3z"/>
<path color="#f5c2aa" d="M142.2 174.6L144.2 172.2L146.3 169.8L147.5 169.2L148.8 168.7L146.8 171L144.7 173.4L143.5 173.9z"/>
<path color="#f3c7b1" d="M282.1 171.6L284.2 173.4L286.3 175.3L287.4 177L288.5 178.7L286.4 176.8L284.3 175.1L283.2 173.3z"/>
<path color="#f5a081" d="M239.1 146.1L241.2 146.3L243.3 146.6L244.5 148.4L245.7 150.2L243.6 149.8L241.4 149.6L240.3 147.8z"/>
<path color="#c3d5f4" d="M324.4 219.5L326.5 222.4L328.6 225.3L329.7 226.3L330.8 227.4L328.7 224.5L326.6 221.7L325.5 220.6z"/>
<path color="#edd2c3" d="M126.4 190L128.4 187.5L130.4 185.1L131.7 183.9L133 182.9L131 185.3L129 187.8L127.7 188.8z"/>
<path color="#f2cab5" d="M286.3 175.3L288.4 177.3L290.6 179.3L291.7 180.9L292.8 182.6L290.7 180.6L288.5 178.7L287.4 177z"/>
<path color="#f59c7d" d="M188.8 146L190.9 144.5L193 143.1L194.2 143.9L195.5 144.8L193.4 146.2L191.3 147.7L190.1 146.8z"/>
<path color="#cbd8ee" d="M320.2 213.9L322.3 216.7L324.4 219.5L325.5 220.6L326.6 221.7L324.5 219L322.4 216.2L321.3 215z"/>
<path color="#f39577" d="M206.4 142.2L208.5 141.2L210.6 140.3L211.8 141.6L213 142.9L210.9 143.8L208.8 144.7L207.6 143.4z"/>
<path color="#efcebd" d="M290.6 179.3L292.7 181.4L294.8 183.6L295.9 185.1L297 186.7L294.9 184.6L292.8 182.6L291.7 180.9z"/>
<path color="#d2dbe8" d="M316 208.4L318.1 211.1L320.2 213.9L321.3 215L322.4 216.2L320.2 213.5L318.1 210.9L317.1 209.6z"/>
<path color="#f7ba9f" d="M148.8 168.7L150.9 166.3L152.9 164.1L154.2 163.6L155.5 163.3L153.4 165.5L151.4 167.8L150.1 168.2z"/>
<path color="#f7ad90" d="M258.5 154.2L260.6 155.2L262.7 156.3L263.9 158.1L265 159.9L262.9 158.9L260.8 157.9L259.6 156z"/>
<path color="#d8dce2" d="M311.8 203L313.9 205.7L316 208.4L317.1 209.6L318.1 210.9L316 208.2L313.9 205.6L312.8 204.3z"/>
<path color="#edd2c3" d="M294.8 183.6L296.9 185.8L299.1 188.1L300.2 189.6L301.3 191.1L299.1 188.9L297 186.7L295.9 185.1z"/>
<path color="#f4987a" d="M228.2 142.8L230.3 142.6L232.4 142.6L233.6 144.2L234.8 145.9L232.7 145.9L230.6 146.1L229.4 144.4z"/>
<path color="#dedcdb" d="M307.5 197.9L309.6 200.4L311.8 203L312.8 204.3L313.9 205.6L311.8 203.1L309.7 200.6L308.6 199.2z"/>
<path color="#e9d5cb" d="M299.1 188.1L301.2 190.5L303.3 192.9L304.4 194.3L305.5 195.8L303.4 193.4L301.3 191.1L300.2 189.6z"/>
<path color="#e4d9d2" d="M117.3 200.2L119.3 197.8L121.3 195.3L122.6 193.9L123.8 192.5L121.8 195L119.8 197.4L118.5 198.8zM303.3 192.9L305.4 195.3L307.5 197.9L308.6 199.2L309.7 200.6L307.6 198.2L305.5 195.8L304.4 194.3z"/>
<path color="#f59d7e" d="M182.1 148.1L184.2 146.4L186.3 144.7L187.6 145.3L188.8 146L186.7 147.6L184.6 149.3L183.4 148.6z"/>
<path color="#f39577" d="M217.3 141.5L219.4 140.9L221.5 140.4L222.7 141.9L223.9 143.4L221.8 143.9L219.7 144.4L218.5 142.9z"/>
<path color="#f7b396" d="M155.5 163.3L157.5 161L159.6 158.8L160.8 158.6L162.1 158.5L160.1 160.6L158 162.8L156.7 163z"/>
<path color="#d8dce2" d="M108.1 211.5L110.1 209.1L112.1 206.7L113.4 205L114.7 203.3L112.7 205.7L110.7 208.2L109.4 209.8z"/>
<path color="#f2cab5" d="M133 182.9L135 180.4L137.1 178L138.3 177L139.6 176.1L137.6 178.5L135.6 181L134.3 181.9z"/>
<path color="#f59f80" d="M243.3 146.6L245.5 147.1L247.6 147.6L248.8 149.3L250 151.1L247.8 150.6L245.7 150.2L244.5 148.4z"/>
<path color="#f5a081" d="M175.4 150.8L177.5 148.9L179.6 147.1L180.9 147.6L182.1 148.1L180 149.8L178 151.6L176.7 151.2z"/>
<path color="#f7aa8c" d="M162.1 158.5L164.2 156.3L166.2 154.2L167.5 154.2L168.8 154.3L166.7 156.3L164.6 158.4L163.4 158.4z"/>
<path color="#f6a586" d="M168.8 154.3L170.8 152.3L172.9 150.3L174.2 150.5L175.4 150.8L173.4 152.7L171.3 154.7L170 154.5z"/>
<path color="#f7b093" d="M262.7 156.3L264.9 157.5L267 158.8L268.2 160.5L269.3 162.4L267.2 161.1L265 159.9L263.9 158.1z"/>
<path color="#4961d2" d="M89.8 317.7L91.9 318.3L94 319L95.3 317.9L94.6 246.9L94.5 316.1L92.5 315.4L91.2 316.6z"/>
<path color="#f29274" d="M199.7 142.2L201.8 141L203.9 139.9L205.1 141L206.4 142.2L204.3 143.2L202.2 144.4L200.9 143.3z"/>
<path color="#82a6fb" d="M96.2 307.4L98.2 308.1L98.2 233.6L99.5 230.9L100.8 228.3L98.7 230.4L98.8 305.2L97.5 306.3z"/>
<path color="#edd2c3" d="M123.8 192.5L125.9 190.1L127.9 187.6L129.2 186.3L130.4 185.1L128.4 187.5L126.4 190L125.1 191.2z"/>
<path color="#f5c1a9" d="M139.6 176.1L141.7 173.7L143.7 171.4L145 170.6L146.3 169.8L144.2 172.2L142.2 174.6L140.9 175.3z"/>
<path color="#f7b396" d="M267 158.8L269.1 160.1L271.3 161.6L272.4 163.3L273.6 165.1L271.4 163.7L269.3 162.4L268.2 160.5z"/>
<path color="#f39577" d="M232.4 142.6L234.6 142.6L236.7 142.7L237.9 144.4L239.1 146.1L237 145.9L234.8 145.9L233.6 144.2z"/>
<path color="#f59f80" d="M247.6 147.6L249.7 148.2L251.9 148.9L253.1 150.7L254.2 152.5L252.1 151.8L250 151.1L248.8 149.3z"/>
<path color="#f18f71" d="M210.6 140.3L212.7 139.5L214.8 138.8L216.1 140.1L217.3 141.5L215.2 142.2L213 142.9L211.8 141.6z"/>
<path color="#e3d9d3" d="M114.7 203.3L116.7 200.9L118.7 198.5L120 196.9L121.3 195.3L119.3 197.8L117.3 200.2L116 201.7z"/>
<path color="#c0d4f5" d="M102.5 297.3L102.4 220.8L104.4 218.5L105.7 216.4L107 214.3L105 216.6L103 219L101.7 221z"/>
<path color="#f29274" d="M193 143.1L195.1 141.7L197.2 140.4L198.5 141.3L199.7 142.2L197.6 143.5L195.5 144.8L194.2 143.9z"/>
<path color="#d6dce4" d="M105.6 215.1L107.6 212.7L109.6 210.4L110.8 208.5L112.1 206.7L110.1 209.1L108.1 211.5L106.9 213.3z"/>
<path color="#f29072" d="M221.5 140.4L223.6 140L225.8 139.7L227 141.2L228.2 142.8L226.1 143.1L223.9 143.4L222.7 141.9z"/>
<path color="#f7b599" d="M271.3 161.6L273.4 163.1L275.5 164.8L276.7 166.5L277.8 168.2L275.7 166.6L273.6 165.1L272.4 163.3z"/>
<path color="#f7b89c" d="M146.3 169.8L148.3 167.5L150.3 165.2L151.6 164.6L152.9 164.1L150.9 166.3L148.8 168.7L147.5 169.2z"/>
<path color="#f2cab5" d="M130.4 185.1L132.5 182.6L134.5 180.2L135.8 179.1L137.1 178L135 180.4L133 182.9L131.7 183.9z"/>
<path color="#f7b99e" d="M275.5 164.8L277.7 166.5L279.8 168.3L280.9 169.9L282.1 171.6L279.9 169.9L277.8 168.2L276.7 166.5z"/>
<path color="#82a6fb" d="M326.1 230.7L328.3 234L328.3 310.2L329.4 309.1L330.5 308L328.4 307.3L328.3 231.6L327.2 231.1z"/>
<path color="#f29274" d="M186.3 144.7L188.4 143.1L190.5 141.6L191.8 142.3L193 143.1L190.9 144.5L188.8 146L187.6 145.3z"/>
<path color="#cad8ef" d="M322.2 217.5L324.3 220.4L326.5 223.4L327.5 224.4L328.6 225.3L326.5 222.4L324.4 219.5L323.3 218.5z"/>
<path color="#f5a081" d="M251.9 148.9L254 149.8L256.2 150.7L257.3 152.4L258.5 154.2L256.3 153.3L254.2 152.5L253.1 150.7z"/>
<path color="#f7b093" d="M152.9 164.1L155 161.8L157 159.6L158.3 159.2L159.6 158.8L157.5 161L155.5 163.3L154.2 163.6z"/>
<path color="#f6bea4" d="M279.8 168.3L281.9 170.1L284.1 172.1L285.2 173.7L286.3 175.3L284.2 173.4L282.1 171.6L280.9 169.9z"/>
<path color="#f39475" d="M236.7 142.7L238.8 142.9L241 143.2L242.2 144.9L243.3 146.6L241.2 146.3L239.1 146.1L237.9 144.4z"/>
<path color="#d2dbe8" d="M318 211.7L320.1 214.6L322.2 217.5L323.3 218.5L324.4 219.5L322.3 216.7L320.2 213.9L319.1 212.8z"/>
<path color="#f08b6e" d="M203.9 139.9L206 138.9L208.1 138L209.4 139.1L210.6 140.3L208.5 141.2L206.4 142.2L205.1 141z"/>
<path color="#f39577" d="M179.6 147.1L181.7 145.4L183.8 143.7L185 144.2L186.3 144.7L184.2 146.4L182.1 148.1L180.9 147.6z"/>
<path color="#ecd3c5" d="M121.3 195.3L123.3 192.9L125.3 190.5L126.6 189L127.9 187.6L125.9 190.1L123.8 192.5L122.6 193.9z"/>
<path color="#f7a889" d="M159.6 158.8L161.6 156.7L163.7 154.5L165 154.3L166.2 154.2L164.2 156.3L162.1 158.5L160.8 158.6z"/>
<path color="#d9dce1" d="M313.8 206L315.9 208.8L318 211.7L319.1 212.8L320.2 213.9L318.1 211.1L316 208.4L314.9 207.2z"/>
<path color="#f5c2aa" d="M284.1 172.1L286.2 174.1L288.3 176.2L289.5 177.7L290.6 179.3L288.4 177.3L286.3 175.3L285.2 173.7z"/>
<path color="#f49a7b" d="M172.9 150.3L175 148.4L177.1 146.6L178.3 146.8L179.6 147.1L177.5 148.9L175.4 150.8L174.2 150.5z"/>
<path color="#f5a081" d="M166.2 154.2L168.3 152.2L170.4 150.2L171.7 150.2L172.9 150.3L170.8 152.3L168.8 154.3L167.5 154.2z"/>
<path color="#dfdbd9" d="M309.6 200.5L311.7 203.3L313.8 206L314.9 207.2L316 208.4L313.9 205.7L311.8 203L310.7 201.8z"/>
<path color="#f3c7b1" d="M288.3 176.2L290.5 178.3L292.6 180.6L293.7 182.1L294.8 183.6L292.7 181.4L290.6 179.3L289.5 177.7z"/>
<path color="#d4dbe6" d="M103 219L105 216.6L107 214.3L108.3 212.3L109.6 210.4L107.6 212.7L105.6 215.1L104.3 217z"/>
<path color="#e1dad6" d="M112.1 206.7L114.1 204.3L116.1 201.9L117.4 200.2L118.7 198.5L116.7 200.9L114.7 203.3L113.4 205z"/>
<path color="#f5c0a7" d="M137.1 178L139.1 175.6L141.1 173.2L142.4 172.3L143.7 171.4L141.7 173.7L139.6 176.1L138.3 177z"/>
<path color="#e5d8d1" d="M305.3 195.2L307.4 197.9L309.6 200.5L310.7 201.8L311.8 203L309.6 200.4L307.5 197.9L306.4 196.5z"/>
<path color="#f1ccb8" d="M292.6 180.6L294.7 182.9L296.8 185.2L297.9 186.7L299.1 188.1L296.9 185.8L294.8 183.6L293.7 182.1z"/>
<path color="#f08b6e" d="M225.8 139.7L227.9 139.5L230 139.4L231.2 141L232.4 142.6L230.3 142.6L228.2 142.8L227 141.2z"/>
<path color="#ead4c8" d="M301.1 190.1L303.2 192.6L305.3 195.2L306.4 196.5L307.5 197.9L305.4 195.3L303.3 192.9L302.2 191.5z"/>
<path color="#f6a283" d="M256.2 150.7L258.3 151.7L260.4 152.8L261.6 154.5L262.7 156.3L260.6 155.2L258.5 154.2L257.3 152.4z"/>
<path color="#eed0c0" d="M296.8 185.2L299 187.6L301.1 190.1L302.2 191.5L303.3 192.9L301.2 190.5L299.1 188.1L297.9 186.7z"/>
<path color="#f08a6c" d="M214.8 138.8L217 138.2L219.1 137.7L220.3 139L221.5 140.4L219.4 140.9L217.3 141.5L216.1 140.1z"/>
<path color="#f29274" d="M241 143.2L243.1 143.7L245.3 144.2L246.4 145.9L247.6 147.6L245.5 147.1L243.3 146.6L242.2 144.9z"/>
<path color="#f08a6c" d="M197.2 140.4L199.3 139.1L201.4 138L202.7 138.9L203.9 139.9L201.8 141L199.7 142.2L198.5 141.3z"/>
<path color="#f2cab5" d="M127.9 187.6L129.9 185.2L131.9 182.8L133.2 181.5L134.5 180.2L132.5 182.6L130.4 185.1L129.2 186.3z"/>
<path color="#f7b79b" d="M143.7 171.4L145.7 169L147.8 166.7L149.1 165.9L150.3 165.2L148.3 167.5L146.3 169.8L145 170.6z"/>
<path color="#f6a586" d="M260.4 152.8L262.6 154L264.7 155.3L265.9 157L267 158.8L264.9 157.5L262.7 156.3L261.6 154.5z"/>
<path color="#6f92f3" d="M325.9 236.4L325.9 315.3L328.1 316L329.2 314.9L330.4 313.7L328.2 313.1L328.2 236.8L327 236.6z"/>
<path color="#6b8df0" d="M92.5 315.4L94.5 316.1L94.6 246.9L95.8 243.9L97.1 240.9L97.1 313.8L95.1 313.2L93.8 314.3z"/>
<path color="#ead4c8" d="M118.7 198.5L120.7 196.1L122.7 193.7L124 192L125.3 190.5L123.3 192.9L121.3 195.3L120 196.9z"/>
<path color="#dfdbd9" d="M109.6 210.4L111.6 208L113.6 205.7L114.9 203.7L116.1 201.9L114.1 204.3L112.1 206.7L110.8 208.5z"/>
<path color="#f08a6c" d="M190.5 141.6L192.6 140.2L194.7 138.8L196 139.6L197.2 140.4L195.1 141.7L193 143.1L191.8 142.3z"/>
<path color="#f7ad90" d="M150.3 165.2L152.4 162.9L154.5 160.7L155.7 160.1L157 159.6L155 161.8L152.9 164.1L151.6 164.6z"/>
<path color="#f7a889" d="M264.7 155.3L266.8 156.7L269 158.2L270.1 159.9L271.3 161.6L269.1 160.1L267 158.8L265.9 157z"/>
<path color="#f08a6c" d="M230 139.4L232.2 139.4L234.3 139.6L235.5 141.1L236.7 142.7L234.6 142.6L232.4 142.6L231.2 141z"/>
<path color="#ee8468" d="M208.1 138L210.3 137.1L212.4 136.4L213.6 137.6L214.8 138.8L212.7 139.5L210.6 140.3L209.4 139.1z"/>
<path color="#f29274" d="M245.3 144.2L247.4 144.8L249.5 145.6L250.7 147.2L251.9 148.9L249.7 148.2L247.6 147.6L246.4 145.9z"/>
<path color="#ee8468" d="M219.1 137.7L221.2 137.2L223.4 136.9L224.6 138.3L225.8 139.7L223.6 140L221.5 140.4L220.3 139z"/>
<path color="#f5c0a7" d="M134.5 180.2L136.5 177.8L138.6 175.5L139.8 174.3L141.1 173.2L139.1 175.6L137.1 178L135.8 179.1z"/>
<path color="#c9d7f0" d="M324.3 221.7L326.4 224.7L328.5 227.8L329.6 228.6L330.7 229.5L328.6 226.4L326.5 223.4L325.4 222.5z"/>
<path color="#f6a586" d="M157 159.6L159.1 157.4L161.1 155.2L162.4 154.8L163.7 154.5L161.6 156.7L159.6 158.8L158.3 159.2z"/>
<path color="#f08b6e" d="M183.8 143.7L185.9 142.1L188 140.5L189.2 141L190.5 141.6L188.4 143.1L186.3 144.7L185 144.2z"/>
<path color="#f7aa8c" d="M269 158.2L271.1 159.8L273.3 161.5L274.4 163.1L275.5 164.8L273.4 163.1L271.3 161.6L270.1 159.9z"/>
<path color="#abc8fd" d="M98.8 305.2L98.7 230.4L100.8 228.3L102 225.8L103.3 223.3L101.3 225.5L99.3 227.7L100.1 304.1z"/>
<path color="#d1dae9" d="M320.1 215.6L322.2 218.6L324.3 221.7L325.4 222.5L326.5 223.4L324.3 220.4L322.2 217.5L321.2 216.5z"/>
<path color="#f59c7d" d="M163.7 154.5L165.8 152.5L167.8 150.4L169.1 150.3L170.4 150.2L168.3 152.2L166.2 154.2L165 154.3z"/>
<path color="#f18f71" d="M177.1 146.6L179.2 144.8L181.3 143L182.5 143.3L183.8 143.7L181.7 145.4L179.6 147.1L178.3 146.8z"/>
<path color="#f39577" d="M170.4 150.2L172.5 148.2L174.6 146.4L175.8 146.4L177.1 146.6L175 148.4L172.9 150.3L171.7 150.2z"/>
<path color="#f7b093" d="M273.3 161.5L275.4 163.2L277.5 165.1L278.7 166.6L279.8 168.3L277.7 166.5L275.5 164.8L274.4 163.1z"/>
<path color="#f2cbb7" d="M125.3 190.5L127.3 188.1L129.4 185.7L130.6 184.2L131.9 182.8L129.9 185.2L127.9 187.6L126.6 189z"/>
<path color="#81a4fb" d="M95.1 313.2L97.1 313.8L97.1 240.9L98.4 238L99.7 235.1L97.6 237.1L97.7 310.9L96.4 312.1z"/>
<path color="#d8dce2" d="M315.8 209.6L317.9 212.6L320.1 215.6L321.2 216.5L322.2 217.5L320.1 214.6L318 211.7L316.9 210.7z"/>
<path color="#ec8165" d="M201.4 138L203.5 136.9L205.7 135.9L206.9 136.9L208.1 138L206 138.9L203.9 139.9L202.7 138.9z"/>
<path color="#f39475" d="M249.5 145.6L251.7 146.4L253.8 147.3L255 149L256.2 150.7L254 149.8L251.9 148.9L250.7 147.2z"/>
<path color="#dcdddd" d="M107 214.3L109 212L111 209.7L112.3 207.6L113.6 205.7L111.6 208L109.6 210.4L108.3 212.3z"/>
<path color="#ead5c9" d="M116.1 201.9L118.2 199.5L120.2 197.2L121.5 195.4L122.7 193.7L120.7 196.1L118.7 198.5L117.4 200.2z"/>
<path color="#f7b79b" d="M141.1 173.2L143.2 170.9L145.2 168.5L146.5 167.6L147.8 166.7L145.7 169L143.7 171.4L142.4 172.3z"/>
<path color="#f7b497" d="M277.5 165.1L279.7 167L281.8 169L282.9 170.5L284.1 172.1L281.9 170.1L279.8 168.3L278.7 166.6z"/>
<path color="#ee8669" d="M234.3 139.6L236.5 139.8L238.6 140.1L239.8 141.6L241 143.2L238.8 142.9L236.7 142.7L235.5 141.1z"/>
<path color="#dfdbd9" d="M311.6 203.9L313.7 206.7L315.8 209.6L316.9 210.7L318 211.7L315.9 208.8L313.8 206L312.7 204.9z"/>
<path color="#e5d8d1" d="M307.4 198.2L309.5 201L311.6 203.9L312.7 204.9L313.8 206L311.7 203.3L309.6 200.5L308.5 199.4z"/>
<path color="#5d7ce6" d="M325.7 243.5L325.7 321.2L327.9 321.8L329 320.7L330.2 319.6L328 318.9L325.8 318.3L326.8 243.4z"/>
<path color="#f7b99e" d="M281.8 169L283.9 171.1L286.1 173.2L287.2 174.7L288.3 176.2L286.2 174.1L284.1 172.1L282.9 170.5z"/>
<path color="#ead4c8" d="M303.1 192.8L305.2 195.5L307.4 198.2L308.5 199.4L309.6 200.5L307.4 197.9L305.3 195.2L304.2 194z"/>
<path color="#f6bfa6" d="M286.1 173.2L288.2 175.4L290.3 177.7L291.5 179.1L292.6 180.6L290.5 178.3L288.3 176.2L287.2 174.7z"/>
<path color="#efcfbf" d="M298.9 187.5L301 190.1L303.1 192.8L304.2 194L305.3 195.2L303.2 192.6L301.1 190.1L300 188.8z"/>
<path color="#eb7d62" d="M212.4 136.4L214.5 135.7L216.6 135.2L217.9 136.4L219.1 137.7L217 138.2L214.8 138.8L213.6 137.6z"/>
<path color="#f4c5ad" d="M290.3 177.7L292.5 180.1L294.6 182.5L295.7 183.8L296.8 185.2L294.7 182.9L292.6 180.6L291.5 179.1z"/>
<path color="#f2cab5" d="M294.6 182.5L296.7 185L298.9 187.5L300 188.8L301.1 190.1L299 187.6L296.8 185.2L295.7 183.8z"/>
<path color="#ec7f63" d="M223.4 136.9L225.5 136.7L227.6 136.6L228.8 138L230 139.4L227.9 139.5L225.8 139.7L224.6 138.3z"/>
<path color="#f39577" d="M253.8 147.3L256 148.4L258.1 149.5L259.3 151.1L260.4 152.8L258.3 151.7L256.2 150.7L255 149z"/>
<path color="#f7ac8e" d="M147.8 166.7L149.8 164.4L151.9 162.1L153.2 161.3L154.5 160.7L152.4 162.9L150.3 165.2L149.1 165.9z"/>
<path color="#ec7f63" d="M194.7 138.8L196.8 137.6L198.9 136.4L200.2 137.1L201.4 138L199.3 139.1L197.2 140.4L196 139.6z"/>
<path color="#f5c1a9" d="M131.9 182.8L134 180.4L136 178L137.3 176.7L138.6 175.5L136.5 177.8L134.5 180.2L133.2 181.5z"/>
<path color="#d9dce1" d="M104.4 218.5L106.4 216.2L108.4 214L109.7 211.8L111 209.7L109 212L107 214.3L105.7 216.4z"/>
<path color="#ee8669" d="M238.6 140.1L240.7 140.5L242.9 141L244.1 142.6L245.3 144.2L243.1 143.7L241 143.2L239.8 141.6z"/>
<path color="#f1cdba" d="M122.7 193.7L124.8 191.3L126.8 188.9L128.1 187.3L129.4 185.7L127.3 188.1L125.3 190.5L124 192z"/>
<path color="#f6a283" d="M154.5 160.7L156.5 158.4L158.6 156.3L159.9 155.7L161.1 155.2L159.1 157.4L157 159.6L155.7 160.1z"/>
<path color="#e7d7ce" d="M113.6 205.7L115.6 203.3L117.6 201L118.9 199L120.2 197.2L118.2 199.5L116.1 201.9L114.9 203.7z"/>
<path color="#ec8165" d="M188 140.5L190.1 139L192.2 137.6L193.5 138.2L194.7 138.8L192.6 140.2L190.5 141.6L189.2 141z"/>
<path color="#f4987a" d="M258.1 149.5L260.3 150.7L262.4 152.1L263.6 153.7L264.7 155.3L262.6 154L260.4 152.8L259.3 151.1z"/>
<path color="#e97a5f" d="M205.7 135.9L207.8 135.1L209.9 134.3L211.2 135.3L212.4 136.4L210.3 137.1L208.1 138L206.9 136.9z"/>
<path color="#f4987a" d="M161.1 155.2L163.2 153.1L165.3 151.1L166.6 150.7L167.8 150.4L165.8 152.5L163.7 154.5L162.4 154.8z"/>
<path color="#f7b79b" d="M138.6 175.5L140.6 173.1L142.7 170.8L143.9 169.6L145.2 168.5L143.2 170.9L141.1 173.2L139.8 174.3z"/>
<path color="#ee8468" d="M181.3 143L183.4 141.4L185.5 139.8L186.7 140.1L188 140.5L185.9 142.1L183.8 143.7L182.5 143.3z"/>
<path color="#5875e1" d="M88.7 323.5L90.8 324.2L92.8 324.9L92.2 259.2L93.5 256L93.4 321.9L91.3 321.3L90 322.4z"/>
<path color="#bcd2f7" d="M324.1 225.1L326.2 228.4L328.3 231.6L329.4 232.2L328.5 304.5L328.4 229.6L326.3 226.4L325.2 225.7z"/>
<path color="#ea7b60" d="M227.6 136.6L229.8 136.5L231.9 136.6L233.1 138.1L234.3 139.6L232.2 139.4L230 139.4L228.8 138z"/>
<path color="#f29072" d="M167.8 150.4L169.9 148.5L172 146.5L173.3 146.4L174.6 146.4L172.5 148.2L170.4 150.2L169.1 150.3z"/>
<path color="#f08a6c" d="M174.6 146.4L176.6 144.5L178.7 142.7L180 142.8L181.3 143L179.2 144.8L177.1 146.6L175.8 146.4z"/>
<path color="#f59c7d" d="M262.4 152.1L264.5 153.5L266.7 155L267.8 156.6L269 158.2L266.8 156.7L264.7 155.3L263.6 153.7z"/>
<path color="#cfdaea" d="M322.1 220.1L324.2 223.2L326.3 226.4L327.4 227.1L328.5 227.8L326.4 224.7L324.3 221.7L323.2 220.8z"/>
<path color="#4a63d3" d="M325.4 252.1L325.5 327.1L327.7 327.7L328.8 326.6L330 325.4L327.8 324.8L325.6 324.1L324.5 325.3z"/>
<path color="#e9785d" d="M216.6 135.2L218.8 134.7L220.9 134.4L222.1 135.6L223.4 136.9L221.2 137.2L219.1 137.7L217.9 136.4z"/>
<path color="#ee8669" d="M242.9 141L245 141.7L247.2 142.4L248.4 144L249.5 145.6L247.4 144.8L245.3 144.2L244.1 142.6z"/>
<path color="#d6dce4" d="M101.9 223L103.9 220.7L105.9 218.5L107.2 216.2L108.4 214L106.4 216.2L104.4 218.5L103.1 220.7z"/>
<path color="#d7dce3" d="M317.9 213.9L320 216.9L322.1 220.1L323.2 220.8L324.3 221.7L322.2 218.6L320.1 215.6L319 214.7z"/>
<path color="#f5c2aa" d="M129.4 185.7L131.4 183.3L133.4 181L134.7 179.5L136 178L134 180.4L131.9 182.8L130.6 184.2z"/>
<path color="#f5a081" d="M266.7 155L268.8 156.7L271 158.4L272.1 159.9L273.3 161.5L271.1 159.8L269 158.2L267.8 156.6z"/>
<path color="#e5d8d1" d="M111 209.7L113 207.4L115 205.1L116.3 203L117.6 201L115.6 203.3L113.6 205.7L112.3 207.6z"/>
<path color="#f7aa8c" d="M145.2 168.5L147.3 166.2L149.3 164L150.6 163L151.9 162.1L149.8 164.4L147.8 166.7L146.5 167.6z"/>
<path color="#efcebd" d="M120.2 197.2L122.2 194.8L124.2 192.5L125.5 190.7L126.8 188.9L124.8 191.3L122.7 193.7L121.5 195.4z"/>
<path color="#dedcdb" d="M313.6 207.8L315.7 210.8L317.9 213.9L319 214.7L320.1 215.6L317.9 212.6L315.8 209.6L314.7 208.7z"/>
<path color="#e8765c" d="M198.9 136.4L201.1 135.3L203.2 134.2L204.4 135L205.7 135.9L203.5 136.9L201.4 138L200.2 137.1z"/>
<path color="#f6a586" d="M271 158.4L273.1 160.2L275.3 162L276.4 163.5L277.5 165.1L275.4 163.2L273.3 161.5L272.1 159.9z"/>
<path color="#e5d8d1" d="M309.4 201.8L311.5 204.8L313.6 207.8L314.7 208.7L315.8 209.6L313.7 206.7L311.6 203.9L310.5 202.8z"/>
<path color="#ee8669" d="M247.2 142.4L249.3 143.2L251.5 144.2L252.6 145.7L253.8 147.3L251.7 146.4L249.5 145.6L248.4 144z"/>
<path color="#e97a5f" d="M231.9 136.6L234.1 136.8L236.2 137.1L237.4 138.6L238.6 140.1L236.5 139.8L234.3 139.6L233.1 138.1z"/>
<path color="#ead4c8" d="M305.1 196.1L307.3 198.9L309.4 201.8L310.5 202.8L311.6 203.9L309.5 201L307.4 198.2L306.2 197.1z"/>
<path color="#f7aa8c" d="M275.3 162L277.4 164L279.5 166.1L280.7 167.5L281.8 169L279.7 167L277.5 165.1L276.4 163.5z"/>
<path color="#85a8fc" d="M323.7 236.2L325.8 239.8L325.8 318.3L327 317.1L328.1 316L325.9 315.3L325.9 236.4L324.8 236.3z"/>
<path color="#f5a081" d="M151.9 162.1L154 159.9L156 157.7L157.3 156.9L158.6 156.3L156.5 158.4L154.5 160.7L153.2 161.3z"/>
<path color="#efcebd" d="M300.9 190.5L303 193.2L305.1 196.1L306.2 197.1L307.4 198.2L305.2 195.5L303.1 192.8L302 191.6z"/>
<path color="#d2dbe8" d="M99.3 227.7L101.3 225.5L103.3 223.3L104.6 220.9L105.9 218.5L103.9 220.7L101.9 223L100.6 225.3z"/>
<path color="#f7b093" d="M279.5 166.1L281.7 168.2L283.8 170.4L284.9 171.8L286.1 173.2L283.9 171.1L281.8 169L280.7 167.5z"/>
<path color="#f7b79b" d="M136 178L138 175.7L140.1 173.4L141.4 172L142.7 170.8L140.6 173.1L138.6 175.5L137.3 176.7z"/>
<path color="#e67259" d="M209.9 134.3L212.1 133.6L214.2 133L215.4 134L216.6 135.2L214.5 135.7L212.4 136.4L211.2 135.3z"/>
<path color="#e8765c" d="M192.2 137.6L194.3 136.3L196.4 135.1L197.7 135.7L198.9 136.4L196.8 137.6L194.7 138.8L193.5 138.2z"/>
<path color="#f2c9b4" d="M296.6 185.1L298.8 187.8L300.9 190.5L302 191.6L303.1 192.8L301 190.1L298.9 187.5L297.7 186.3z"/>
<path color="#f7b79b" d="M283.8 170.4L286 172.7L288.1 175L289.2 176.3L290.3 177.7L288.2 175.4L286.1 173.2L284.9 171.8z"/>
<path color="#f5c2aa" d="M292.4 179.9L294.5 182.5L296.6 185.1L297.7 186.3L298.9 187.5L296.7 185L294.6 182.5L293.5 181.2z"/>
<path color="#f6bda2" d="M288.1 175L290.2 177.4L292.4 179.9L293.5 181.2L294.6 182.5L292.5 180.1L290.3 177.7L289.2 176.3z"/>
<path color="#e7745b" d="M220.9 134.4L223.1 134.1L225.2 134L226.4 135.2L227.6 136.6L225.5 136.7L223.4 136.9L222.1 135.6z"/>
<path color="#e2dad5" d="M108.4 214L110.5 211.7L112.5 209.5L113.8 207.2L115 205.1L113 207.4L111 209.7L109.7 211.8z"/>
<path color="#f39577" d="M158.6 156.3L160.7 154.1L162.7 152.1L164 151.5L165.3 151.1L163.2 153.1L161.1 155.2L159.9 155.7z"/>
<path color="#f5c4ac" d="M126.8 188.9L128.8 186.6L130.9 184.3L132.1 182.6L133.4 181L131.4 183.3L129.4 185.7L128.1 187.3z"/>
<path color="#f08a6c" d="M251.5 144.2L253.6 145.2L255.8 146.4L256.9 147.9L258.1 149.5L256 148.4L253.8 147.3L252.6 145.7z"/>
<path color="#eed0c0" d="M117.6 201L119.6 198.7L121.7 196.4L122.9 194.4L124.2 192.5L122.2 194.8L120.2 197.2L118.9 199z"/>
<path color="#e97a5f" d="M185.5 139.8L187.6 138.3L189.7 136.8L191 137.2L192.2 137.6L190.1 139L188 140.5L186.7 140.1z"/>
<path color="#abc8fd" d="M323.9 230L326 233.4L328.2 236.8L327.2 311.3L328.3 310.2L328.3 234L326.1 230.7L325 230.3z"/>
<path color="#f08b6e" d="M165.3 151.1L167.4 149L169.5 147.1L170.7 146.8L172 146.5L169.9 148.5L167.8 150.4L166.6 150.7z"/>
<path color="#eb7d62" d="M178.7 142.7L180.8 141L182.9 139.4L184.2 139.5L185.5 139.8L183.4 141.4L181.3 143L180 142.8z"/>
<path color="#ee8468" d="M172 146.5L174.1 144.7L176.2 142.9L177.5 142.7L178.7 142.7L176.6 144.5L174.6 146.4L173.3 146.4z"/>
<path color="#e97a5f" d="M236.2 137.1L238.3 137.6L240.5 138.1L241.7 139.5L242.9 141L240.7 140.5L238.6 140.1L237.4 138.6z"/>
<path color="#f7aa8c" d="M142.7 170.8L144.7 168.5L146.8 166.2L148 165.1L149.3 164L147.3 166.2L145.2 168.5L143.9 169.6z"/>
<path color="#e46e56" d="M203.2 134.2L205.3 133.3L207.4 132.5L208.7 133.3L209.9 134.3L207.8 135.1L205.7 135.9L204.4 135z"/>
<path color="#f08b6e" d="M255.8 146.4L257.9 147.7L260.1 149L261.2 150.5L262.4 152.1L260.3 150.7L258.1 149.5L256.9 147.9z"/>
<path color="#5875e1" d="M90.2 327.1L92.3 327.8L94.3 328.5L95.7 327.3L95 259.5L93 261L92.8 324.9L91.5 326z"/>
<path color="#d5dbe5" d="M319.9 218.7L322 221.9L324.1 225.1L325.2 225.7L326.3 226.4L324.2 223.2L322.1 220.1L321 219.3z"/>
<path color="#dedcdb" d="M105.9 218.5L107.9 216.3L109.9 214.1L111.2 211.7L112.5 209.5L110.5 211.7L108.4 214L107.2 216.2z"/>
<path color="#e57058" d="M225.2 134L227.3 133.9L229.5 134L230.7 135.3L231.9 136.6L229.8 136.5L227.6 136.6L226.4 135.2z"/>
<path color="#f7b89c" d="M133.4 181L135.5 178.6L137.5 176.4L138.8 174.8L140.1 173.4L138 175.7L136 178L134.7 179.5z"/>
<path color="#e36c55" d="M214.2 133L216.3 132.5L218.5 132.1L219.7 133.2L220.9 134.4L218.8 134.7L216.6 135.2L215.4 134z"/>
<path color="#7a9df8" d="M91.3 321.3L93.4 321.9L93.5 256L94.8 252.7L96.1 249.5L94 251.3L94 319L92.7 320.1z"/>
<path color="#dcdddd" d="M315.6 212.3L317.8 215.5L319.9 218.7L321 219.3L322.1 220.1L320 216.9L317.9 213.9L316.8 213.1z"/>
<path color="#f59f80" d="M149.3 164L151.4 161.8L153.5 159.6L154.7 158.6L156 157.7L154 159.9L151.9 162.1L150.6 163z"/>
<path color="#f29072" d="M260.1 149L262.2 150.5L264.4 152L265.5 153.5L266.7 155L264.5 153.5L262.4 152.1L261.2 150.5z"/>
<path color="#ecd3c5" d="M115 205.1L117.1 202.8L119.1 200.5L120.4 198.4L121.7 196.4L119.6 198.7L117.6 201L116.3 203z"/>
<path color="#f4c6af" d="M124.2 192.5L126.3 190.2L128.3 187.9L129.6 186L130.9 184.3L128.8 186.6L126.8 188.9L125.5 190.7z"/>
<path color="#e97a5f" d="M240.5 138.1L242.6 138.7L244.8 139.5L246 140.9L247.2 142.4L245 141.7L242.9 141L241.7 139.5z"/>
<path color="#e36c55" d="M196.4 135.1L198.6 133.9L200.7 132.9L201.9 133.5L203.2 134.2L201.1 135.3L198.9 136.4L197.7 135.7z"/>
<path color="#e4d9d2" d="M311.4 206.1L313.5 209.2L315.6 212.3L316.8 213.1L317.9 213.9L315.7 210.8L313.6 207.8L312.5 206.9z"/>
<path color="#f39577" d="M264.4 152L266.5 153.7L268.7 155.5L269.8 156.9L271 158.4L268.8 156.7L266.7 155L265.5 153.5z"/>
<path color="#f39475" d="M156 157.7L158.1 155.6L160.2 153.5L161.5 152.7L162.7 152.1L160.7 154.1L158.6 156.3L157.3 156.9z"/>
<path color="#ead4c8" d="M307.2 200L309.3 203L311.4 206.1L312.5 206.9L313.6 207.8L311.5 204.8L309.4 201.8L308.3 200.9z"/>
<path color="#dbdcde" d="M103.3 223.3L105.3 221.1L107.3 219L108.6 216.5L109.9 214.1L107.9 216.3L105.9 218.5L104.6 220.9z"/>
<path color="#f49a7b" d="M268.7 155.5L270.8 157.3L273 159.2L274.1 160.6L275.3 162L273.1 160.2L271 158.4L269.8 156.9z"/>
<path color="#f7ac8e" d="M140.1 173.4L142.1 171.1L144.2 168.8L145.5 167.5L146.8 166.2L144.7 168.5L142.7 170.8L141.4 172z"/>
<path color="#e46e56" d="M189.7 136.8L191.8 135.4L193.9 134.2L195.2 134.6L196.4 135.1L194.3 136.3L192.2 137.6L191 137.2z"/>
<path color="#efcfbf" d="M302.9 194.1L305 197L307.2 200L308.3 200.9L309.4 201.8L307.3 198.9L305.1 196.1L304 195.1z"/>
<path color="#e97a5f" d="M244.8 139.5L246.9 140.3L249.1 141.3L250.3 142.7L251.5 144.2L249.3 143.2L247.2 142.4L246 140.9z"/>
<path color="#bcd2f7" d="M97.7 310.9L97.6 237.1L99.7 235.1L100.9 232.3L102.2 229.5L100.2 231.6L98.2 233.6L96.9 236.3z"/>
<path color="#e36c55" d="M229.5 134L231.6 134.2L233.8 134.5L235 135.8L236.2 137.1L234.1 136.8L231.9 136.6L230.7 135.3z"/>
<path color="#4961d2" d="M95.8 332.1L97.9 332.8L100 333.4L101.3 332.3L100.7 260.8L100.6 330.5L98.5 329.8L97.2 330.9z"/>
<path color="#f08a6c" d="M162.7 152.1L164.8 150L166.9 148.1L168.2 147.5L169.5 147.1L167.4 149L165.3 151.1L164 151.5z"/>
<path color="#f5a081" d="M273 159.2L275.1 161.2L277.2 163.3L278.4 164.7L279.5 166.1L277.4 164L275.3 162L274.1 160.6z"/>
<path color="#e16751" d="M207.4 132.5L209.6 131.7L211.7 131.1L213 132L214.2 133L212.1 133.6L209.9 134.3L208.7 133.3z"/>
<path color="#f2c9b4" d="M298.6 188.4L300.8 191.2L302.9 194.1L304 195.1L305.1 196.1L303 193.2L300.9 190.5L299.8 189.4z"/>
<path color="#ead5c9" d="M112.5 209.5L114.5 207.2L116.5 205L117.8 202.7L119.1 200.5L117.1 202.8L115 205.1L113.8 207.2z"/>
<path color="#e67259" d="M182.9 139.4L185.1 137.8L187.2 136.4L188.4 136.5L189.7 136.8L187.6 138.3L185.5 139.8L184.2 139.5z"/>
<path color="#f5c2aa" d="M294.4 182.9L296.5 185.6L298.6 188.4L299.8 189.4L300.9 190.5L298.8 187.8L296.6 185.1L295.5 183.9z"/>
<path color="#f7ba9f" d="M130.9 184.3L132.9 182L135 179.7L136.2 178L137.5 176.4L135.5 178.6L133.4 181L132.1 182.6z"/>
<path color="#f7a688" d="M277.2 163.3L279.4 165.5L281.5 167.8L282.7 169.1L283.8 170.4L281.7 168.2L279.5 166.1L278.4 164.7z"/>
<path color="#ec7f63" d="M169.5 147.1L171.6 145.2L173.7 143.4L174.9 143.1L176.2 142.9L174.1 144.7L172 146.5L170.7 146.8z"/>
<path color="#e16751" d="M218.5 132.1L220.6 131.8L222.8 131.7L224 132.8L225.2 134L223.1 134.1L220.9 134.4L219.7 133.2z"/>
<path color="#f2c9b4" d="M121.7 196.4L123.7 194.1L125.7 191.8L127 189.8L128.3 187.9L126.3 190.2L124.2 192.5L122.9 194.4z"/>
<path color="#f7bca1" d="M290.1 177.6L292.2 180.2L294.4 182.9L295.5 183.9L296.6 185.1L294.5 182.5L292.4 179.9L291.2 178.7z"/>
<path color="#f7ad90" d="M281.5 167.8L283.7 170.1L285.8 172.5L287 173.8L288.1 175L286 172.7L283.8 170.4L282.7 169.1z"/>
<path color="#e9785d" d="M176.2 142.9L178.3 141.1L180.4 139.4L181.7 139.4L182.9 139.4L180.8 141L178.7 142.7L177.5 142.7z"/>
<path color="#f7b497" d="M285.8 172.5L288 175L290.1 177.6L291.2 178.7L292.4 179.9L290.2 177.4L288.1 175L287 173.8z"/>
<path color="#f59f80" d="M146.8 166.2L148.8 164L150.9 161.8L152.2 160.6L153.5 159.6L151.4 161.8L149.3 164L148 165.1z"/>
<path color="#d7dce3" d="M100.8 228.3L102.8 226.2L104.8 224.2L106.1 221.6L107.3 219L105.3 221.1L103.3 223.3L102 225.8z"/>
<path color="#d2dbe8" d="M321.9 224L324 227.3L326.1 230.7L327.2 231.1L328.3 231.6L326.2 228.4L324.1 225.1L323 224.5z"/>
<path color="#ea7b60" d="M249.1 141.3L251.3 142.3L253.4 143.5L254.6 144.9L255.8 146.4L253.6 145.2L251.5 144.2L250.3 142.7z"/>
<path color="#e0654f" d="M200.7 132.9L202.8 131.9L205 131L206.2 131.7L207.4 132.5L205.3 133.3L203.2 134.2L201.9 133.5z"/>
<path color="#e36c55" d="M233.8 134.5L235.9 134.9L238.1 135.4L239.3 136.7L240.5 138.1L238.3 137.6L236.2 137.1L235 135.8z"/>
<path color="#dadce0" d="M317.7 217.4L319.8 220.7L321.9 224L323 224.5L324.1 225.1L322 221.9L319.9 218.7L318.8 218z"/>
<path color="#e7d7ce" d="M109.9 214.1L111.9 211.9L114 209.8L115.2 207.4L116.5 205L114.5 207.2L112.5 209.5L111.2 211.7z"/>
<path color="#84a7fc" d="M323.4 244L325.5 247.6L325.6 324.1L326.8 323L327.9 321.8L325.7 321.2L325.7 243.5L324.5 243.7z"/>
<path color="#f7ad90" d="M137.5 176.4L139.6 174.1L141.6 171.8L142.9 170.3L144.2 168.8L142.1 171.1L140.1 173.4L138.8 174.8z"/>
<path color="#f29274" d="M153.5 159.6L155.5 157.4L157.6 155.3L158.9 154.4L160.2 153.5L158.1 155.6L156 157.7L154.7 158.6z"/>
<path color="#ec7f63" d="M253.4 143.5L255.6 144.8L257.7 146.2L258.9 147.6L260.1 149L257.9 147.7L255.8 146.4L254.6 144.9z"/>
<path color="#f2cbb7" d="M119.1 200.5L121.1 198.3L123.2 196.1L124.4 193.9L125.7 191.8L123.7 194.1L121.7 196.4L120.4 198.4z"/>
<path color="#d2dbe8" d="M98.2 233.6L100.2 231.6L102.2 229.5L103.5 226.8L104.8 224.2L102.8 226.2L100.8 228.3L99.5 230.9z"/>
<path color="#f6bda2" d="M128.3 187.9L130.3 185.6L132.4 183.4L133.7 181.5L135 179.7L132.9 182L130.9 184.3L129.6 186z"/>
<path color="#e1dad6" d="M313.4 211L315.5 214.2L317.7 217.4L318.8 218L319.9 218.7L317.8 215.5L315.6 212.3L314.5 211.6z"/>
<path color="#de614d" d="M211.7 131.1L213.9 130.6L216 130.2L217.2 131.1L218.5 132.1L216.3 132.5L214.2 133L213 132z"/>
<path color="#df634e" d="M222.8 131.7L224.9 131.6L227.1 131.7L228.3 132.8L229.5 134L227.3 133.9L225.2 134L224 132.8z"/>
<path color="#e0654f" d="M193.9 134.2L196.1 133L198.2 131.9L199.4 132.3L200.7 132.9L198.6 133.9L196.4 135.1L195.2 134.6z"/>
<path color="#e9d5cb" d="M309.2 204.6L311.3 207.8L313.4 211L314.5 211.6L315.6 212.3L313.5 209.2L311.4 206.1L310.3 205.3z"/>
<path color="#ee8669" d="M160.2 153.5L162.3 151.4L164.4 149.5L165.6 148.7L166.9 148.1L164.8 150L162.7 152.1L161.5 152.7z"/>
<path color="#ee8468" d="M257.7 146.2L259.9 147.7L262 149.3L263.2 150.6L264.4 152L262.2 150.5L260.1 149L258.9 147.6z"/>
<path color="#e36c55" d="M238.1 135.4L240.2 136L242.4 136.8L243.6 138.1L244.8 139.5L242.6 138.7L240.5 138.1L239.3 136.7z"/>
<path color="#e3d9d3" d="M107.3 219L109.4 216.9L111.4 214.8L112.7 212.2L114 209.8L111.9 211.9L109.9 214.1L108.6 216.5z"/>
<path color="#e16751" d="M187.2 136.4L189.3 135L191.4 133.7L192.7 133.9L193.9 134.2L191.8 135.4L189.7 136.8L188.4 136.5z"/>
<path color="#f5a081" d="M144.2 168.8L146.3 166.6L148.3 164.4L149.6 163.1L150.9 161.8L148.8 164L146.8 166.2L145.5 167.5z"/>
<path color="#eed0c0" d="M304.9 198.4L307 201.5L309.2 204.6L310.3 205.3L311.4 206.1L309.3 203L307.2 200L306 199.2z"/>
<path color="#ea7b60" d="M166.9 148.1L169 146.1L171.1 144.3L172.4 143.8L173.7 143.4L171.6 145.2L169.5 147.1L168.2 147.5z"/>
<path color="#f08a6c" d="M262 149.3L264.2 151L266.3 152.8L267.5 154.1L268.7 155.5L266.5 153.7L264.4 152L263.2 150.6z"/>
<path color="#a2c1ff" d="M94 319L94 251.3L96.1 249.5L97.3 246.4L98.6 243.3L96.6 245.1L94.6 246.9L95.3 317.9z"/>
<path color="#e36c55" d="M180.4 139.4L182.5 137.9L184.6 136.3L185.9 136.3L187.2 136.4L185.1 137.8L182.9 139.4L181.7 139.4z"/>
<path color="#e7745b" d="M173.7 143.4L175.8 141.6L177.9 139.9L179.1 139.6L180.4 139.4L178.3 141.1L176.2 142.9L174.9 143.1z"/>
<path color="#f2cab5" d="M300.6 192.4L302.8 195.4L304.9 198.4L306 199.2L307.2 200L305 197L302.9 194.1L301.8 193.2z"/>
<path color="#efcebd" d="M116.5 205L118.6 202.8L120.6 200.7L121.9 198.3L123.2 196.1L121.1 198.3L119.1 200.5L117.8 202.7z"/>
<path color="#dc5d4a" d="M205 131L207.1 130.3L209.2 129.6L210.5 130.3L211.7 131.1L209.6 131.7L207.4 132.5L206.2 131.7z"/>
<path color="#6e90f2" d="M323.1 253.4L323.2 329.3L325.4 330L326.6 328.9L327.7 327.7L325.5 327.1L325.4 252.1L324.2 252.7z"/>
<path color="#f7b093" d="M135 179.7L137 177.4L139.1 175.2L140.4 173.5L141.6 171.8L139.6 174.1L137.5 176.4L136.2 178z"/>
<path color="#f18f71" d="M266.3 152.8L268.5 154.7L270.6 156.6L271.8 157.9L273 159.2L270.8 157.3L268.7 155.5L267.5 154.1z"/>
<path color="#f6bfa6" d="M125.7 191.8L127.8 189.6L129.8 187.4L131.1 185.3L132.4 183.4L130.3 185.6L128.3 187.9L127 189.8z"/>
<path color="#f5c2aa" d="M296.4 186.5L298.5 189.4L300.6 192.4L301.8 193.2L302.9 194.1L300.8 191.2L298.6 188.4L297.5 187.4z"/>
<path color="#de614d" d="M227.1 131.7L229.2 131.8L231.4 132.1L232.6 133.3L233.8 134.5L231.6 134.2L229.5 134L228.3 132.8z"/>
<path color="#e36c55" d="M242.4 136.8L244.6 137.7L246.7 138.6L247.9 139.9L249.1 141.3L246.9 140.3L244.8 139.5L243.6 138.1z"/>
<path color="#f39577" d="M270.6 156.6L272.8 158.7L274.9 160.9L276.1 162.1L277.2 163.3L275.1 161.2L273 159.2L271.8 157.9z"/>
<path color="#f7bca1" d="M292.1 180.8L294.2 183.6L296.4 186.5L297.5 187.4L298.6 188.4L296.5 185.6L294.4 182.9L293.2 181.8z"/>
<path color="#f29274" d="M150.9 161.8L153 159.7L155.1 157.6L156.3 156.4L157.6 155.3L155.5 157.4L153.5 159.6L152.2 160.6z"/>
<path color="#da5a49" d="M216 130.2L218.2 129.9L220.3 129.7L221.5 130.6L222.8 131.7L220.6 131.8L218.5 132.1L217.2 131.1z"/>
<path color="#dedcdb" d="M104.8 224.2L106.8 222.1L108.8 220L110.1 217.4L111.4 214.8L109.4 216.9L107.3 219L106.1 221.6z"/>
<path color="#f59d7e" d="M274.9 160.9L277.1 163.1L279.2 165.4L280.4 166.6L281.5 167.8L279.4 165.5L277.2 163.3L276.1 162.1z"/>
<path color="#f7b497" d="M287.8 175.4L290 178.1L292.1 180.8L293.2 181.8L294.4 182.9L292.2 180.2L290.1 177.6L289 176.5z"/>
<path color="#f7ac8e" d="M283.5 170.3L285.7 172.8L287.8 175.4L289 176.5L290.1 177.6L288 175L285.8 172.5L284.7 171.4z"/>
<path color="#f6a586" d="M279.2 165.4L281.4 167.8L283.5 170.3L284.7 171.4L285.8 172.5L283.7 170.1L281.5 167.8L280.4 166.6z"/>
<path color="#d7dce3" d="M319.7 223.2L321.8 226.5L323.9 230L325 230.3L326.1 230.7L324 227.3L321.9 224L320.8 223.6z"/>
<path color="#da5a49" d="M198.2 131.9L200.3 130.9L202.5 130L203.7 130.5L205 131L202.8 131.9L200.7 132.9L199.4 132.3z"/>
<path color="#edd1c2" d="M114 209.8L116 207.6L118 205.5L119.3 203L120.6 200.7L118.6 202.8L116.5 205L115.2 207.4z"/>
<path color="#e57058" d="M246.7 138.6L248.9 139.7L251 140.9L252.2 142.2L253.4 143.5L251.3 142.3L249.1 141.3L247.9 139.9z"/>
<path color="#dedcdb" d="M315.4 216.5L317.6 219.8L319.7 223.2L320.8 223.6L321.9 224L319.8 220.7L317.7 217.4L316.6 216.9z"/>
<path color="#ee8669" d="M157.6 155.3L159.7 153.3L161.8 151.3L163.1 150.3L164.4 149.5L162.3 151.4L160.2 153.5L158.9 154.4z"/>
<path color="#f6a283" d="M141.6 171.8L143.7 169.6L145.8 167.5L147.1 165.9L148.3 164.4L146.3 166.6L144.2 168.8L142.9 170.3z"/>
<path color="#dadce0" d="M102.2 229.5L104.3 227.5L106.3 225.5L107.6 222.8L108.8 220L106.8 222.1L104.8 224.2L103.5 226.8z"/>
<path color="#dd5f4b" d="M231.4 132.1L233.5 132.5L235.7 133L236.9 134.2L238.1 135.4L235.9 134.9L233.8 134.5L232.6 133.3z"/>
<path color="#f5c2aa" d="M123.2 196.1L125.2 193.9L127.3 191.7L128.5 189.5L129.8 187.4L127.8 189.6L125.7 191.8L124.4 193.9z"/>
<path color="#f7b396" d="M132.4 183.4L134.4 181.1L136.5 179L137.8 177.1L139.1 175.2L137 177.4L135 179.7L133.7 181.5z"/>
<path color="#5977e3" d="M322.7 266.5L323 335.3L325.2 336L326.4 334.8L327.5 333.6L325.3 333L323.1 332.3L323.8 264.7z"/>
<path color="#e6d7cf" d="M311.2 209.9L313.3 213.1L315.4 216.5L316.6 216.9L317.7 217.4L315.5 214.2L313.4 211L312.3 210.4z"/>
<path color="#dc5d4a" d="M191.4 133.7L193.5 132.4L195.7 131.3L196.9 131.5L198.2 131.9L196.1 133L193.9 134.2L192.7 133.9z"/>
<path color="#e97a5f" d="M164.4 149.5L166.5 147.5L168.6 145.7L169.8 144.9L171.1 144.3L169 146.1L166.9 148.1L165.6 148.7z"/>
<path color="#7a9df8" d="M94.3 328.5L96.4 329.1L98.5 329.8L97.9 260L99.1 256.5L97.1 258L95 259.5L95.7 327.3z"/>
<path color="#d85646" d="M209.2 129.6L211.4 129.1L213.5 128.6L214.8 129.4L216 130.2L213.9 130.6L211.7 131.1L210.5 130.3z"/>
<path color="#e7745b" d="M251 140.9L253.2 142.2L255.4 143.7L256.5 144.9L257.7 146.2L255.6 144.8L253.4 143.5L252.2 142.2z"/>
<path color="#d85646" d="M220.3 129.7L222.5 129.6L224.6 129.7L225.8 130.6L227.1 131.7L224.9 131.6L222.8 131.7L221.5 130.6z"/>
<path color="#de614d" d="M184.6 136.3L186.8 134.9L188.9 133.6L190.2 133.6L191.4 133.7L189.3 135L187.2 136.4L185.9 136.3z"/>
<path color="#e57058" d="M171.1 144.3L173.2 142.5L175.3 140.8L176.6 140.3L177.9 139.9L175.8 141.6L173.7 143.4L172.4 143.8z"/>
<path color="#edd2c3" d="M306.9 203.4L309 206.6L311.2 209.9L312.3 210.4L313.4 211L311.3 207.8L309.2 204.6L308 204z"/>
<path color="#ead4c8" d="M111.4 214.8L113.4 212.7L115.5 210.6L116.8 208L118 205.5L116 207.6L114 209.8L112.7 212.2z"/>
<path color="#e16751" d="M177.9 139.9L180 138.3L182.1 136.8L183.4 136.5L184.6 136.3L182.5 137.9L180.4 139.4L179.1 139.6z"/>
<path color="#f39475" d="M148.3 164.4L150.4 162.3L152.5 160.2L153.8 158.8L155.1 157.6L153 159.7L150.9 161.8L149.6 163.1z"/>
<path color="#d5dbe5" d="M99.7 235.1L101.7 233.2L103.7 231.3L105 228.4L106.3 225.5L104.3 227.5L102.2 229.5L100.9 232.3z"/>
<path color="#e9785d" d="M255.4 143.7L257.5 145.2L259.7 146.8L260.8 148L262 149.3L259.9 147.7L257.7 146.2L256.5 144.9z"/>
<path color="#f1ccb8" d="M302.6 197L304.8 200.2L306.9 203.4L308 204L309.2 204.6L307 201.5L304.9 198.4L303.8 197.7z"/>
<path color="#dd5f4b" d="M235.7 133L237.8 133.7L240 134.4L241.2 135.6L242.4 136.8L240.2 136L238.1 135.4L236.9 134.2z"/>
<path color="#f3c7b1" d="M120.6 200.7L122.6 198.5L124.7 196.4L126 194L127.3 191.7L125.2 193.9L123.2 196.1L121.9 198.3z"/>
<path color="#f6a586" d="M139.1 175.2L141.1 173.1L143.2 170.9L144.5 169.2L145.8 167.5L143.7 169.6L141.6 171.8L140.4 173.5z"/>
<path color="#d2dbe8" d="M321.7 229.4L323.8 232.9L325.9 236.4L327 236.6L328.2 236.8L326 233.4L323.9 230L322.8 229.7z"/>
<path color="#f4c5ad" d="M298.4 190.8L300.5 193.9L302.6 197L303.8 197.7L304.9 198.4L302.8 195.4L300.6 192.4L299.5 191.6z"/>
<path color="#d65244" d="M202.5 130L204.6 129.2L206.7 128.5L208 129L209.2 129.6L207.1 130.3L205 131L203.7 130.5z"/>
<path color="#f7b599" d="M129.8 187.4L131.9 185.2L133.9 183.1L135.2 181L136.5 179L134.4 181.1L132.4 183.4L131.1 185.3z"/>
<path color="#eb7d62" d="M259.7 146.8L261.8 148.5L264 150.4L265.2 151.5L266.3 152.8L264.2 151L262 149.3L260.8 148z"/>
<path color="#ee8669" d="M155.1 157.6L157.1 155.5L159.2 153.5L160.5 152.4L161.8 151.3L159.7 153.3L157.6 155.3L156.3 156.4z"/>
<path color="#e6d7cf" d="M108.8 220L110.9 218L112.9 216L114.2 213.3L115.5 210.6L113.4 212.7L111.4 214.8L110.1 217.4z"/>
<path color="#cfdaea" d="M97.1 240.9L99.1 239L101.2 237.2L102.4 234.2L103.7 231.3L101.7 233.2L99.7 235.1L98.4 238z"/>
<path color="#f6bda2" d="M294.1 184.9L296.2 187.8L298.4 190.8L299.5 191.6L300.6 192.4L298.5 189.4L296.4 186.5L295.2 185.6z"/>
<path color="#ee8468" d="M264 150.4L266.1 152.3L268.3 154.3L269.5 155.4L270.6 156.6L268.5 154.7L266.3 152.8L265.2 151.5z"/>
<path color="#d75445" d="M224.6 129.7L226.8 129.8L228.9 130.1L230.1 131.1L231.4 132.1L229.2 131.8L227.1 131.7L225.8 130.6z"/>
<path color="#dbdcde" d="M317.4 222.5L319.6 226L321.7 229.4L322.8 229.7L323.9 230L321.8 226.5L319.7 223.2L318.6 222.8z"/>
<path color="#f7b497" d="M289.8 179.1L292 181.9L294.1 184.9L295.2 185.6L296.4 186.5L294.2 183.6L292.1 180.8L291 179.9z"/>
<path color="#d55042" d="M213.5 128.6L215.7 128.3L217.8 128.1L219.1 128.8L220.3 129.7L218.2 129.9L216 130.2L214.8 129.4z"/>
<path color="#de614d" d="M240 134.4L242.2 135.3L244.3 136.3L245.5 137.4L246.7 138.6L244.6 137.7L242.4 136.8L241.2 135.6z"/>
<path color="#f08b6e" d="M268.3 154.3L270.5 156.4L272.6 158.6L273.8 159.7L274.9 160.9L272.8 158.7L270.6 156.6L269.5 155.4z"/>
<path color="#f7ac8e" d="M285.5 173.5L287.7 176.3L289.8 179.1L291 179.9L292.1 180.8L290 178.1L287.8 175.4L286.7 174.5z"/>
<path color="#6b8df0" d="M100 333.4L102.1 334.1L104.2 334.8L105.5 333.6L104.8 258.3L102.8 259.5L100.7 260.8L101.3 332.3z"/>
<path color="#d65244" d="M195.7 131.3L197.8 130.3L199.9 129.4L201.2 129.6L202.5 130L200.3 130.9L198.2 131.9L196.9 131.5z"/>
<path color="#f29274" d="M272.6 158.6L274.8 160.9L276.9 163.3L278.1 164.3L279.2 165.4L277.1 163.1L274.9 160.9L273.8 159.7z"/>
<path color="#f6a385" d="M281.2 168.3L283.4 170.9L285.5 173.5L286.7 174.5L287.8 175.4L285.7 172.8L283.5 170.3L282.4 169.2z"/>
<path color="#f59c7d" d="M276.9 163.3L279.1 165.8L281.2 168.3L282.4 169.2L283.5 170.3L281.4 167.8L279.2 165.4L278.1 164.3z"/>
<path color="#e97a5f" d="M161.8 151.3L163.9 149.4L166 147.5L167.3 146.5L168.6 145.7L166.5 147.5L164.4 149.5L163.1 150.3z"/>
<path color="#f2cab5" d="M118 205.5L120.1 203.4L122.1 201.4L123.4 198.8L124.7 196.4L122.6 198.5L120.6 200.7L119.3 203z"/>
<path color="#f39577" d="M145.8 167.5L147.8 165.4L149.9 163.3L151.2 161.7L152.5 160.2L150.4 162.3L148.3 164.4L147.1 165.9z"/>
<path color="#e3d9d3" d="M313.2 215.7L315.3 219.1L317.4 222.5L318.6 222.8L319.7 223.2L317.6 219.8L315.4 216.5L314.3 216z"/>
<path color="#c9d7f0" d="M94.6 246.9L96.6 245.1L98.6 243.3L99.9 240.2L101.2 237.2L99.1 239L97.1 240.9L95.8 243.9z"/>
<path color="#e1dad6" d="M106.3 225.5L108.3 223.6L110.4 221.7L111.6 218.8L112.9 216L110.9 218L108.8 220L107.6 222.8z"/>
<path color="#f7b99e" d="M127.3 191.7L129.3 189.6L131.4 187.5L132.7 185.2L133.9 183.1L131.9 185.2L129.8 187.4L128.5 189.5z"/>
<path color="#d85646" d="M188.9 133.6L191 132.3L193.1 131.2L194.4 131.2L195.7 131.3L193.5 132.4L191.4 133.7L190.2 133.6z"/>
<path color="#f7a889" d="M136.5 179L138.6 176.8L140.6 174.7L141.9 172.8L143.2 170.9L141.1 173.1L139.1 175.2L137.8 177.1z"/>
<path color="#e36c55" d="M168.6 145.7L170.7 143.9L172.8 142.2L174 141.4L175.3 140.8L173.2 142.5L171.1 144.3L169.8 144.9z"/>
<path color="#df634e" d="M244.3 136.3L246.5 137.4L248.6 138.6L249.8 139.7L251 140.9L248.9 139.7L246.7 138.6L245.5 137.4z"/>
<path color="#ead4c8" d="M308.9 209L311 212.3L313.2 215.7L314.3 216L315.4 216.5L313.3 213.1L311.2 209.9L310 209.4z"/>
<path color="#da5a49" d="M182.1 136.8L184.2 135.3L186.4 133.9L187.6 133.7L188.9 133.6L186.8 134.9L184.6 136.3L183.4 136.5z"/>
<path color="#df634e" d="M175.3 140.8L177.4 139.2L179.6 137.6L180.8 137.1L182.1 136.8L180 138.3L177.9 139.9L176.6 140.3z"/>
<path color="#d65244" d="M228.9 130.1L231.1 130.5L233.2 131L234.5 132L235.7 133L233.5 132.5L231.4 132.1L230.1 131.1z"/>
<path color="#c0d4f5" d="M321.4 236.3L323.5 239.9L325.7 243.5L326.8 243.4L325.8 318.3L325.8 239.8L323.7 236.2L322.6 236.2z"/>
<path color="#d24b40" d="M206.7 128.5L208.9 127.9L211 127.5L212.3 128L213.5 128.6L211.4 129.1L209.2 129.6L208 129z"/>
<path color="#80a3fa" d="M320.8 255.2L322.9 259.4L323.1 332.3L324.3 331.2L325.4 330L323.2 329.3L323.1 253.4L321.9 254.2z"/>
<path color="#efcebd" d="M115.5 210.6L117.5 208.6L119.6 206.6L120.8 204L122.1 201.4L120.1 203.4L118 205.5L116.8 208z"/>
<path color="#ee8669" d="M152.5 160.2L154.6 158.2L156.7 156.2L158 154.8L159.2 153.5L157.1 155.5L155.1 157.6L153.8 158.8z"/>
<path color="#efcebd" d="M304.6 202.4L306.8 205.7L308.9 209L310 209.4L311.2 209.9L309 206.6L306.9 203.4L305.8 202.8z"/>
<path color="#dcdddd" d="M103.7 231.3L105.8 229.4L107.8 227.5L109.1 224.6L110.4 221.7L108.3 223.6L106.3 225.5L105 228.4z"/>
<path color="#d24b40" d="M217.8 128.1L220 128L222.1 128L223.4 128.8L224.6 129.7L222.5 129.6L220.3 129.7L219.1 128.8z"/>
<path color="#e16751" d="M248.6 138.6L250.8 140L253 141.4L254.2 142.5L255.4 143.7L253.2 142.2L251 140.9L249.8 139.7z"/>
<path color="#5b7ae5" d="M105.7 338.4L107.8 339.1L109.9 339.8L111.2 338.6L110.6 261.4L108.5 262.4L108.4 336.1L107 337.3z"/>
<path color="#f6bea4" d="M124.7 196.4L126.7 194.3L128.8 192.3L130.1 189.8L131.4 187.5L129.3 189.6L127.3 191.7L126 194z"/>
<path color="#f3c7b1" d="M300.4 195.9L302.5 199.1L304.6 202.4L305.8 202.8L306.9 203.4L304.8 200.2L302.6 197L301.5 196.4z"/>
<path color="#d6dce4" d="M319.4 229.2L321.6 232.7L323.7 236.2L324.8 236.3L325.9 236.4L323.8 232.9L321.7 229.4L320.6 229.3z"/>
<path color="#f4987a" d="M143.2 170.9L145.3 168.8L147.4 166.8L148.6 165L149.9 163.3L147.8 165.4L145.8 167.5L144.5 169.2z"/>
<path color="#f7aa8c" d="M133.9 183.1L136 181L138.1 178.9L139.4 176.8L140.6 174.7L138.6 176.8L136.5 179L135.2 181z"/>
<path color="#d1493f" d="M199.9 129.4L202.1 128.5L204.2 127.8L205.5 128.1L206.7 128.5L204.6 129.2L202.5 130L201.2 129.6z"/>
<path color="#e36c55" d="M253 141.4L255.1 143L257.3 144.6L258.5 145.7L259.7 146.8L257.5 145.2L255.4 143.7L254.2 142.5z"/>
<path color="#d65244" d="M233.2 131L235.4 131.7L237.6 132.4L238.8 133.4L240 134.4L237.8 133.7L235.7 133L234.5 132z"/>
<path color="#e97a5f" d="M159.2 153.5L161.3 151.6L163.4 149.7L164.7 148.6L166 147.5L163.9 149.4L161.8 151.3L160.5 152.4z"/>
<path color="#d7dce3" d="M101.2 237.2L103.2 235.4L105.2 233.6L106.5 230.5L107.8 227.5L105.8 229.4L103.7 231.3L102.4 234.2z"/>
<path color="#f6bfa6" d="M296.1 189.6L298.2 192.7L300.4 195.9L301.5 196.4L302.6 197L300.5 193.9L298.4 190.8L297.2 190.2z"/>
<path color="#edd2c3" d="M112.9 216L115 214.1L117 212.1L118.3 209.3L119.6 206.6L117.5 208.6L115.5 210.6L114.2 213.3z"/>
<path color="#dedcdb" d="M315.2 222.1L317.3 225.6L319.4 229.2L320.6 229.3L321.7 229.4L319.6 226L317.4 222.5L316.3 222.3z"/>
<path color="#e67259" d="M257.3 144.6L259.5 146.4L261.6 148.3L262.8 149.3L264 150.4L261.8 148.5L259.7 146.8L258.5 145.7z"/>
<path color="#f7b79b" d="M291.8 183.5L293.9 186.5L296.1 189.6L297.2 190.2L298.4 190.8L296.2 187.8L294.1 184.9L292.9 184.1z"/>
<path color="#aac7fd" d="M321.1 244.6L323.3 248.4L325.4 252.1L324.5 325.3L325.6 324.1L325.5 247.6L323.4 244L322.3 244.3z"/>
<path color="#abc8fd" d="M92.8 324.9L93 261L95 259.5L96.3 256.1L97.6 252.8L95.5 254.4L93.5 256L92.2 259.2z"/>
<path color="#e36c55" d="M166 147.5L168.1 145.7L170.2 144L171.5 143L172.8 142.2L170.7 143.9L168.6 145.7L167.3 146.5z"/>
<path color="#d24b40" d="M193.1 131.2L195.3 130.1L197.4 129.2L198.7 129.2L199.9 129.4L197.8 130.3L195.7 131.3L194.4 131.2z"/>
<path color="#cf453c" d="M211 127.5L213.2 127.1L215.4 126.9L216.6 127.4L217.8 128.1L215.7 128.3L213.5 128.6L212.3 128z"/>
<path color="#d1493f" d="M222.1 128L224.3 128.2L226.5 128.5L227.7 129.2L228.9 130.1L226.8 129.8L224.6 129.7L223.4 128.8z"/>
<path color="#f7ad90" d="M287.5 177.6L289.7 180.5L291.8 183.5L292.9 184.1L294.1 184.9L292 181.9L289.8 179.1L288.7 178.3z"/>
<path color="#e97a5f" d="M261.6 148.3L263.8 150.2L265.9 152.3L267.1 153.3L268.3 154.3L266.1 152.3L264 150.4L262.8 149.3z"/>
<path color="#f5c2aa" d="M122.1 201.4L124.2 199.3L126.2 197.3L127.5 194.8L128.8 192.3L126.7 194.3L124.7 196.4L123.4 198.8z"/>
<path color="#d1dae9" d="M98.6 243.3L100.7 241.5L102.7 239.8L104 236.7L105.2 233.6L103.2 235.4L101.2 237.2L99.9 240.2z"/>
<path color="#4a63d3" d="M111.5 343.4L113.6 344.1L115.7 344.8L117 343.6L116.5 265.8L116.2 341.8L114.1 341.1L112.8 342.3z"/>
<path color="#f08a6c" d="M149.9 163.3L152 161.3L154.1 159.3L155.4 157.7L156.7 156.2L154.6 158.2L152.5 160.2L151.2 161.7z"/>
<path color="#f6a586" d="M283.2 171.9L285.4 174.7L287.5 177.6L288.7 178.3L289.8 179.1L287.7 176.3L285.5 173.5L284.4 172.7z"/>
<path color="#d75445" d="M237.6 132.4L239.7 133.3L241.9 134.3L243.1 135.3L244.3 136.3L242.2 135.3L240 134.4L238.8 133.4z"/>
<path color="#e7d7ce" d="M310.9 215.2L313 218.7L315.2 222.1L316.3 222.3L317.4 222.5L315.3 219.1L313.2 215.7L312 215.4z"/>
<path color="#de614d" d="M172.8 142.2L174.9 140.5L177 138.9L178.3 138.2L179.6 137.6L177.4 139.2L175.3 140.8L174 141.4z"/>
<path color="#ec8165" d="M265.9 152.3L268.1 154.5L270.3 156.7L271.4 157.6L272.6 158.6L270.5 156.4L268.3 154.3L267.1 153.3z"/>
<path color="#d55042" d="M186.4 133.9L188.5 132.7L190.6 131.5L191.9 131.3L193.1 131.2L191 132.3L188.9 133.6L187.6 133.7z"/>
<path color="#e9d5cb" d="M110.4 221.7L112.4 219.7L114.4 217.9L115.7 215L117 212.1L115 214.1L112.9 216L111.6 218.8z"/>
<path color="#f59c7d" d="M278.9 166.6L281.1 169.2L283.2 171.9L284.4 172.7L285.5 173.5L283.4 170.9L281.2 168.3L280.1 167.4z"/>
<path color="#f08a6c" d="M270.3 156.7L272.4 159L274.6 161.5L275.8 162.3L276.9 163.3L274.8 160.9L272.6 158.6L271.4 157.6z"/>
<path color="#d85646" d="M179.6 137.6L181.7 136.1L183.8 134.8L185.1 134.3L186.4 133.9L184.2 135.3L182.1 136.8L180.8 137.1z"/>
<path color="#f29274" d="M274.6 161.5L276.7 164L278.9 166.6L280.1 167.4L281.2 168.3L279.1 165.8L276.9 163.3L275.8 162.3z"/>
<path color="#f7b093" d="M131.4 187.5L133.4 185.4L135.5 183.4L136.8 181.1L138.1 178.9L136 181L133.9 183.1L132.7 185.2z"/>
<path color="#f59c7d" d="M140.6 174.7L142.7 172.7L144.8 170.7L146.1 168.7L147.4 166.8L145.3 168.8L143.2 170.9L141.9 172.8z"/>
<path color="#edd1c2" d="M306.6 208.4L308.8 211.8L310.9 215.2L312 215.4L313.2 215.7L311 212.3L308.9 209L307.8 208.6z"/>
<path color="#cad8ef" d="M96.1 249.5L98.1 247.9L100.1 246.2L101.4 243L102.7 239.8L100.7 241.5L98.6 243.3L97.3 246.4z"/>
<path color="#cd423b" d="M204.2 127.8L206.4 127.2L208.5 126.8L209.8 127.1L211 127.5L208.9 127.9L206.7 128.5L205.5 128.1z"/>
<path color="#d85646" d="M241.9 134.3L244.1 135.4L246.2 136.7L247.4 137.6L248.6 138.6L246.5 137.4L244.3 136.3L243.1 135.3z"/>
<path color="#e97a5f" d="M156.7 156.2L158.8 154.3L160.9 152.4L162.2 151L163.4 149.7L161.3 151.6L159.2 153.5L158 154.8z"/>
<path color="#f3c7b1" d="M119.6 206.6L121.6 204.6L123.7 202.7L125 200L126.2 197.3L124.2 199.3L122.1 201.4L120.8 204z"/>
<path color="#e4d9d2" d="M107.8 227.5L109.8 225.7L111.9 223.9L113.2 220.8L114.4 217.9L112.4 219.7L110.4 221.7L109.1 224.6z"/>
<path color="#d0473d" d="M226.5 128.5L228.6 128.9L230.8 129.4L232 130.1L233.2 131L231.1 130.5L228.9 130.1L227.7 129.2z"/>
<path color="#f2cab5" d="M302.4 201.6L304.5 205L306.6 208.4L307.8 208.6L308.9 209L306.8 205.7L304.6 202.4L303.5 202z"/>
<path color="#c3d5f4" d="M93.5 256L95.5 254.4L97.6 252.8L98.9 249.5L100.1 246.2L98.1 247.9L96.1 249.5L94.8 252.7z"/>
<path color="#cc403a" d="M215.4 126.9L217.5 126.8L219.7 126.8L220.9 127.4L222.1 128L220 128L217.8 128.1L216.6 127.4z"/>
<path color="#81a4fb" d="M104.2 334.8L106.3 335.4L108.4 336.1L107.7 259.7L109 255.9L106.9 257.1L104.8 258.3L105.5 333.6z"/>
<path color="#f7b497" d="M128.8 192.3L130.9 190.3L132.9 188.3L134.2 185.8L135.5 183.4L133.4 185.4L131.4 187.5L130.1 189.8z"/>
<path color="#d9dce1" d="M317.2 229.1L319.3 232.7L321.4 236.3L322.6 236.2L323.7 236.2L321.6 232.7L319.4 229.2L318.3 229.1z"/>
<path color="#f08b6e" d="M147.4 166.8L149.4 164.8L151.5 162.9L152.8 161L154.1 159.3L152 161.3L149.9 163.3L148.6 165z"/>
<path color="#da5a49" d="M246.2 136.7L248.4 138L250.6 139.5L251.8 140.4L253 141.4L250.8 140L248.6 138.6L247.4 137.6z"/>
<path color="#f5c2aa" d="M298.1 195.1L300.2 198.3L302.4 201.6L303.5 202L304.6 202.4L302.5 199.1L300.4 195.9L299.2 195.4z"/>
<path color="#e36c55" d="M163.4 149.7L165.5 147.9L167.7 146.2L168.9 145L170.2 144L168.1 145.7L166 147.5L164.7 148.6z"/>
<path color="#cd423b" d="M197.4 129.2L199.6 128.3L201.7 127.6L203 127.7L204.2 127.8L202.1 128.5L199.9 129.4L198.7 129.2z"/>
<path color="#f5a081" d="M138.1 178.9L140.1 176.9L142.2 174.9L143.5 172.7L144.8 170.7L142.7 172.7L140.6 174.7L139.4 176.8z"/>
<path color="#dedcdb" d="M105.2 233.6L107.3 231.8L109.3 230L110.6 226.9L111.9 223.9L109.8 225.7L107.8 227.5L106.5 230.5z"/>
<path color="#779af7" d="M320.3 270.2L322.4 274L322.9 338.3L324.1 337.1L325.2 336L323 335.3L322.7 266.5L321.5 268.4z"/>
<path color="#f1ccb8" d="M117 212.1L119.1 210.2L121.1 208.3L122.4 205.5L123.7 202.7L121.6 204.6L119.6 206.6L118.3 209.3z"/>
<path color="#f7b99e" d="M293.8 188.6L295.9 191.8L298.1 195.1L299.2 195.4L300.4 195.9L298.2 192.7L296.1 189.6L294.9 189.1z"/>
<path color="#e2dad5" d="M312.9 222L315 225.6L317.2 229.1L318.3 229.1L319.4 229.2L317.3 225.6L315.2 222.1L314 222z"/>
<path color="#d0473d" d="M230.8 129.4L233 130L235.1 130.8L236.4 131.6L237.6 132.4L235.4 131.7L233.2 131L232 130.1z"/>
<path color="#dd5f4b" d="M170.2 144L172.3 142.3L174.5 140.7L175.7 139.8L177 138.9L174.9 140.5L172.8 142.2L171.5 143z"/>
<path color="#a2c1ff" d="M98.5 329.8L100.6 330.5L100.7 260.8L102 257.2L103.3 253.7L101.2 255.1L99.1 256.5L97.9 260z"/>
<path color="#de614d" d="M250.6 139.5L252.7 141.1L254.9 142.8L256.1 143.7L257.3 144.6L255.1 143L253 141.4L251.8 140.4z"/>
<path color="#cf453c" d="M190.6 131.5L192.8 130.4L194.9 129.5L196.2 129.3L197.4 129.2L195.3 130.1L193.1 131.2L191.9 131.3z"/>
<path color="#d75445" d="M177 138.9L179.1 137.5L181.3 136.1L182.5 135.4L183.8 134.8L181.7 136.1L179.6 137.6L178.3 138.2z"/>
<path color="#f7b093" d="M289.5 182.4L291.6 185.5L293.8 188.6L294.9 189.1L296.1 189.6L293.9 186.5L291.8 183.5L290.6 182.9z"/>
<path color="#d24b40" d="M183.8 134.8L185.9 133.5L188.1 132.3L189.3 131.8L190.6 131.5L188.5 132.7L186.4 133.9L185.1 134.3z"/>
<path color="#d8dce2" d="M102.7 239.8L104.7 238.1L106.8 236.4L108.1 233.2L109.3 230L107.3 231.8L105.2 233.6L104 236.7z"/>
<path color="#f7b99e" d="M126.2 197.3L128.3 195.4L130.4 193.5L131.7 190.8L132.9 188.3L130.9 190.3L128.8 192.3L127.5 194.8z"/>
<path color="#ca3b37" d="M208.5 126.8L210.7 126.4L212.9 126.2L214.1 126.5L215.4 126.9L213.2 127.1L211 127.5L209.8 127.1z"/>
<path color="#ea7b60" d="M154.1 159.3L156.2 157.4L158.3 155.6L159.6 154L160.9 152.4L158.8 154.3L156.7 156.2L155.4 157.7z"/>
<path color="#e16751" d="M254.9 142.8L257.1 144.6L259.2 146.5L260.4 147.3L261.6 148.3L259.5 146.4L257.3 144.6L256.1 143.7z"/>
<path color="#cb3e38" d="M219.7 126.8L221.8 127L224 127.2L225.2 127.8L226.5 128.5L224.3 128.2L222.1 128L220.9 127.4z"/>
<path color="#ead5c9" d="M308.6 215L310.8 218.5L312.9 222L314 222L315.2 222.1L313 218.7L310.9 215.2L309.8 215.1z"/>
<path color="#eed0c0" d="M114.4 217.9L116.5 216L118.6 214.2L119.8 211.3L121.1 208.3L119.1 210.2L117 212.1L115.7 215z"/>
<path color="#f7a688" d="M285.2 176.4L287.3 179.4L289.5 182.4L290.6 182.9L291.8 183.5L289.7 180.5L287.5 177.6L286.3 177z"/>
<path color="#e46e56" d="M259.2 146.5L261.4 148.5L263.6 150.6L264.8 151.4L265.9 152.3L263.8 150.2L261.6 148.3L260.4 147.3z"/>
<path color="#f6a586" d="M135.5 183.4L137.6 181.5L139.7 179.5L140.9 177.2L142.2 174.9L140.1 176.9L138.1 178.9L136.8 181.1z"/>
<path color="#f29072" d="M144.8 170.7L146.9 168.7L149 166.8L150.3 164.8L151.5 162.9L149.4 164.8L147.4 166.8L146.1 168.7z"/>
<path color="#f59d7e" d="M280.9 170.6L283 173.5L285.2 176.4L286.3 177L287.5 177.6L285.4 174.7L283.2 171.9L282 171.3z"/>
<path color="#d1493f" d="M235.1 130.8L237.3 131.7L239.5 132.7L240.7 133.5L241.9 134.3L239.7 133.3L237.6 132.4L236.4 131.6z"/>
<path color="#d2dbe8" d="M100.1 246.2L102.2 244.6L104.2 243L105.5 239.7L106.8 236.4L104.7 238.1L102.7 239.8L101.4 243z"/>
<path color="#e8765c" d="M263.6 150.6L265.7 152.8L267.9 155.1L269.1 155.9L270.3 156.7L268.1 154.5L265.9 152.3L264.8 151.4z"/>
<path color="#f29274" d="M276.6 165.1L278.7 167.9L280.9 170.6L282 171.3L283.2 171.9L281.1 169.2L278.9 166.6L277.7 165.8z"/>
<path color="#ec7f63" d="M267.9 155.1L270.1 157.5L272.2 160L273.4 160.7L274.6 161.5L272.4 159L270.3 156.7L269.1 155.9z"/>
<path color="#f08a6c" d="M272.2 160L274.4 162.5L276.6 165.1L277.7 165.8L278.9 166.6L276.7 164L274.6 161.5L273.4 160.7z"/>
<path color="#efcebd" d="M304.3 208L306.5 211.5L308.6 215L309.8 215.1L310.9 215.2L308.8 211.8L306.6 208.4L305.5 208.2z"/>
<path color="#d4dbe6" d="M319.1 236.6L321.3 240.3L323.4 244L324.5 243.7L325.7 243.5L323.5 239.9L321.4 236.3L320.3 236.4z"/>
<path color="#e36c55" d="M160.9 152.4L163 150.7L165.1 149L166.4 147.5L167.7 146.2L165.5 147.9L163.4 149.7L162.2 151z"/>
<path color="#c83836" d="M201.7 127.6L203.9 127L206 126.5L207.3 126.6L208.5 126.8L206.4 127.2L204.2 127.8L203 127.7z"/>
<path color="#ead4c8" d="M111.9 223.9L113.9 222.1L116 220.3L117.3 217.3L118.6 214.2L116.5 216L114.4 217.9L113.2 220.8z"/>
<path color="#f6bfa6" d="M123.7 202.7L125.7 200.8L127.8 199L129.1 196.2L130.4 193.5L128.3 195.4L126.2 197.3L125 200z"/>
<path color="#cbd8ee" d="M97.6 252.8L99.6 251.2L101.7 249.7L103 246.3L104.2 243L102.2 244.6L100.1 246.2L98.9 249.5z"/>
<path color="#f3c7b1" d="M300.1 201.2L302.2 204.6L304.3 208L305.5 208.2L306.6 208.4L304.5 205L302.4 201.6L301.2 201.4z"/>
<path color="#d24b40" d="M239.5 132.7L241.7 133.8L243.8 135.1L245 135.8L246.2 136.7L244.1 135.4L241.9 134.3L240.7 133.5z"/>
<path color="#ca3b37" d="M224 127.2L226.2 127.6L228.3 128.1L229.6 128.7L230.8 129.4L228.6 128.9L226.5 128.5L225.2 127.8z"/>
<path color="#dcdddd" d="M314.9 229.4L317 233L319.1 236.6L320.3 236.4L321.4 236.3L319.3 232.7L317.2 229.1L316 229.2z"/>
<path color="#dd5f4b" d="M167.7 146.2L169.8 144.6L171.9 143L173.2 141.8L174.5 140.7L172.3 142.3L170.2 144L168.9 145z"/>
<path color="#f7aa8c" d="M132.9 188.3L135 186.4L137.1 184.5L138.4 182L139.7 179.5L137.6 181.5L135.5 183.4L134.2 185.8z"/>
<path color="#c73635" d="M212.9 126.2L215 126L217.2 126L218.4 126.4L219.7 126.8L217.5 126.8L215.4 126.9L214.1 126.5z"/>
<path color="#ec7f63" d="M151.5 162.9L153.6 161L155.7 159.2L157 157.3L158.3 155.6L156.2 157.4L154.1 159.3L152.8 161z"/>
<path color="#ca3b37" d="M194.9 129.5L197.1 128.6L199.2 127.9L200.5 127.7L201.7 127.6L199.6 128.3L197.4 129.2L196.2 129.3z"/>
<path color="#e5d8d1" d="M109.3 230L111.4 228.3L113.5 226.7L114.7 223.5L116 220.3L113.9 222.1L111.9 223.9L110.6 226.9z"/>
<path color="#f39577" d="M142.2 174.9L144.3 173L146.4 171.1L147.7 168.9L149 166.8L146.9 168.7L144.8 170.7L143.5 172.7z"/>
<path color="#c3d5f4" d="M95 259.5L97.1 258L99.1 256.5L100.4 253.1L101.7 249.7L99.6 251.2L97.6 252.8L96.3 256.1z"/>
<path color="#f6bea4" d="M295.8 194.5L297.9 197.8L300.1 201.2L301.2 201.4L302.4 201.6L300.2 198.3L298.1 195.1L296.9 194.8z"/>
<path color="#f4c5ad" d="M121.1 208.3L123.2 206.5L125.3 204.7L126.5 201.8L127.8 199L125.7 200.8L123.7 202.7L122.4 205.5z"/>
<path color="#d65244" d="M174.5 140.7L176.6 139.3L178.7 137.9L180 136.9L181.3 136.1L179.1 137.5L177 138.9L175.7 139.8z"/>
<path color="#cc403a" d="M188.1 132.3L190.2 131.2L192.4 130.2L193.6 129.8L194.9 129.5L192.8 130.4L190.6 131.5L189.3 131.8z"/>
<path color="#5977e3" d="M309.2 346.3L311.4 347L313.6 347.6L314.8 346.5L316 345.3L313.8 344.6L313.3 275.5L312.1 276z"/>
<path color="#d55042" d="M243.8 135.1L246 136.5L248.2 138L249.4 138.7L250.6 139.5L248.4 138L246.2 136.7L245 135.8z"/>
<path color="#d1493f" d="M181.3 136.1L183.4 134.8L185.5 133.6L186.8 132.9L188.1 132.3L185.9 133.5L183.8 134.8L182.5 135.4z"/>
<path color="#e5d8d1" d="M310.6 222.2L312.7 225.8L314.9 229.4L316 229.2L317.2 229.1L315 225.6L312.9 222L311.7 222.1z"/>
<path color="#f7b497" d="M291.5 188L293.6 191.2L295.8 194.5L296.9 194.8L298.1 195.1L295.9 191.8L293.8 188.6L292.6 188.3z"/>
<path color="#dfdbd9" d="M106.8 236.4L108.8 234.8L110.9 233.2L112.2 229.9L113.5 226.7L111.4 228.3L109.3 230L108.1 233.2z"/>
<path color="#ca3b37" d="M228.3 128.1L230.5 128.8L232.7 129.6L233.9 130.1L235.1 130.8L233 130L230.8 129.4L229.6 128.7z"/>
<path color="#e57058" d="M158.3 155.6L160.4 153.8L162.5 152.1L163.8 150.5L165.1 149L163 150.7L160.9 152.4L159.6 154z"/>
<path color="#f7b093" d="M130.4 193.5L132.5 191.6L134.5 189.8L135.8 187.1L137.1 184.5L135 186.4L132.9 188.3L131.7 190.8z"/>
<path color="#d85646" d="M248.2 138L250.3 139.6L252.5 141.3L253.7 142L254.9 142.8L252.7 141.1L250.6 139.5L249.4 138.7z"/>
<path color="#c53334" d="M206 126.5L208.2 126.1L210.4 125.9L211.6 125.9L212.9 126.2L210.7 126.4L208.5 126.8L207.3 126.6z"/>
<path color="#f7aa8c" d="M287.2 181.7L289.3 184.8L291.5 188L292.6 188.3L293.8 188.6L291.6 185.5L289.5 182.4L288.3 182z"/>
<path color="#f2cab5" d="M118.6 214.2L120.6 212.5L122.7 210.7L124 207.7L125.3 204.7L123.2 206.5L121.1 208.3L119.8 211.3z"/>
<path color="#ecd3c5" d="M306.3 215L308.5 218.6L310.6 222.2L311.7 222.1L312.9 222L310.8 218.5L308.6 215L307.5 215z"/>
<path color="#c53334" d="M217.2 126L219.4 126.2L221.5 126.4L222.8 126.8L224 127.2L221.8 127L219.7 126.8L218.4 126.4z"/>
<path color="#f49a7b" d="M139.7 179.5L141.7 177.7L143.8 175.8L145.1 173.4L146.4 171.1L144.3 173L142.2 174.9L140.9 177.2z"/>
<path color="#ee8468" d="M149 166.8L151.1 165L153.2 163.2L154.5 161.1L155.7 159.2L153.6 161L151.5 162.9L150.3 164.8z"/>
<path color="#f5a081" d="M282.8 175.5L285 178.6L287.2 181.7L288.3 182L289.5 182.4L287.3 179.4L285.2 176.4L284 175.9z"/>
<path color="#d9dce1" d="M104.2 243L106.3 241.4L108.4 239.9L109.6 236.5L110.9 233.2L108.8 234.8L106.8 236.4L105.5 239.7z"/>
<path color="#dc5d4a" d="M252.5 141.3L254.7 143.1L256.9 145.1L258.1 145.7L259.2 146.5L257.1 144.6L254.9 142.8L253.7 142z"/>
<path color="#d6dce4" d="M316.8 237.2L319 240.9L321.1 244.6L322.3 244.3L323.4 244L321.3 240.3L319.1 236.6L318 236.9z"/>
<path color="#82a6fb" d="M109.9 339.8L112 340.4L114.1 341.1L113.6 263.4L114.8 259.5L112.7 260.4L110.6 261.4L111.2 338.6z"/>
<path color="#f39577" d="M278.5 169.7L280.7 172.6L282.8 175.5L284 175.9L285.2 176.4L283 173.5L280.9 170.6L279.7 170.1z"/>
<path color="#de614d" d="M165.1 149L167.2 147.3L169.3 145.8L170.6 144.3L171.9 143L169.8 144.6L167.7 146.2L166.4 147.5z"/>
<path color="#f2cbb7" d="M302 208L304.2 211.5L306.3 215L307.5 215L308.6 215L306.5 211.5L304.3 208L303.2 208z"/>
<path color="#e0654f" d="M256.9 145.1L259 147.1L261.2 149.3L262.4 149.9L263.6 150.6L261.4 148.5L259.2 146.5L258.1 145.7z"/>
<path color="#c53334" d="M199.2 127.9L201.4 127.2L203.5 126.7L204.8 126.5L206 126.5L203.9 127L201.7 127.6L200.5 127.7z"/>
<path color="#cb3e38" d="M232.7 129.6L234.9 130.5L237 131.5L238.3 132L239.5 132.7L237.3 131.7L235.1 130.8L233.9 130.1z"/>
<path color="#efcfbf" d="M116 220.3L118.1 218.6L120.1 217L121.4 213.8L122.7 210.7L120.6 212.5L118.6 214.2L117.3 217.3z"/>
<path color="#f08b6e" d="M274.2 164.1L276.4 166.8L278.5 169.7L279.7 170.1L280.9 170.6L278.7 167.9L276.6 165.1L275.4 164.6z"/>
<path color="#f7b79b" d="M127.8 199L129.9 197.1L132 195.4L133.3 192.6L134.5 189.8L132.5 191.6L130.4 193.5L129.1 196.2z"/>
<path color="#e36c55" d="M261.2 149.3L263.4 151.5L265.5 153.8L266.7 154.4L267.9 155.1L265.7 152.8L263.6 150.6L262.4 149.9z"/>
<path color="#d2dbe8" d="M101.7 249.7L103.7 248.2L105.8 246.7L107.1 243.3L108.4 239.9L106.3 241.4L104.2 243L103 246.3z"/>
<path color="#ec8165" d="M269.9 158.8L272 161.4L274.2 164.1L275.4 164.6L276.6 165.1L274.4 162.5L272.2 160L271.1 159.3z"/>
<path color="#e8765c" d="M265.5 153.8L267.7 156.3L269.9 158.8L271.1 159.3L272.2 160L270.1 157.5L267.9 155.1L266.7 154.4z"/>
<path color="#d65244" d="M171.9 143L174 141.5L176.2 140.1L177.4 138.9L178.7 137.9L176.6 139.3L174.5 140.7L173.2 141.8z"/>
<path color="#dfdbd9" d="M312.6 229.9L314.7 233.6L316.8 237.2L318 236.9L319.1 236.6L317 233L314.9 229.4L313.7 229.6z"/>
<path color="#f5c2aa" d="M297.7 201.1L299.9 204.5L302 208L303.2 208L304.3 208L302.2 204.6L300.1 201.2L298.9 201.1z"/>
<path color="#c73635" d="M192.4 130.2L194.5 129.4L196.7 128.6L197.9 128.2L199.2 127.9L197.1 128.6L194.9 129.5L193.6 129.8z"/>
<path color="#e7745b" d="M155.7 159.2L157.8 157.4L160 155.8L161.2 153.9L162.5 152.1L160.4 153.8L158.3 155.6L157 157.3z"/>
<path color="#f5a081" d="M137.1 184.5L139.2 182.7L141.3 180.9L142.6 178.3L143.8 175.8L141.7 177.7L139.7 179.5L138.4 182z"/>
<path color="#cad8ef" d="M99.1 256.5L101.2 255.1L103.3 253.7L104.5 250.2L105.8 246.7L103.7 248.2L101.7 249.7L100.4 253.1z"/>
<path color="#d0473d" d="M178.7 137.9L180.8 136.6L183 135.4L184.3 134.4L185.5 133.6L183.4 134.8L181.3 136.1L180 136.9z"/>
<path color="#ead4c8" d="M113.5 226.7L115.5 225L117.6 223.4L118.9 220.2L120.1 217L118.1 218.6L116 220.3L114.7 223.5z"/>
<path color="#c12b30" d="M210.4 125.9L212.5 125.7L214.7 125.7L215.9 125.8L217.2 126L215 126L212.9 126.2L211.6 125.9z"/>
<path color="#c43032" d="M221.5 126.4L223.7 126.8L225.9 127.3L227.1 127.7L228.3 128.1L226.2 127.6L224 127.2L222.8 126.8z"/>
<path color="#cb3e38" d="M185.5 133.6L187.7 132.5L189.8 131.5L191.1 130.8L192.4 130.2L190.2 131.2L188.1 132.3L186.8 132.9z"/>
<path color="#cc403a" d="M237 131.5L239.2 132.6L241.4 133.9L242.6 134.4L243.8 135.1L241.7 133.8L239.5 132.7L238.3 132z"/>
<path color="#f08a6c" d="M146.4 171.1L148.5 169.3L150.6 167.6L151.9 165.3L153.2 163.2L151.1 165L149 166.8L147.7 168.9z"/>
<path color="#4a63d3" d="M297.8 352L300 352.7L302.2 353.4L303.4 352.2L304.6 351L302.4 350.3L301.8 274.6L299 350.8z"/>
<path color="#f6bda2" d="M125.3 204.7L127.3 203L129.4 201.3L130.7 198.3L132 195.4L129.9 197.1L127.8 199L126.5 201.8z"/>
<path color="#f7b99e" d="M293.4 194.3L295.6 197.7L297.7 201.1L298.9 201.1L300.1 201.2L297.9 197.8L295.8 194.5L294.6 194.4z"/>
<path color="#6f92f3" d="M115.7 344.8L117.8 345.5L119.9 346.2L121.2 345L120.7 264.5L118.6 265.1L116.5 265.8L117 343.6z"/>
<path color="#e7d7ce" d="M308.3 222.6L310.4 226.3L312.6 229.9L313.7 229.6L314.9 229.4L312.7 225.8L310.6 222.2L309.4 222.4z"/>
<path color="#cedaeb" d="M318.8 245.6L321 249.5L323.1 253.4L324.2 252.7L325.4 252.1L323.3 248.4L321.1 244.6L320 245.1z"/>
<path color="#e5d8d1" d="M110.9 233.2L113 231.6L115 230.1L116.3 226.8L117.6 223.4L115.5 225L113.5 226.7L112.2 229.9z"/>
<path color="#f7b093" d="M289.1 187.7L291.3 191L293.4 194.3L294.6 194.4L295.8 194.5L293.6 191.2L291.5 188L290.3 187.8z"/>
<path color="#df634e" d="M162.5 152.1L164.6 150.5L166.8 149L168.1 147.3L169.3 145.8L167.2 147.3L165.1 149L163.8 150.5z"/>
<path color="#cf453c" d="M241.4 133.9L243.6 135.3L245.7 136.8L247 137.3L248.2 138L246 136.5L243.8 135.1L242.6 134.4z"/>
<path color="#779af7" d="M313.3 275.5L313.8 344.6L316 345.3L317.1 344.1L318.3 342.9L317.7 278.5L315.6 274.7L314.4 275.1z"/>
<path color="#f7a688" d="M134.5 189.8L136.6 188L138.7 186.3L140 183.6L141.3 180.9L139.2 182.7L137.1 184.5L135.8 187.1z"/>
<path color="#c12b30" d="M203.5 126.7L205.7 126.3L207.8 126.1L209.1 125.9L210.4 125.9L208.2 126.1L206 126.5L204.8 126.5z"/>
<path color="#f5c2aa" d="M122.7 210.7L124.8 209L126.9 207.4L128.1 204.3L129.4 201.3L127.3 203L125.3 204.7L124 207.7z"/>
<path color="#eed0c0" d="M304 215.4L306.1 219L308.3 222.6L309.4 222.4L310.6 222.2L308.5 218.6L306.3 215L305.2 215.2z"/>
<path color="#c43032" d="M225.9 127.3L228 128L230.2 128.8L231.5 129.1L232.7 129.6L230.5 128.8L228.3 128.1L227.1 127.7z"/>
<path color="#f6a586" d="M284.8 181.2L287 184.4L289.1 187.7L290.3 187.8L291.5 188L289.3 184.8L287.2 181.7L286 181.4z"/>
<path color="#b5cdfa" d="M318.4 257.6L320.5 262.4L322.7 266.5L323.8 264.7L323.1 332.3L322.9 259.4L320.8 255.2L319.6 256.3z"/>
<path color="#dfdbd9" d="M108.4 239.9L110.4 238.4L112.5 236.9L113.8 233.5L115 230.1L113 231.6L110.9 233.2L109.6 236.5z"/>
<path color="#e9785d" d="M153.2 163.2L155.3 161.5L157.4 159.8L158.7 157.7L160 155.8L157.8 157.4L155.7 159.2L154.5 161.1z"/>
<path color="#f18f71" d="M143.8 175.8L145.9 174.1L148 172.4L149.3 169.9L150.6 167.6L148.5 169.3L146.4 171.1L145.1 173.4z"/>
<path color="#d24b40" d="M245.7 136.8L247.9 138.5L250.1 140.2L251.3 140.7L252.5 141.3L250.3 139.6L248.2 138L247 137.3z"/>
<path color="#d8dce2" d="M314.5 238.1L316.7 241.8L318.8 245.6L320 245.1L321.1 244.6L319 240.9L316.8 237.2L315.7 237.7z"/>
<path color="#c0282f" d="M214.7 125.7L216.9 125.9L219 126.1L220.3 126.2L221.5 126.4L219.4 126.2L217.2 126L215.9 125.8z"/>
<path color="#d75445" d="M169.3 145.8L171.5 144.3L173.6 142.9L174.9 141.5L176.2 140.1L174 141.5L171.9 143L170.6 144.3z"/>
<path color="#5d7ce6" d="M121.5 349.9L123.6 350.5L125.7 351.2L127.1 350L126.7 270.9L124.6 271.2L124.1 347.5L122.8 348.7z"/>
<path color="#f49a7b" d="M280.5 175L282.7 178.1L284.8 181.2L286 181.4L287.2 181.7L285 178.6L282.8 175.5L281.7 175.2z"/>
<path color="#c12b30" d="M196.7 128.6L198.8 128L201 127.4L202.3 127L203.5 126.7L201.4 127.2L199.2 127.9L197.9 128.2z"/>
<path color="#f2c9b4" d="M299.7 208.3L301.9 211.8L304 215.4L305.2 215.2L306.3 215L304.2 211.5L302 208L300.9 208.1z"/>
<path color="#d65244" d="M250.1 140.2L252.3 142.1L254.5 144L255.7 144.5L256.9 145.1L254.7 143.1L252.5 141.3L251.3 140.7z"/>
<path color="#f2c9b4" d="M120.1 217L122.2 215.4L124.3 213.8L125.6 210.6L126.9 207.4L124.8 209L122.7 210.7L121.4 213.8z"/>
<path color="#d8dce2" d="M105.8 246.7L107.9 245.3L109.9 243.9L111.2 240.4L112.5 236.9L110.4 238.4L108.4 239.9L107.1 243.3z"/>
<path color="#f18f71" d="M276.2 169.1L278.3 172L280.5 175L281.7 175.2L282.8 175.5L280.7 172.6L278.5 169.7L277.3 169.3z"/>
<path color="#f7ad90" d="M132 195.4L134.1 193.7L136.2 192L137.4 189.1L138.7 186.3L136.6 188L134.5 189.8L133.3 192.6z"/>
<path color="#d0473d" d="M176.2 140.1L178.3 138.8L180.4 137.6L181.7 136.4L183 135.4L180.8 136.6L178.7 137.9L177.4 138.9z"/>
<path color="#c53334" d="M189.8 131.5L192 130.6L194.1 129.9L195.4 129.2L196.7 128.6L194.5 129.4L192.4 130.2L191.1 130.8z"/>
<path color="#da5a49" d="M254.5 144L256.6 146.1L258.8 148.3L260 148.7L261.2 149.3L259 147.1L256.9 145.1L255.7 144.5z"/>
<path color="#e1dad6" d="M310.3 230.7L312.4 234.4L314.5 238.1L315.7 237.7L316.8 237.2L314.7 233.6L312.6 229.9L311.4 230.3z"/>
<path color="#ee8468" d="M271.8 163.4L274 166.2L276.2 169.1L277.3 169.3L278.5 169.7L276.4 166.8L274.2 164.1L273 163.7z"/>
<path color="#c53334" d="M230.2 128.8L232.4 129.7L234.6 130.7L235.8 131L237 131.5L234.9 130.5L232.7 129.6L231.5 129.1z"/>
<path color="#ca3b37" d="M183 135.4L185.1 134.3L187.3 133.3L188.6 132.3L189.8 131.5L187.7 132.5L185.5 133.6L184.3 134.4z"/>
<path color="#e0654f" d="M258.8 148.3L261 150.6L263.1 153L264.3 153.4L265.5 153.8L263.4 151.5L261.2 149.3L260 148.7z"/>
<path color="#e97a5f" d="M267.5 158L269.7 160.6L271.8 163.4L273 163.7L274.2 164.1L272 161.4L269.9 158.8L268.7 158.3z"/>
<path color="#f6bfa6" d="M295.4 201.3L297.6 204.8L299.7 208.3L300.9 208.1L302 208L299.9 204.5L297.7 201.1L296.6 201.1z"/>
<path color="#e46e56" d="M263.1 153L265.3 155.4L267.5 158L268.7 158.3L269.9 158.8L267.7 156.3L265.5 153.8L264.3 153.4z"/>
<path color="#d1dae9" d="M103.3 253.7L105.3 252.4L107.4 251L108.7 247.5L109.9 243.9L107.9 245.3L105.8 246.7L104.5 250.2z"/>
<path color="#e16751" d="M160 155.8L162.1 154.2L164.2 152.7L165.5 150.8L166.8 149L164.6 150.5L162.5 152.1L161.2 153.9z"/>
<path color="#f39577" d="M141.3 180.9L143.4 179.2L145.5 177.5L146.8 174.9L148 172.4L145.9 174.1L143.8 175.8L142.6 178.3z"/>
<path color="#efcebd" d="M117.6 223.4L119.7 221.9L121.7 220.4L123 217.1L124.3 213.8L122.2 215.4L120.1 217L118.9 220.2z"/>
<path color="#be242e" d="M207.8 126.1L210 125.9L212.2 125.9L213.4 125.8L214.7 125.7L212.5 125.7L210.4 125.9L209.1 125.9z"/>
<path color="#4a63d3" d="M127.3 355L129.5 355.7L131.6 356.3L132.9 355.2L132.7 278.8L132.1 353.3L130 352.6L128.7 353.8z"/>
<path color="#eb7d62" d="M150.6 167.6L152.7 165.9L154.8 164.3L156.1 162L157.4 159.8L155.3 161.5L153.2 163.2L151.9 165.3z"/>
<path color="#be242e" d="M219 126.1L221.2 126.5L223.4 127L224.6 127.1L225.9 127.3L223.7 126.8L221.5 126.4L220.3 126.2z"/>
<path color="#f7b497" d="M129.4 201.3L131.5 199.6L133.6 198L134.9 195L136.2 192L134.1 193.7L132 195.4L130.7 198.3z"/>
<path color="#c9d7f0" d="M100.7 260.8L102.8 259.5L104.8 258.3L106.1 254.6L107.4 251L105.3 252.4L103.3 253.7L102 257.2z"/>
<path color="#ead5c9" d="M306 223.4L308.1 227L310.3 230.7L311.4 230.3L312.6 229.9L310.4 226.3L308.3 222.6L307.1 222.9z"/>
<path color="#cfdaea" d="M316.5 246.8L318.6 250.9L320.8 255.2L321.9 254.2L323.1 253.4L321 249.5L318.8 245.6L317.7 246.2z"/>
<path color="#f7b599" d="M291.1 194.4L293.2 197.8L295.4 201.3L296.6 201.1L297.7 201.1L295.6 197.7L293.4 194.3L292.3 194.3z"/>
<path color="#c73635" d="M234.6 130.7L236.8 131.9L238.9 133.2L240.2 133.5L241.4 133.9L239.2 132.6L237 131.5L235.8 131z"/>
<path color="#ead4c8" d="M115 230.1L117.1 228.6L119.2 227.2L120.5 223.8L121.7 220.4L119.7 221.9L117.6 223.4L116.3 226.8z"/>
<path color="#d85646" d="M166.8 149L168.9 147.5L171 146.2L172.3 144.5L173.6 142.9L171.5 144.3L169.3 145.8L168.1 147.3z"/>
<path color="#f7aa8c" d="M286.8 187.7L288.9 191L291.1 194.4L292.3 194.3L293.4 194.3L291.3 191L289.1 187.7L288 187.6z"/>
<path color="#be242e" d="M201 127.4L203.2 127L205.3 126.8L206.6 126.3L207.8 126.1L205.7 126.3L203.5 126.7L202.3 127z"/>
<path color="#f59d7e" d="M138.7 186.3L140.8 184.6L142.9 183.1L144.2 180.3L145.5 177.5L143.4 179.2L141.3 180.9L140 183.6z"/>
<path color="#efcebd" d="M301.7 216.1L303.8 219.7L306 223.4L307.1 222.9L308.3 222.6L306.1 219L304 215.4L302.8 215.7z"/>
<path color="#f7bca1" d="M126.9 207.4L128.9 205.8L131 204.3L132.3 201.1L133.6 198L131.5 199.6L129.4 201.3L128.1 204.3z"/>
<path color="#ca3b37" d="M238.9 133.2L241.1 134.6L243.3 136.1L244.5 136.4L245.7 136.8L243.6 135.3L241.4 133.9L240.2 133.5z"/>
<path color="#e5d8d1" d="M112.5 236.9L114.6 235.5L116.6 234.2L117.9 230.7L119.2 227.2L117.1 228.6L115 230.1L113.8 233.5z"/>
<path color="#dadce0" d="M312.2 239.3L314.4 243L316.5 246.8L317.7 246.2L318.8 245.6L316.7 241.8L314.5 238.1L313.4 238.7z"/>
<path color="#d1493f" d="M173.6 142.9L175.7 141.6L177.9 140.4L179.2 139L180.4 137.6L178.3 138.8L176.2 140.1L174.9 141.5z"/>
<path color="#e36c55" d="M157.4 159.8L159.5 158.3L161.6 156.8L162.9 154.7L164.2 152.7L162.1 154.2L160 155.8L158.7 157.7z"/>
<path color="#ee8468" d="M148 172.4L150.2 170.8L152.3 169.2L153.5 166.7L154.8 164.3L152.7 165.9L150.6 167.6L149.3 169.9z"/>
<path color="#f5a081" d="M282.5 181.2L284.6 184.4L286.8 187.7L288 187.6L289.1 187.7L287 184.4L284.8 181.2L283.6 181.1z"/>
<path color="#be242e" d="M223.4 127L225.6 127.7L227.8 128.4L229 128.5L230.2 128.8L228 128L225.9 127.3L224.6 127.1z"/>
<path color="#c0282f" d="M194.1 129.9L196.3 129.2L198.5 128.7L199.7 128L201 127.4L198.8 128L196.7 128.6L195.4 129.2z"/>
<path color="#bb1b2c" d="M212.2 125.9L214.4 126L216.5 126.3L217.8 126.1L219 126.1L216.9 125.9L214.7 125.7L213.4 125.8z"/>
<path color="#6e90f2" d="M301.8 274.6L302.4 350.3L304.6 351L305.7 349.8L306.9 348.6L304.7 347.9L304.2 271.3L303 272.9z"/>
<path color="#ca3b37" d="M180.4 137.6L182.6 136.6L184.7 135.6L186 134.4L187.3 133.3L185.1 134.3L183 135.4L181.7 136.4z"/>
<path color="#c43032" d="M187.3 133.3L189.4 132.4L191.6 131.6L192.9 130.7L194.1 129.9L192 130.6L189.8 131.5L188.6 132.3z"/>
<path color="#f4c6af" d="M297.4 208.9L299.5 212.5L301.7 216.1L302.8 215.7L304 215.4L301.9 211.8L299.7 208.3L298.5 208.5z"/>
<path color="#dedcdb" d="M109.9 243.9L112 242.6L114.1 241.3L115.4 237.7L116.6 234.2L114.6 235.5L112.5 236.9L111.2 240.4z"/>
<path color="#cd423b" d="M243.3 136.1L245.5 137.8L247.7 139.5L248.9 139.8L250.1 140.2L247.9 138.5L245.7 136.8L244.5 136.4z"/>
<path color="#f5c2aa" d="M124.3 213.8L126.4 212.3L128.5 210.8L129.8 207.5L131 204.3L128.9 205.8L126.9 207.4L125.6 210.6z"/>
<path color="#f39577" d="M278.1 174.9L280.3 178L282.5 181.2L283.6 181.1L284.8 181.2L282.7 178.1L280.5 175L279.3 174.9z"/>
<path color="#f6a586" d="M136.2 192L138.3 190.4L140.4 188.9L141.6 185.9L142.9 183.1L140.8 184.6L138.7 186.3L137.4 189.1z"/>
<path color="#e3d9d3" d="M307.9 231.8L310.1 235.6L312.2 239.3L313.4 238.7L314.5 238.1L312.4 234.4L310.3 230.7L309.1 231.2z"/>
<path color="#f08a6c" d="M273.8 168.8L276 171.8L278.1 174.9L279.3 174.9L280.5 175L278.3 172L276.2 169.1L275 168.9z"/>
<path color="#d1493f" d="M247.7 139.5L249.8 141.4L252 143.4L253.2 143.7L254.5 144L252.3 142.1L250.1 140.2L248.9 139.8z"/>
<path color="#d7dce3" d="M107.4 251L109.5 249.8L111.6 248.6L112.8 244.9L114.1 241.3L112 242.6L109.9 243.9L108.7 247.5z"/>
<path color="#da5a49" d="M164.2 152.7L166.3 151.2L168.5 149.9L169.7 148L171 146.2L168.9 147.5L166.8 149L165.5 150.8z"/>
<path color="#85a8fc" d="M119.9 346.2L122 346.8L124.1 347.5L123.7 267.5L125 263.4L122.9 263.9L120.7 264.5L121.2 345z"/>
<path color="#f6bda2" d="M293.1 201.8L295.2 205.3L297.4 208.9L298.5 208.5L299.7 208.3L297.6 204.8L295.4 201.3L294.2 201.5z"/>
<path color="#eb7d62" d="M269.4 163L271.6 165.9L273.8 168.8L275 168.9L276.2 169.1L274 166.2L271.8 163.4L270.6 163.2z"/>
<path color="#c0282f" d="M227.8 128.4L229.9 129.4L232.1 130.4L233.4 130.5L234.6 130.7L232.4 129.7L230.2 128.8L229 128.5z"/>
<path color="#d65244" d="M252 143.4L254.2 145.5L256.4 147.8L257.6 148L258.8 148.3L256.6 146.1L254.5 144L253.2 143.7z"/>
<path color="#f2c9b4" d="M121.7 220.4L123.8 218.9L125.9 217.5L127.2 214.2L128.5 210.8L126.4 212.3L124.3 213.8L123 217.1z"/>
<path color="#bcd2f7" d="M108.4 336.1L108.5 262.4L110.6 261.4L111.9 257.5L113.2 253.8L111.1 254.8L109 255.9L107.7 259.7z"/>
<path color="#f08b6e" d="M145.5 177.5L147.6 176L149.7 174.4L151 171.8L152.3 169.2L150.2 170.8L148 172.4L146.8 174.9z"/>
<path color="#80a3fa" d="M304.2 271.3L304.7 347.9L306.9 348.6L308.1 347.5L309.2 346.3L308.8 272.9L306.6 268.7L305.4 269.9z"/>
<path color="#d1dae9" d="M314.2 248.3L316.3 252.7L318.4 257.6L319.6 256.3L320.8 255.2L318.6 250.9L316.5 246.8L315.3 247.5z"/>
<path color="#e67259" d="M265.1 157.6L267.3 160.3L269.4 163L270.6 163.2L271.8 163.4L269.7 160.6L267.5 158L266.3 157.7z"/>
<path color="#ba162b" d="M205.3 126.8L207.5 126.6L209.7 126.6L210.9 126.2L212.2 125.9L210 125.9L207.8 126.1L206.6 126.3z"/>
<path color="#dc5d4a" d="M256.4 147.8L258.6 150.1L260.7 152.5L261.9 152.7L263.1 153L261 150.6L258.8 148.3L257.6 148z"/>
<path color="#e67259" d="M154.8 164.3L156.9 162.8L159.1 161.3L160.4 159L161.6 156.8L159.5 158.3L157.4 159.8L156.1 162z"/>
<path color="#e16751" d="M260.7 152.5L262.9 155L265.1 157.6L266.3 157.7L267.5 158L265.3 155.4L263.1 153L261.9 152.7z"/>
<path color="#cfdaea" d="M104.8 258.3L106.9 257.1L109 255.9L110.3 252.2L111.6 248.6L109.5 249.8L107.4 251L106.1 254.6z"/>
<path color="#ead4c8" d="M303.6 224.4L305.8 228.1L307.9 231.8L309.1 231.2L310.3 230.7L308.1 227L306 223.4L304.8 223.8z"/>
<path color="#f7ac8e" d="M133.6 198L135.7 196.5L137.8 195L139.1 191.9L140.4 188.9L138.3 190.4L136.2 192L134.9 195z"/>
<path color="#ba162b" d="M216.5 126.3L218.7 126.7L220.9 127.2L222.1 127L223.4 127L221.2 126.5L219 126.1L217.8 126.1z"/>
<path color="#f7b396" d="M288.7 194.8L290.9 198.3L293.1 201.8L294.2 201.5L295.4 201.3L293.2 197.8L291.1 194.4L289.9 194.6z"/>
<path color="#d24b40" d="M171 146.2L173.2 144.9L175.3 143.7L176.6 142L177.9 140.4L175.7 141.6L173.6 142.9L172.3 144.5z"/>
<path color="#efcfbf" d="M119.2 227.2L121.3 225.8L123.4 224.5L124.7 221L125.9 217.5L123.8 218.9L121.7 220.4L120.5 223.8z"/>
<path color="#c3d5f4" d="M316.1 260.2L318.2 265.7L320.3 270.2L321.5 268.4L322.7 266.5L320.5 262.4L318.4 257.6L317.2 258.9z"/>
<path color="#c12b30" d="M232.1 130.4L234.3 131.6L236.5 132.9L237.7 133L238.9 133.2L236.8 131.9L234.6 130.7L233.4 130.5z"/>
<path color="#bb1b2c" d="M198.5 128.7L200.6 128.3L202.8 128L204.1 127.3L205.3 126.8L203.2 127L201 127.4L199.7 128z"/>
<path color="#f1cdba" d="M299.3 217.1L301.5 220.7L303.6 224.4L304.8 223.8L306 223.4L303.8 219.7L301.7 216.1L300.5 216.5z"/>
<path color="#cb3e38" d="M177.9 140.4L180 139.3L182.2 138.4L183.4 136.9L184.7 135.6L182.6 136.6L180.4 137.6L179.2 139z"/>
<path color="#f29274" d="M142.9 183.1L145 181.5L147.1 180.1L148.4 177.2L149.7 174.4L147.6 176L145.5 177.5L144.2 180.3z"/>
<path color="#f7a889" d="M284.4 188.1L286.6 191.4L288.7 194.8L289.9 194.6L291.1 194.4L288.9 191L286.8 187.7L285.6 187.8z"/>
<path color="#dbdcde" d="M309.9 240.8L312 244.5L314.2 248.3L315.3 247.5L316.5 246.8L314.4 243L312.2 239.3L311 240z"/>
<path color="#f7b497" d="M131 204.3L133.1 202.8L135.2 201.4L136.5 198.2L137.8 195L135.7 196.5L133.6 198L132.3 201.1z"/>
<path color="#ead4c8" d="M116.6 234.2L118.7 232.9L120.8 231.6L122.1 228L123.4 224.5L121.3 225.8L119.2 227.2L117.9 230.7z"/>
<path color="#5d7ce6" d="M288.7 355.4L290.9 356.1L293.1 356.7L294.2 355.5L295.4 354.4L293.2 353.7L292.6 274.9L291.3 277z"/>
<path color="#be242e" d="M191.6 131.6L193.8 131L195.9 130.4L197.2 129.5L198.5 128.7L196.3 129.2L194.1 129.9L192.9 130.7z"/>
<path color="#de614d" d="M161.6 156.8L163.8 155.4L165.9 154.1L167.2 151.9L168.5 149.9L166.3 151.2L164.2 152.7L162.9 154.7z"/>
<path color="#c43032" d="M184.7 135.6L186.9 134.7L189 133.9L190.3 132.7L191.6 131.6L189.4 132.4L187.3 133.3L186 134.4z"/>
<path color="#e97a5f" d="M152.3 169.2L154.4 167.7L156.5 166.3L157.8 163.8L159.1 161.3L156.9 162.8L154.8 164.3L153.5 166.7z"/>
<path color="#c53334" d="M236.5 132.9L238.7 134.3L240.9 135.9L242.1 135.9L243.3 136.1L241.1 134.6L238.9 133.2L237.7 133z"/>
<path color="#f59c7d" d="M280.1 181.5L282.2 184.7L284.4 188.1L285.6 187.8L286.8 187.7L284.6 184.4L282.5 181.2L281.3 181.3z"/>
<path color="#ba162b" d="M220.9 127.2L223.1 127.8L225.3 128.6L226.5 128.5L227.8 128.4L225.6 127.7L223.4 127L222.1 127z"/>
<path color="#b8122a" d="M209.7 126.6L211.8 126.7L214 127L215.3 126.6L216.5 126.3L214.4 126L212.2 125.9L210.9 126.2z"/>
<path color="#e4d9d2" d="M114.1 241.3L116.2 240L118.3 238.8L119.6 235.2L120.8 231.6L118.7 232.9L116.6 234.2L115.4 237.7z"/>
<path color="#abc8fd" d="M114.1 341.1L116.2 341.8L116.5 265.8L117.8 261.8L119 257.9L116.9 258.7L114.8 259.5L113.6 263.4z"/>
<path color="#f5c4ac" d="M295 209.8L297.2 213.4L299.3 217.1L300.5 216.5L301.7 216.1L299.5 212.5L297.4 208.9L296.2 209.3z"/>
<path color="#f7bca1" d="M128.5 210.8L130.6 209.4L132.7 208L134 204.7L135.2 201.4L133.1 202.8L131 204.3L129.8 207.5z"/>
<path color="#e4d9d2" d="M305.6 233.3L307.7 237L309.9 240.8L311 240L312.2 239.3L310.1 235.6L307.9 231.8L306.7 232.5z"/>
<path color="#f59c7d" d="M140.4 188.9L142.5 187.4L144.6 186L145.9 183L147.1 180.1L145 181.5L142.9 183.1L141.6 185.9z"/>
<path color="#f29072" d="M275.7 175.1L277.9 178.2L280.1 181.5L281.3 181.3L282.5 181.2L280.3 178L278.1 174.9L276.9 174.9z"/>
<path color="#c83836" d="M240.9 135.9L243 137.5L245.2 139.3L246.4 139.4L247.7 139.5L245.5 137.8L243.3 136.1L242.1 135.9z"/>
<path color="#dcdddd" d="M111.6 248.6L113.6 247.4L115.7 246.2L117 242.5L118.3 238.8L116.2 240L114.1 241.3L112.8 244.9z"/>
<path color="#d55042" d="M168.5 149.9L170.6 148.6L172.7 147.5L174 145.5L175.3 143.7L173.2 144.9L171 146.2L169.7 148z"/>
<path color="#d1dae9" d="M311.8 250.1L313.9 254.7L316.1 260.2L317.2 258.9L318.4 257.6L316.3 252.7L314.2 248.3L313 249.2z"/>
<path color="#ee8468" d="M271.4 169L273.6 172L275.7 175.1L276.9 174.9L278.1 174.9L276 171.8L273.8 168.8L272.6 168.8z"/>
<path color="#f7ba9f" d="M290.7 202.7L292.8 206.2L295 209.8L296.2 209.3L297.4 208.9L295.2 205.3L293.1 201.8L291.9 202.2z"/>
<path color="#f5c2aa" d="M125.9 217.5L128 216.2L130.1 214.9L131.4 211.5L132.7 208L130.6 209.4L128.5 210.8L127.2 214.2z"/>
<path color="#b8122a" d="M202.8 128L205 127.9L207.1 127.8L208.4 127.2L209.7 126.6L207.5 126.6L205.3 126.8L204.1 127.3z"/>
<path color="#cd423b" d="M245.2 139.3L247.4 141.3L249.6 143.3L250.8 143.3L252 143.4L249.8 141.4L247.7 139.5L246.4 139.4z"/>
<path color="#c1d4f4" d="M313.7 262.7L315.8 268.5L317.9 273.2L319.1 271.9L320.3 270.2L318.2 265.7L316.1 260.2L314.9 261.5z"/>
<path color="#ec8165" d="M149.7 174.4L151.8 173L153.9 171.6L155.2 168.9L156.5 166.3L154.4 167.7L152.3 169.2L151 171.8z"/>
<path color="#d5dbe5" d="M109 255.9L111.1 254.8L113.2 253.8L114.5 250L115.7 246.2L113.6 247.4L111.6 248.6L110.3 252.2z"/>
<path color="#e16751" d="M159.1 161.3L161.2 160L163.3 158.7L164.6 156.3L165.9 154.1L163.8 155.4L161.6 156.8L160.4 159z"/>
<path color="#ecd3c5" d="M301.3 225.8L303.4 229.5L305.6 233.3L306.7 232.5L307.9 231.8L305.8 228.1L303.6 224.4L302.4 225.1z"/>
<path color="#bb1b2c" d="M225.3 128.6L227.4 129.5L229.6 130.6L230.9 130.4L232.1 130.4L229.9 129.4L227.8 128.4L226.5 128.5z"/>
<path color="#e9785d" d="M267 163.1L269.2 166L271.4 169L272.6 168.8L273.8 168.8L271.6 165.9L269.4 163L268.2 163z"/>
<path color="#d24b40" d="M249.6 143.3L251.8 145.4L254 147.7L255.2 147.6L256.4 147.8L254.2 145.5L252 143.4L250.8 143.3z"/>
<path color="#cc403a" d="M175.3 143.7L177.5 142.6L179.6 141.7L180.9 140L182.2 138.4L180 139.3L177.9 140.4L176.6 142z"/>
<path color="#f6a385" d="M137.8 195L139.9 193.6L142 192.2L143.3 189.1L144.6 186L142.5 187.4L140.4 188.9L139.1 191.9z"/>
<path color="#e36c55" d="M262.7 157.6L264.9 160.3L267 163.1L268.2 163L269.4 163L267.3 160.3L265.1 157.6L263.9 157.5z"/>
<path color="#d85646" d="M254 147.7L256.1 150L258.3 152.4L259.5 152.4L260.7 152.5L258.6 150.1L256.4 147.8L255.2 147.6z"/>
<path color="#de614d" d="M258.3 152.4L260.5 155L262.7 157.6L263.9 157.5L265.1 157.6L262.9 155L260.7 152.5L259.5 152.4z"/>
<path color="#b70d28" d="M214 127L216.2 127.4L218.4 127.9L219.6 127.5L220.9 127.2L218.7 126.7L216.5 126.3L215.3 126.6z"/>
<path color="#4a63d3" d="M277.1 361.1L279.3 361.8L281.5 362.5L282.7 361.3L283.9 360.1L281.7 359.4L280.7 281.6L278.3 359.9z"/>
<path color="#f7b093" d="M286.4 195.7L288.5 199.1L290.7 202.7L291.9 202.2L293.1 201.8L290.9 198.3L288.7 194.8L287.5 195.2z"/>
<path color="#f2cab5" d="M123.4 224.5L125.5 223.2L127.6 222L128.9 218.4L130.1 214.9L128 216.2L125.9 217.5L124.7 221z"/>
<path color="#ba162b" d="M195.9 130.4L198.1 130L200.3 129.8L201.5 128.8L202.8 128L200.6 128.3L198.5 128.7L197.2 129.5z"/>
<path color="#c53334" d="M182.2 138.4L184.3 137.5L186.5 136.7L187.8 135.3L189 133.9L186.9 134.7L184.7 135.6L183.4 136.9z"/>
<path color="#be242e" d="M189 133.9L191.2 133.3L193.4 132.8L194.6 131.5L195.9 130.4L193.8 131L191.6 131.6L190.3 132.7z"/>
<path color="#dcdddd" d="M307.5 242.5L309.7 246.3L311.8 250.1L313 249.2L314.2 248.3L312 244.5L309.9 240.8L308.7 241.6z"/>
<path color="#f2cbb7" d="M297 218.4L299.1 222.1L301.3 225.8L302.4 225.1L303.6 224.4L301.5 220.7L299.3 217.1L298.1 217.7z"/>
<path color="#be242e" d="M229.6 130.6L231.8 131.8L234 133.1L235.2 132.9L236.5 132.9L234.3 131.6L232.1 130.4L230.9 130.4z"/>
<path color="#f08a6c" d="M147.1 180.1L149.3 178.7L151.4 177.4L152.7 174.5L153.9 171.6L151.8 173L149.7 174.4L148.4 177.2z"/>
<path color="#eed0c0" d="M120.8 231.6L122.9 230.4L125 229.2L126.3 225.6L127.6 222L125.5 223.2L123.4 224.5L122.1 228z"/>
<path color="#f7ac8e" d="M135.2 201.4L137.3 200L139.5 198.8L140.7 195.5L142 192.2L139.9 193.6L137.8 195L136.5 198.2z"/>
<path color="#f6a586" d="M282 188.8L284.2 192.2L286.4 195.7L287.5 195.2L288.7 194.8L286.6 191.4L284.4 188.1L283.2 188.4z"/>
<path color="#d85646" d="M165.9 154.1L168 152.8L170.2 151.7L171.5 149.5L172.7 147.5L170.6 148.6L168.5 149.9L167.2 151.9z"/>
<path color="#e46e56" d="M156.5 166.3L158.6 165L160.8 163.7L162.1 161.2L163.3 158.7L161.2 160L159.1 161.3L157.8 163.8z"/>
<path color="#84a7fc" d="M125.7 351.2L127.9 351.9L130 352.6L129.7 274.7L131 270.4L128.8 270.6L126.7 270.9L127.1 350z"/>
<path color="#e9d5cb" d="M118.3 238.8L120.4 237.7L122.5 236.6L123.7 232.9L125 229.2L122.9 230.4L120.8 231.6L119.6 235.2z"/>
<path color="#b50927" d="M207.1 127.8L209.3 128L211.5 128.2L212.8 127.5L214 127L211.8 126.7L209.7 126.6L208.4 127.2z"/>
<path color="#f5c2aa" d="M292.6 211.1L294.8 214.7L297 218.4L298.1 217.7L299.3 217.1L297.2 213.4L295 209.8L293.8 210.4z"/>
<path color="#e5d8d1" d="M303.2 235L305.4 238.8L307.5 242.5L308.7 241.6L309.9 240.8L307.7 237L305.6 233.3L304.4 234.1z"/>
<path color="#f4987a" d="M277.7 182.2L279.9 185.5L282 188.8L283.2 188.4L284.4 188.1L282.2 184.7L280.1 181.5L278.9 181.8z"/>
<path color="#b70d28" d="M218.4 127.9L220.6 128.5L222.8 129.3L224 128.9L225.3 128.6L223.1 127.8L220.9 127.2L219.6 127.5z"/>
<path color="#c12b30" d="M234 133.1L236.2 134.5L238.4 136.1L239.6 135.9L240.9 135.9L238.7 134.3L236.5 132.9L235.2 132.9z"/>
<path color="#f7b497" d="M132.7 208L134.8 206.8L136.9 205.5L138.2 202.1L139.5 198.8L137.3 200L135.2 201.4L134 204.7z"/>
<path color="#d1dae9" d="M309.5 252.2L311.6 256.9L313.7 262.7L314.9 261.5L316.1 260.2L313.9 254.7L311.8 250.1L310.6 251.1z"/>
<path color="#cf453c" d="M172.7 147.5L174.9 146.4L177 145.5L178.3 143.5L179.6 141.7L177.5 142.6L175.3 143.7L174 145.5z"/>
<path color="#e1dad6" d="M115.7 246.2L117.8 245.2L119.9 244.1L121.2 240.4L122.5 236.6L120.4 237.7L118.3 238.8L117 242.5z"/>
<path color="#f29274" d="M144.6 186L146.7 184.7L148.8 183.4L150.1 180.3L151.4 177.4L149.3 178.7L147.1 180.1L145.9 183z"/>
<path color="#c1d4f4" d="M311.3 264.7L313.4 270.2L315.6 274.7L316.7 274.1L317.9 273.2L315.8 268.5L313.7 262.7L312.5 263.8z"/>
<path color="#f08b6e" d="M273.3 175.7L275.5 178.9L277.7 182.2L278.9 181.8L280.1 181.5L277.9 178.2L275.7 175.1L274.5 175.4z"/>
<path color="#b70d28" d="M200.3 129.8L202.4 129.6L204.6 129.6L205.9 128.7L207.1 127.8L205 127.9L202.8 128L201.5 128.8z"/>
<path color="#c53334" d="M238.4 136.1L240.6 137.8L242.8 139.6L244 139.4L245.2 139.3L243 137.5L240.9 135.9L239.6 135.9z"/>
<path color="#f7b89c" d="M288.3 203.9L290.5 207.5L292.6 211.1L293.8 210.4L295 209.8L292.8 206.2L290.7 202.7L289.5 203.2z"/>
<path color="#dadce0" d="M113.2 253.8L115.3 252.7L117.4 251.8L118.7 247.9L119.9 244.1L117.8 245.2L115.7 246.2L114.5 250z"/>
<path color="#f6bda2" d="M130.1 214.9L132.2 213.7L134.3 212.5L135.6 209L136.9 205.5L134.8 206.8L132.7 208L131.4 211.5z"/>
<path color="#edd2c3" d="M298.9 227.5L301.1 231.2L303.2 235L304.4 234.1L305.6 233.3L303.4 229.5L301.3 225.8L300.1 226.6z"/>
<path color="#c73635" d="M179.6 141.7L181.8 140.8L183.9 140.1L185.2 138.3L186.5 136.7L184.3 137.5L182.2 138.4L180.9 140z"/>
<path color="#e8765c" d="M153.9 171.6L156.1 170.4L158.2 169.2L159.5 166.4L160.8 163.7L158.6 165L156.5 166.3L155.2 168.9z"/>
<path color="#6e90f2" d="M131.6 356.3L133.7 357L135.9 357.7L137.2 356.5L137.1 279.1L134.9 278.9L132.7 278.8L132.9 355.2z"/>
<path color="#dc5d4a" d="M163.3 158.7L165.5 157.5L167.6 156.4L168.9 154L170.2 151.7L168 152.8L165.9 154.1L164.6 156.3z"/>
<path color="#ec7f63" d="M269 169.5L271.2 172.6L273.3 175.7L274.5 175.4L275.7 175.1L273.6 172L271.4 169L270.2 169.2z"/>
<path color="#ba162b" d="M193.4 132.8L195.5 132.4L197.7 132.1L199 130.9L200.3 129.8L198.1 130L195.9 130.4L194.6 131.5z"/>
<path color="#d2dbe8" d="M110.6 261.4L112.7 260.4L114.8 259.5L116.1 255.6L117.4 251.8L115.3 252.7L113.2 253.8L111.9 257.5z"/>
<path color="#c0282f" d="M186.5 136.7L188.6 136.1L190.8 135.6L192.1 134.1L193.4 132.8L191.2 133.3L189 133.9L187.8 135.3z"/>
<path color="#ca3b37" d="M242.8 139.6L245 141.5L247.1 143.6L248.4 143.4L249.6 143.3L247.4 141.3L245.2 139.3L244 139.4z"/>
<path color="#b8122a" d="M222.8 129.3L225 130.3L227.1 131.3L228.4 130.9L229.6 130.6L227.4 129.5L225.3 128.6L224 128.9z"/>
<path color="#f59c7d" d="M142 192.2L144.1 191L146.3 189.8L147.5 186.5L148.8 183.4L146.7 184.7L144.6 186L143.3 189.1z"/>
<path color="#e7745b" d="M264.6 163.6L266.8 166.6L269 169.5L270.2 169.2L271.4 169L269.2 166L267 163.1L265.8 163.3z"/>
<path color="#b50927" d="M211.5 128.2L213.7 128.6L215.9 129.1L217.1 128.4L218.4 127.9L216.2 127.4L214 127L212.8 127.5z"/>
<path color="#f4c5ad" d="M127.6 222L129.7 220.8L131.8 219.7L133.1 216.1L134.3 212.5L132.2 213.7L130.1 214.9L128.9 218.4z"/>
<path color="#f7ad90" d="M284 196.8L286.1 200.4L288.3 203.9L289.5 203.2L290.7 202.7L288.5 199.1L286.4 195.7L285.2 196.2z"/>
<path color="#cf453c" d="M247.1 143.6L249.3 145.7L251.5 148L252.7 147.8L254 147.7L251.8 145.4L249.6 143.3L248.4 143.4z"/>
<path color="#dcdddd" d="M305.1 244.6L307.3 248.4L309.5 252.2L310.6 251.1L311.8 250.1L309.7 246.3L307.5 242.5L306.3 243.5z"/>
<path color="#e16751" d="M260.3 158.1L262.4 160.8L264.6 163.6L265.8 163.3L267 163.1L264.9 160.3L262.7 157.6L261.5 157.8z"/>
<path color="#84a7fc" d="M292.6 274.9L293.2 353.7L295.4 354.4L296.6 353.2L297.8 352L297.2 274.5L295 270.8L293.8 272.8z"/>
<path color="#d55042" d="M251.5 148L253.7 150.4L255.9 152.8L257.1 152.6L258.3 152.4L256.1 150L254 147.7L252.7 147.8z"/>
<path color="#da5a49" d="M255.9 152.8L258.1 155.4L260.3 158.1L261.5 157.8L262.7 157.6L260.5 155L258.3 152.4L257.1 152.6z"/>
<path color="#f2cab5" d="M294.6 220.1L296.7 223.8L298.9 227.5L300.1 226.6L301.3 225.8L299.1 222.1L297 218.4L295.8 219.2z"/>
<path color="#5977e3" d="M137.5 361.5L139.7 362.2L141.8 362.9L143.1 361.7L143.2 291.6L141 290.3L140.1 359.1L138.8 360.3z"/>
<path color="#d24b40" d="M170.2 151.7L172.3 150.7L174.5 149.8L175.8 147.6L177 145.5L174.9 146.4L172.7 147.5L171.5 149.5z"/>
<path color="#f1ccb8" d="M125 229.2L127.1 228.1L129.2 227.1L130.5 223.4L131.8 219.7L129.7 220.8L127.6 222L126.3 225.6z"/>
<path color="#ec7f63" d="M151.4 177.4L153.5 176.1L155.6 175L156.9 172L158.2 169.2L156.1 170.4L153.9 171.6L152.7 174.5z"/>
<path color="#f6a586" d="M139.5 198.8L141.6 197.5L143.7 196.4L145 193L146.3 189.8L144.1 191L142 192.2L140.7 195.5z"/>
<path color="#f6a283" d="M279.6 190L281.8 193.4L284 196.8L285.2 196.2L286.4 195.7L284.2 192.2L282 188.8L280.8 189.3z"/>
<path color="#ba162b" d="M227.1 131.3L229.3 132.5L231.5 133.8L232.8 133.4L234 133.1L231.8 131.8L229.6 130.6L228.4 130.9z"/>
<path color="#e0654f" d="M160.8 163.7L162.9 162.6L165.1 161.5L166.3 158.9L167.6 156.4L165.5 157.5L163.3 158.7L162.1 161.2z"/>
<path color="#b50927" d="M204.6 129.6L206.8 129.7L209 130L210.2 129L211.5 128.2L209.3 128L207.1 127.8L205.9 128.7z"/>
<path color="#e5d8d1" d="M300.8 237L303 240.8L305.1 244.6L306.3 243.5L307.5 242.5L305.4 238.8L303.2 235L302 236z"/>
<path color="#edd2c3" d="M122.5 236.6L124.6 235.6L126.7 234.6L128 230.8L129.2 227.1L127.1 228.1L125 229.2L123.7 232.9z"/>
<path color="#d1dae9" d="M307.1 254.6L309.2 259.2L311.3 264.7L312.5 263.8L313.7 262.7L311.6 256.9L309.5 252.2L308.3 253.3z"/>
<path color="#f5c1a9" d="M290.2 212.7L292.4 216.4L294.6 220.1L295.8 219.2L297 218.4L294.8 214.7L292.6 211.1L291.4 211.9z"/>
<path color="#b5cdfa" d="M306.6 268.7L308.8 272.9L309.2 346.3L312.1 276L313.3 275.5L311.1 271.4L309 266.6L307.8 267.6z"/>
<path color="#ca3b37" d="M177 145.5L179.2 144.6L181.4 143.9L182.6 141.9L183.9 140.1L181.8 140.8L179.6 141.7L178.3 143.5z"/>
<path color="#b50927" d="M215.9 129.1L218.1 129.8L220.3 130.6L221.5 129.9L222.8 129.3L220.6 128.5L218.4 127.9L217.1 128.4z"/>
<path color="#f39577" d="M275.3 183.3L277.5 186.6L279.6 190L280.8 189.3L282 188.8L279.9 185.5L277.7 182.2L276.5 182.7z"/>
<path color="#f7ad90" d="M136.9 205.5L139 204.4L141.1 203.3L142.4 199.8L143.7 196.4L141.6 197.5L139.5 198.8L138.2 202.1z"/>
<path color="#e6d7cf" d="M119.9 244.1L122 243.2L124.1 242.3L125.4 238.4L126.7 234.6L124.6 235.6L122.5 236.6L121.2 240.4z"/>
<path color="#be242e" d="M231.5 133.8L233.7 135.3L235.9 136.9L237.1 136.4L238.4 136.1L236.2 134.5L234 133.1L232.8 133.4z"/>
<path color="#b70d28" d="M197.7 132.1L199.9 131.9L202.1 131.9L203.3 130.7L204.6 129.6L202.4 129.6L200.3 129.8L199 130.9z"/>
<path color="#f08a6c" d="M148.8 183.4L150.9 182.2L153.1 181.1L154.4 178L155.6 175L153.5 176.1L151.4 177.4L150.1 180.3z"/>
<path color="#c3d5f4" d="M309 266.6L311.1 271.4L313.3 275.5L314.4 275.1L315.6 274.7L313.4 270.2L311.3 264.7L310.2 265.7z"/>
<path color="#c12b30" d="M183.9 140.1L186.1 139.5L188.3 138.9L189.5 137.2L190.8 135.6L188.6 136.1L186.5 136.7L185.2 138.3z"/>
<path color="#bb1b2c" d="M190.8 135.6L193 135.2L195.2 134.9L196.4 133.4L197.7 132.1L195.5 132.4L193.4 132.8L192.1 134.1z"/>
<path color="#dedcdb" d="M117.4 251.8L119.5 250.9L121.6 250L122.9 246.1L124.1 242.3L122 243.2L119.9 244.1L118.7 247.9z"/>
<path color="#f08a6c" d="M270.9 176.8L273.1 180L275.3 183.3L276.5 182.7L277.7 182.2L275.5 178.9L273.3 175.7L272.1 176.2z"/>
<path color="#edd2c3" d="M296.5 229.5L298.7 233.3L300.8 237L302 236L303.2 235L301.1 231.2L298.9 227.5L297.7 228.5z"/>
<path color="#f7b79b" d="M285.9 205.5L288.1 209.1L290.2 212.7L291.4 211.9L292.6 211.1L290.5 207.5L288.3 203.9L287.1 204.7zM134.3 212.5L136.5 211.4L138.6 210.4L139.9 206.8L141.1 203.3L139 204.4L136.9 205.5L135.6 209z"/>
<path color="#d65244" d="M167.6 156.4L169.8 155.4L171.9 154.5L173.2 152.1L174.5 149.8L172.3 150.7L170.2 151.7L168.9 154z"/>
<path color="#e36c55" d="M158.2 169.2L160.3 168.1L162.5 167L163.8 164.2L165.1 161.5L162.9 162.6L160.8 163.7L159.5 166.4z"/>
<path color="#c12b30" d="M235.9 136.9L238.1 138.6L240.3 140.4L241.5 139.9L242.8 139.6L240.6 137.8L238.4 136.1L237.1 136.4z"/>
<path color="#d7dce3" d="M114.8 259.5L116.9 258.7L119 257.9L120.3 253.9L121.6 250L119.5 250.9L117.4 251.8L116.1 255.6z"/>
<path color="#6f92f3" d="M280.7 281.6L281.7 359.4L283.9 360.1L285.1 358.9L286.3 357.7L284.1 357.1L283.2 276.6L282 279.1z"/>
<path color="#ea7b60" d="M266.6 170.5L268.7 173.6L270.9 176.8L272.1 176.2L273.3 175.7L271.2 172.6L269 169.5L267.8 170z"/>
<path color="#dcdddd" d="M302.8 247L304.9 250.8L307.1 254.6L308.3 253.3L309.5 252.2L307.3 248.4L305.1 244.6L304 245.7z"/>
<path color="#f29274" d="M146.3 189.8L148.4 188.6L150.5 187.6L151.8 184.3L153.1 181.1L150.9 182.2L148.8 183.4L147.5 186.5z"/>
<path color="#b50927" d="M220.3 130.6L222.4 131.5L224.6 132.5L225.9 131.9L227.1 131.3L225 130.3L222.8 129.3L221.5 129.9z"/>
<path color="#b40426" d="M209 130L211.2 130.4L213.4 130.9L214.6 129.9L215.9 129.1L213.7 128.6L211.5 128.2L210.2 129z"/>
<path color="#f6bfa6" d="M131.8 219.7L133.9 218.7L136 217.7L137.3 214L138.6 210.4L136.5 211.4L134.3 212.5L133.1 216.1z"/>
<path color="#c73635" d="M240.3 140.4L242.5 142.3L244.7 144.4L245.9 143.9L247.1 143.6L245 141.5L242.8 139.6L241.5 139.9z"/>
<path color="#f7ac8e" d="M281.6 198.4L283.7 201.9L285.9 205.5L287.1 204.7L288.3 203.9L286.1 200.4L284 196.8L282.8 197.6z"/>
<path color="#e57058" d="M262.2 164.6L264.4 167.5L266.6 170.5L267.8 170L269 169.5L266.8 166.6L264.6 163.6L263.4 164.1z"/>
<path color="#f2cab5" d="M292.2 222.1L294.3 225.8L296.5 229.5L297.7 228.5L298.9 227.5L296.7 223.8L294.6 220.1L293.4 221z"/>
<path color="#cd423b" d="M174.5 149.8L176.6 149L178.8 148.3L180.1 146L181.4 143.9L179.2 144.6L177 145.5L175.8 147.6z"/>
<path color="#cc403a" d="M244.7 144.4L246.9 146.6L249.1 148.8L250.3 148.4L251.5 148L249.3 145.7L247.1 143.6L245.9 143.9z"/>
<path color="#df634e" d="M257.8 159L260 161.8L262.2 164.6L263.4 164.1L264.6 163.6L262.4 160.8L260.3 158.1L259 158.5z"/>
<path color="#d24b40" d="M249.1 148.8L251.3 151.2L253.4 153.7L254.7 153.2L255.9 152.8L253.7 150.4L251.5 148L250.3 148.4z"/>
<path color="#d85646" d="M253.4 153.7L255.6 156.3L257.8 159L259 158.5L260.3 158.1L258.1 155.4L255.9 152.8L254.7 153.2z"/>
<path color="#f3c7b1" d="M129.2 227.1L131.4 226.1L133.5 225.2L134.8 221.4L136 217.7L133.9 218.7L131.8 219.7L130.5 223.4z"/>
<path color="#e8765c" d="M155.6 175L157.8 173.9L159.9 172.9L161.2 169.9L162.5 167L160.3 168.1L158.2 169.2L156.9 172z"/>
<path color="#f59d7e" d="M143.7 196.4L145.8 195.3L148 194.3L149.2 190.9L150.5 187.6L148.4 188.6L146.3 189.8L145 193z"/>
<path color="#b50927" d="M202.1 131.9L204.3 132L206.4 132.3L207.7 131.1L209 130L206.8 129.7L204.6 129.6L203.3 130.7z"/>
<path color="#e5d8d1" d="M298.4 239.4L300.6 243.2L302.8 247L304 245.7L305.1 244.6L303 240.8L300.8 237L299.6 238.2z"/>
<path color="#f5a081" d="M277.2 191.5L279.4 194.9L281.6 198.4L282.8 197.6L284 196.8L281.8 193.4L279.6 190L278.4 190.7z"/>
<path color="#da5a49" d="M165.1 161.5L167.2 160.6L169.4 159.7L170.6 157.1L171.9 154.5L169.8 155.4L167.6 156.4L166.3 158.9z"/>
<path color="#d1dae9" d="M304.7 257.3L306.8 261.7L309 266.6L310.2 265.7L311.3 264.7L309.2 259.2L307.1 254.6L305.9 255.9z"/>
<path color="#b8122a" d="M224.6 132.5L226.8 133.7L229 135.1L230.3 134.4L231.5 133.8L229.3 132.5L227.1 131.3L225.9 131.9z"/>
<path color="#c53334" d="M181.4 143.9L183.5 143.3L185.7 142.8L187 140.8L188.3 138.9L186.1 139.5L183.9 140.1L182.6 141.9z"/>
<path color="#efcebd" d="M126.7 234.6L128.8 233.7L130.9 232.8L132.2 229L133.5 225.2L131.4 226.1L129.2 227.1L128 230.8z"/>
<path color="#f5c0a7" d="M287.8 214.7L290 218.4L292.2 222.1L293.4 221L294.6 220.1L292.4 216.4L290.2 212.7L289 213.7z"/>
<path color="#b8122a" d="M195.2 134.9L197.3 134.8L199.5 134.8L200.8 133.3L202.1 131.9L199.9 131.9L197.7 132.1L196.4 133.4z"/>
<path color="#be242e" d="M188.3 138.9L190.4 138.6L192.6 138.3L193.9 136.5L195.2 134.9L193 135.2L190.8 135.6L189.5 137.2z"/>
<path color="#85a8fc" d="M283.2 276.6L284.1 357.1L286.3 357.7L287.5 356.6L288.7 355.4L287.9 275.6L285.7 272L284.5 274.3z"/>
<path color="#b40426" d="M213.4 130.9L215.5 131.5L217.7 132.3L219 131.4L220.3 130.6L218.1 129.8L215.9 129.1L214.6 129.9z"/>
<path color="#ead4c8" d="M124.1 242.3L126.3 241.4L128.4 240.6L129.7 236.7L130.9 232.8L128.8 233.7L126.7 234.6L125.4 238.4z"/>
<path color="#f7a688" d="M141.1 203.3L143.3 202.3L145.4 201.3L146.7 197.8L148 194.3L145.8 195.3L143.7 196.4L142.4 199.8z"/>
<path color="#f39475" d="M272.9 184.8L275 188.1L277.2 191.5L278.4 190.7L279.6 190L277.5 186.6L275.3 183.3L274.1 184z"/>
<path color="#5b7ae5" d="M267.8 364.6L270 365.3L272.2 366L273.4 364.7L274.6 363.5L272.4 362.9L271.3 285.3L270.1 288.1z"/>
<path color="#ec8165" d="M153.1 181.1L155.2 180.1L157.4 179.2L158.6 176L159.9 172.9L157.8 173.9L155.6 175L154.4 178z"/>
<path color="#edd2c3" d="M294.1 231.9L296.3 235.6L298.4 239.4L299.6 238.2L300.8 237L298.7 233.3L296.5 229.5L295.3 230.7z"/>
<path color="#bb1b2c" d="M229 135.1L231.2 136.5L233.4 138.1L234.7 137.4L235.9 136.9L233.7 135.3L231.5 133.8L230.3 134.4z"/>
<path color="#e3d9d3" d="M121.6 250L123.7 249.2L125.8 248.5L127.1 244.5L128.4 240.6L126.3 241.4L124.1 242.3L122.9 246.1z"/>
<path color="#80a3fa" d="M135.9 357.7L138 358.4L140.1 359.1L140.1 284.8L141.4 280.1L139.2 279.5L137.1 279.1L137.2 356.5z"/>
<path color="#f7b79b" d="M283.5 207.5L285.7 211.1L287.8 214.7L289 213.7L290.2 212.7L288.1 209.1L285.9 205.5L284.7 206.5z"/>
<path color="#d1493f" d="M171.9 154.5L174.1 153.7L176.2 153L177.5 150.6L178.8 148.3L176.6 149L174.5 149.8L173.2 152.1z"/>
<path color="#ee8669" d="M268.5 178.2L270.7 181.5L272.9 184.8L274.1 184L275.3 183.3L273.1 180L270.9 176.8L269.7 177.5z"/>
<path color="#f7b093" d="M138.6 210.4L140.7 209.4L142.8 208.5L144.1 204.9L145.4 201.3L143.3 202.3L141.1 203.3L139.9 206.8z"/>
<path color="#e0654f" d="M162.5 167L164.6 166.1L166.8 165.3L168.1 162.4L169.4 159.7L167.2 160.6L165.1 161.5L163.8 164.2z"/>
<path color="#dbdcde" d="M119 257.9L121.2 257.1L123.3 256.5L124.6 252.5L125.8 248.5L123.7 249.2L121.6 250L120.3 253.9z"/>
<path color="#dcdddd" d="M300.4 249.7L302.5 253.4L304.7 257.3L305.9 255.9L307.1 254.6L304.9 250.8L302.8 247L301.6 248.3z"/>
<path color="#b40426" d="M206.4 132.3L208.6 132.7L210.8 133.2L212.1 132L213.4 130.9L211.2 130.4L209 130L207.7 131.1z"/>
<path color="#c0282f" d="M233.4 138.1L235.6 139.8L237.8 141.7L239.1 141L240.3 140.4L238.1 138.6L235.9 136.9L234.7 137.4z"/>
<path color="#d2dbe8" d="M116.5 265.8L118.6 265.1L120.7 264.5L122 260.5L123.3 256.5L121.2 257.1L119 257.9L117.8 261.8z"/>
<path color="#e97a5f" d="M264.1 172L266.3 175.1L268.5 178.2L269.7 177.5L270.9 176.8L268.7 173.6L266.6 170.5L265.3 171.2z"/>
<path color="#f08b6e" d="M150.5 187.6L152.7 186.6L154.8 185.7L156.1 182.4L157.4 179.2L155.2 180.1L153.1 181.1L151.8 184.3z"/>
<path color="#b50927" d="M217.7 132.3L219.9 133.3L222.1 134.3L223.4 133.4L224.6 132.5L222.4 131.5L220.3 130.6L219 131.4z"/>
<path color="#aac7fd" d="M295 270.8L297.2 274.5L297.8 352L299 350.8L301.8 274.6L299.6 270.8L297.4 267L296.2 268.9z"/>
<path color="#f7b99e" d="M136 217.7L138.2 216.8L140.3 216L141.6 212.2L142.8 208.5L140.7 209.4L138.6 210.4L137.3 214z"/>
<path color="#f2cab5" d="M289.8 224.5L291.9 228.2L294.1 231.9L295.3 230.7L296.5 229.5L294.3 225.8L292.2 222.1L291 223.2z"/>
<path color="#f7aa8c" d="M279.1 200.4L281.3 203.9L283.5 207.5L284.7 206.5L285.9 205.5L283.7 201.9L281.6 198.4L280.4 199.4z"/>
<path color="#c83836" d="M178.8 148.3L181 147.7L183.1 147.2L184.4 144.9L185.7 142.8L183.5 143.3L181.4 143.9L180.1 146z"/>
<path color="#c53334" d="M237.8 141.7L240 143.6L242.2 145.7L243.4 145L244.7 144.4L242.5 142.3L240.3 140.4L239.1 141z"/>
<path color="#e36c55" d="M259.7 166L261.9 169L264.1 172L265.3 171.2L266.6 170.5L264.4 167.5L262.2 164.6L261 165.3z"/>
<path color="#b50927" d="M199.5 134.8L201.7 134.9L203.9 135.2L205.2 133.7L206.4 132.3L204.3 132L202.1 131.9L200.8 133.3z"/>
<path color="#f5c2aa" d="M133.5 225.2L135.6 224.3L137.7 223.6L139 219.8L140.3 216L138.2 216.8L136 217.7L134.8 221.4z"/>
<path color="#e5d8d1" d="M296 242.1L298.2 245.9L300.4 249.7L301.6 248.3L302.8 247L300.6 243.2L298.4 239.4L297.2 240.7z"/>
<path color="#c12b30" d="M185.7 142.8L187.9 142.4L190.1 142.2L191.3 140.2L192.6 138.3L190.4 138.6L188.3 138.9L187 140.8z"/>
<path color="#de614d" d="M255.4 160.4L257.6 163.2L259.7 166L261 165.3L262.2 164.6L260 161.8L257.8 159L256.6 159.6z"/>
<path color="#cb3e38" d="M242.2 145.7L244.4 147.9L246.6 150.2L247.8 149.5L249.1 148.8L246.9 146.6L244.7 144.4L243.4 145z"/>
<path color="#e46e56" d="M159.9 172.9L162.1 172L164.2 171.3L165.5 168.2L166.8 165.3L164.6 166.1L162.5 167L161.2 169.9z"/>
<path color="#d1dae9" d="M302.3 260.2L304.4 264.4L306.6 268.7L307.8 267.6L309 266.6L306.8 261.7L304.7 257.3L303.5 258.7z"/>
<path color="#ba162b" d="M192.6 138.3L194.8 138.2L197 138.2L198.2 136.4L199.5 134.8L197.3 134.8L195.2 134.9L193.9 136.5z"/>
<path color="#d65244" d="M169.4 159.7L171.5 158.9L173.7 158.3L175 155.6L176.2 153L174.1 153.7L171.9 154.5L170.6 157.1z"/>
<path color="#f39577" d="M148 194.3L150.1 193.4L152.2 192.6L153.5 189.1L154.8 185.7L152.7 186.6L150.5 187.6L149.2 190.9z"/>
<path color="#d75445" d="M251 155.1L253.2 157.7L255.4 160.4L256.6 159.6L257.8 159L255.6 156.3L253.4 153.7L252.2 154.3z"/>
<path color="#d1493f" d="M246.6 150.2L248.8 152.6L251 155.1L252.2 154.3L253.4 153.7L251.3 151.2L249.1 148.8L247.8 149.5z"/>
<path color="#f59f80" d="M274.8 193.4L277 196.9L279.1 200.4L280.4 199.4L281.6 198.4L279.4 194.9L277.2 191.5L276 192.4z"/>
<path color="#f5c0a7" d="M285.4 217.1L287.6 220.8L289.8 224.5L291 223.2L292.2 222.1L290 218.4L287.8 214.7L286.6 215.9z"/>
<path color="#f2cab5" d="M130.9 232.8L133.1 232L135.2 231.3L136.5 227.4L137.7 223.6L135.6 224.3L133.5 225.2L132.2 229z"/>
<path color="#b70d28" d="M222.1 134.3L224.3 135.5L226.5 136.9L227.8 135.9L229 135.1L226.8 133.7L224.6 132.5L223.4 133.4z"/>
<path color="#4a63d3" d="M174.6 370.2L176.8 370.9L178.9 371.6L180.2 370.4L181.5 369.2L179.4 368.5L176.5 292.2L175.9 369z"/>
<path color="#4961d2" d="M256.1 370.4L258.3 371.1L260.5 371.8L261.7 370.6L262.9 369.4L260.7 368.7L259.3 296.6L257.3 369.2z"/>
<path color="#c0d4f5" d="M124.1 347.5L124.6 271.2L126.7 270.9L128 266.8L129.3 262.6L127.1 263L125 263.4L123.7 267.5z"/>
<path color="#b40426" d="M210.8 133.2L213 133.9L215.2 134.7L216.5 133.4L217.7 132.3L215.5 131.5L213.4 130.9L212.1 132z"/>
<path color="#edd1c2" d="M128.4 240.6L130.5 239.9L132.6 239.2L133.9 235.3L135.2 231.3L133.1 232L130.9 232.8L129.7 236.7z"/>
<path color="#f5a081" d="M145.4 201.3L147.5 200.5L149.7 199.7L151 196.1L152.2 192.6L150.1 193.4L148 194.3L146.7 197.8z"/>
<path color="#f29274" d="M270.4 186.7L272.6 190L274.8 193.4L276 192.4L277.2 191.5L275 188.1L272.9 184.8L271.6 185.7z"/>
<path color="#edd2c3" d="M291.7 234.6L293.9 238.3L296 242.1L297.2 240.7L298.4 239.4L296.3 235.6L294.1 231.9L292.9 233.2z"/>
<path color="#e97a5f" d="M157.4 179.2L159.5 178.3L161.7 177.6L162.9 174.4L164.2 171.3L162.1 172L159.9 172.9L158.6 176z"/>
<path color="#cd423b" d="M176.2 153L178.4 152.5L180.6 152L181.9 149.5L183.1 147.2L181 147.7L178.8 148.3L177.5 150.6z"/>
<path color="#e7d7ce" d="M125.8 248.5L128 247.8L130.1 247.2L131.4 243.2L132.6 239.2L130.5 239.9L128.4 240.6L127.1 244.5z"/>
<path color="#f7b79b" d="M281.1 209.9L283.2 213.5L285.4 217.1L286.6 215.9L287.8 214.7L285.7 211.1L283.5 207.5L282.3 208.6z"/>
<path color="#ba162b" d="M226.5 136.9L228.7 138.3L230.9 139.9L232.2 139L233.4 138.1L231.2 136.5L229 135.1L227.8 135.9z"/>
<path color="#dbdcde" d="M298 252.6L300.1 256.4L302.3 260.2L303.5 258.7L304.7 257.3L302.5 253.4L300.4 249.7L299.2 251.1z"/>
<path color="#dc5d4a" d="M166.8 165.3L168.9 164.6L171.1 163.9L172.4 161.1L173.7 158.3L171.5 158.9L169.4 159.7L168.1 162.4z"/>
<path color="#dedcdb" d="M123.3 256.5L125.4 255.8L127.5 255.3L128.8 251.2L130.1 247.2L128 247.8L125.8 248.5L124.6 252.5z"/>
<path color="#f7aa8c" d="M142.8 208.5L145 207.7L147.1 207L148.4 203.3L149.7 199.7L147.5 200.5L145.4 201.3L144.1 204.9z"/>
<path color="#aac7fd" d="M130 352.6L132.1 353.3L132.7 278.8L134 274.5L135.3 270.2L133.1 270.3L131 270.4L129.7 274.7z"/>
<path color="#b50927" d="M203.9 135.2L206.1 135.5L208.3 136.1L209.6 134.6L210.8 133.2L208.6 132.7L206.4 132.3L205.2 133.7z"/>
<path color="#ee8669" d="M266 180.2L268.2 183.4L270.4 186.7L271.6 185.7L272.9 184.8L270.7 181.5L268.5 178.2L267.3 179.1z"/>
<path color="#d6dce4" d="M120.7 264.5L122.9 263.9L125 263.4L126.3 259.4L127.5 255.3L125.4 255.8L123.3 256.5L122 260.5z"/>
<path color="#5977e3" d="M159 368.4L161.2 369.1L163.3 369.8L164.6 368.6L165.9 367.4L162.9 297L160.7 297L160.3 367.2z"/>
<path color="#c53334" d="M183.1 147.2L185.3 146.8L187.5 146.6L188.8 144.3L190.1 142.2L187.9 142.4L185.7 142.8L184.4 144.9z"/>
<path color="#f2cab5" d="M287.3 227.2L289.5 230.9L291.7 234.6L292.9 233.2L294.1 231.9L291.9 228.2L289.8 224.5L288.6 225.8z"/>
<path color="#b50927" d="M215.2 134.7L217.4 135.6L219.6 136.7L220.9 135.4L222.1 134.3L219.9 133.3L217.7 132.3L216.5 133.4z"/>
<path color="#ee8468" d="M154.8 185.7L156.9 184.9L159.1 184.2L160.4 180.9L161.7 177.6L159.5 178.3L157.4 179.2L156.1 182.4z"/>
<path color="#be242e" d="M230.9 139.9L233.1 141.6L235.3 143.5L236.6 142.5L237.8 141.7L235.6 139.8L233.4 138.1L232.2 139z"/>
<path color="#b8122a" d="M197 138.2L199.2 138.3L201.3 138.6L202.6 136.8L203.9 135.2L201.7 134.9L199.5 134.8L198.2 136.4z"/>
<path color="#f7b497" d="M140.3 216L142.4 215.2L144.6 214.5L145.8 210.7L147.1 207L145 207.7L142.8 208.5L141.6 212.2z"/>
<path color="#f7aa8c" d="M276.7 202.7L278.9 206.3L281.1 209.9L282.3 208.6L283.5 207.5L281.3 203.9L279.1 200.4L277.9 201.5z"/>
<path color="#e97a5f" d="M261.7 173.9L263.9 177L266 180.2L267.3 179.1L268.5 178.2L266.3 175.1L264.1 172L262.9 172.9z"/>
<path color="#be242e" d="M190.1 142.2L192.2 142.1L194.4 142.1L195.7 140.1L197 138.2L194.8 138.2L192.6 138.3L191.3 140.2z"/>
<path color="#e4d9d2" d="M293.6 245.1L295.8 248.9L298 252.6L299.2 251.1L300.4 249.7L298.2 245.9L296 242.1L294.8 243.6z"/>
<path color="#779af7" d="M141.8 362.9L143.9 363.6L146.1 364.3L146.3 298.8L147.6 294.4L145.4 293L143.2 291.6L143.1 361.7z"/>
<path color="#cfdaea" d="M299.9 263.5L302 267.4L304.2 271.3L305.4 269.9L306.6 268.7L304.4 264.4L302.3 260.2L301.1 261.8z"/>
<path color="#e36c55" d="M257.3 167.9L259.5 170.9L261.7 173.9L262.9 172.9L264.1 172L261.9 169L259.7 166L258.5 166.9z"/>
<path color="#c43032" d="M235.3 143.5L237.5 145.4L239.7 147.5L241 146.5L242.2 145.7L240 143.6L237.8 141.7L236.6 142.5z"/>
<path color="#f6bea4" d="M137.7 223.6L139.9 222.9L142 222.2L143.3 218.4L144.6 214.5L142.4 215.2L140.3 216L139 219.8z"/>
<path color="#d24b40" d="M173.7 158.3L175.8 157.7L178 157.3L179.3 154.6L180.6 152L178.4 152.5L176.2 153L175 155.6z"/>
<path color="#e16751" d="M164.2 171.3L166.4 170.6L168.5 170L169.8 166.9L171.1 163.9L168.9 164.6L166.8 165.3L165.5 168.2z"/>
<path color="#f18f71" d="M152.2 192.6L154.4 191.8L156.5 191.2L157.8 187.7L159.1 184.2L156.9 184.9L154.8 185.7L153.5 189.1z"/>
<path color="#dd5f4b" d="M252.9 162.2L255.1 165L257.3 167.9L258.5 166.9L259.7 166L257.6 163.2L255.4 160.4L254.1 161.2z"/>
<path color="#ca3b37" d="M239.7 147.5L241.9 149.7L244.1 152L245.4 151L246.6 150.2L244.4 147.9L242.2 145.7L241 146.5z"/>
<path color="#f5c1a9" d="M283 219.8L285.2 223.5L287.3 227.2L288.6 225.8L289.8 224.5L287.6 220.8L285.4 217.1L284.2 218.4z"/>
<path color="#f59f80" d="M272.3 195.8L274.5 199.2L276.7 202.7L277.9 201.5L279.1 200.4L277 196.9L274.8 193.4L273.6 194.6z"/>
<path color="#4a63d3" d="M201.5 372.4L203.7 373.1L205.9 373.8L207.2 372.6L208.4 371.3L206.2 370.6L203.9 292.4L202.8 371.2z"/>
<path color="#f3c7b1" d="M135.2 231.3L137.3 230.7L139.5 230.1L140.7 226.2L142 222.2L139.9 222.9L137.7 223.6L136.5 227.4z"/>
<path color="#d65244" d="M248.5 156.9L250.7 159.5L252.9 162.2L254.1 161.2L255.4 160.4L253.2 157.7L251 155.1L249.7 155.9z"/>
<path color="#d0473d" d="M244.1 152L246.3 154.4L248.5 156.9L249.7 155.9L251 155.1L248.8 152.6L246.6 150.2L245.4 151z"/>
<path color="#b70d28" d="M219.6 136.7L221.8 137.9L224 139.2L225.3 138L226.5 136.9L224.3 135.5L222.1 134.3L220.9 135.4z"/>
<path color="#b50927" d="M208.3 136.1L210.5 136.7L212.7 137.5L213.9 136L215.2 134.7L213 133.9L210.8 133.2L209.6 134.6z"/>
<path color="#ecd3c5" d="M289.3 237.6L291.4 241.4L293.6 245.1L294.8 243.6L296 242.1L293.9 238.3L291.7 234.6L290.5 236.1z"/>
<path color="#efcebd" d="M132.6 239.2L134.8 238.6L136.9 238.1L138.2 234.1L139.5 230.1L137.3 230.7L135.2 231.3L133.9 235.3z"/>
<path color="#ca3b37" d="M180.6 152L182.8 151.7L184.9 151.5L186.2 149L187.5 146.6L185.3 146.8L183.1 147.2L181.9 149.5z"/>
<path color="#f49a7b" d="M149.7 199.7L151.8 199L154 198.4L155.3 194.7L156.5 191.2L154.4 191.8L152.2 192.6L151 196.1z"/>
<path color="#f29274" d="M268 189L270.2 192.4L272.3 195.8L273.6 194.6L274.8 193.4L272.6 190L270.4 186.7L269.2 187.8z"/>
<path color="#dadce0" d="M295.5 255.9L297.7 259.7L299.9 263.5L301.1 261.8L302.3 260.2L300.1 256.4L298 252.6L296.7 254.2z"/>
<path color="#e67259" d="M161.7 177.6L163.8 176.9L166 176.4L167.3 173.2L168.5 170L166.4 170.6L164.2 171.3L162.9 174.4z"/>
<path color="#ead5c9" d="M130.1 247.2L132.2 246.7L134.4 246.2L135.6 242.1L136.9 238.1L134.8 238.6L132.6 239.2L131.4 243.2z"/>
<path color="#f7b79b" d="M278.6 212.6L280.8 216.2L283 219.8L284.2 218.4L285.4 217.1L283.2 213.5L281.1 209.9L279.8 211.2z"/>
<path color="#b70d28" d="M201.3 138.6L203.5 139L205.7 139.5L207 137.7L208.3 136.1L206.1 135.5L203.9 135.2L202.6 136.8z"/>
<path color="#82a6fb" d="M271.3 285.3L272.4 362.9L274.6 363.5L275.9 362.3L277.1 361.1L276 283.2L273.8 279.8L272.6 282.5z"/>
<path color="#d85646" d="M171.1 163.9L173.3 163.4L175.4 163L176.7 160.1L178 157.3L175.8 157.7L173.7 158.3L172.4 161.1z"/>
<path color="#e2dad5" d="M127.5 255.3L129.7 254.8L131.8 254.4L133.1 250.3L134.4 246.2L132.2 246.7L130.1 247.2L128.8 251.2z"/>
<path color="#c12b30" d="M187.5 146.6L189.7 146.5L191.9 146.5L193.1 144.2L194.4 142.1L192.2 142.1L190.1 142.2L188.8 144.3z"/>
<path color="#ba162b" d="M224 139.2L226.2 140.7L228.4 142.3L229.7 141L230.9 139.9L228.7 138.3L226.5 136.9L225.3 138z"/>
<path color="#bb1b2c" d="M194.4 142.1L196.6 142.2L198.8 142.5L200.1 140.5L201.3 138.6L199.2 138.3L197 138.2L195.7 140.1z"/>
<path color="#f6a586" d="M147.1 207L149.3 206.4L151.4 205.8L152.7 202.1L154 198.4L151.8 199L149.7 199.7L148.4 203.3z"/>
<path color="#d9dce1" d="M125 263.4L127.1 263L129.3 262.6L130.5 258.5L131.8 254.4L129.7 254.8L127.5 255.3L126.3 259.4z"/>
<path color="#ee8669" d="M263.6 182.5L265.8 185.7L268 189L269.2 187.8L270.4 186.7L268.2 183.4L266 180.2L264.8 181.3z"/>
<path color="#f2cbb7" d="M284.9 230.2L287.1 233.9L289.3 237.6L290.5 236.1L291.7 234.6L289.5 230.9L287.3 227.2L286.1 228.7z"/>
<path color="#b50927" d="M212.7 137.5L214.9 138.5L217.1 139.5L218.3 138L219.6 136.7L217.4 135.6L215.2 134.7L213.9 136z"/>
<path color="#eb7d62" d="M159.1 184.2L161.3 183.6L163.4 183.1L164.7 179.7L166 176.4L163.8 176.9L161.7 177.6L160.4 180.9z"/>
<path color="#f7ac8e" d="M274.3 205.5L276.4 209L278.6 212.6L279.8 211.2L281.1 209.9L278.9 206.3L276.7 202.7L275.5 204.1z"/>
<path color="#e3d9d3" d="M291.2 248.4L293.4 252.2L295.5 255.9L296.7 254.2L298 252.6L295.8 248.9L293.6 245.1L292.4 246.7z"/>
<path color="#f7b093" d="M144.6 214.5L146.7 213.9L148.9 213.4L150.1 209.6L151.4 205.8L149.3 206.4L147.1 207L145.8 210.7z"/>
<path color="#be242e" d="M228.4 142.3L230.6 144L232.8 145.8L234.1 144.6L235.3 143.5L233.1 141.6L230.9 139.9L229.7 141z"/>
<path color="#e97a5f" d="M259.2 176.2L261.4 179.3L263.6 182.5L264.8 181.3L266 180.2L263.9 177L261.7 173.9L260.4 175z"/>
<path color="#cedaeb" d="M297.4 267L299.6 270.8L301.8 274.6L303 272.9L304.2 271.3L302 267.4L299.9 263.5L298.7 265.2z"/>
<path color="#cf453c" d="M178 157.3L180.2 157L182.4 156.8L183.6 154.1L184.9 151.5L182.8 151.7L180.6 152L179.3 154.6z"/>
<path color="#4961d2" d="M228.5 374.5L230.7 375.2L232.9 375.9L234.2 374.7L235.4 373.5L233.2 372.8L231.3 300.5L229.8 373.3z"/>
<path color="#5d7ce6" d="M185.9 370.6L188.1 371.3L190.2 372L191.5 370.8L192.8 369.6L190.2 291.2L187.9 289.6L187.2 369.4z"/>
<path color="#de614d" d="M168.5 170L170.7 169.5L172.9 169.1L174.2 166L175.4 163L173.3 163.4L171.1 163.9L169.8 166.9z"/>
<path color="#f7b99e" d="M142 222.2L144.2 221.7L146.3 221.2L147.6 217.3L148.9 213.4L146.7 213.9L144.6 214.5L143.3 218.4z"/>
<path color="#e36c55" d="M254.8 170.2L257 173.2L259.2 176.2L260.4 175L261.7 173.9L259.5 170.9L257.3 167.9L256.1 169z"/>
<path color="#c43032" d="M232.8 145.8L235 147.8L237.2 149.9L238.5 148.6L239.7 147.5L237.5 145.4L235.3 143.5L234.1 144.6z"/>
<path color="#f5c2aa" d="M280.5 222.9L282.7 226.6L284.9 230.2L286.1 228.7L287.3 227.2L285.2 223.5L283 219.8L281.8 221.3z"/>
<path color="#b70d28" d="M205.7 139.5L207.9 140.1L210.1 140.9L211.4 139.2L212.7 137.5L210.5 136.7L208.3 136.1L207 137.7z"/>
<path color="#f08a6c" d="M156.5 191.2L158.7 190.6L160.9 190.1L162.1 186.6L163.4 183.1L161.3 183.6L159.1 184.2L157.8 187.7z"/>
<path color="#f5a081" d="M269.9 198.6L272.1 202L274.3 205.5L275.5 204.1L276.7 202.7L274.5 199.2L272.3 195.8L271.1 197.1z"/>
<path color="#dd5f4b" d="M250.4 164.6L252.6 167.4L254.8 170.2L256.1 169L257.3 167.9L255.1 165L252.9 162.2L251.7 163.3z"/>
<path color="#f5c2aa" d="M139.5 230.1L141.6 229.6L143.8 229.2L145 225.2L146.3 221.2L144.2 221.7L142 222.2L140.7 226.2z"/>
<path color="#ca3b37" d="M237.2 149.9L239.4 152L241.6 154.4L242.9 153.1L244.1 152L241.9 149.7L239.7 147.5L238.5 148.6z"/>
<path color="#6b8df0" d="M259.3 296.6L260.7 368.7L262.9 369.4L264.2 368.2L265.4 367L263.2 366.3L261.9 290.4L260.6 293.4z"/>
<path color="#b8122a" d="M217.1 139.5L219.3 140.7L221.5 142.1L222.7 140.6L224 139.2L221.8 137.9L219.6 136.7L218.3 138z"/>
<path color="#c73635" d="M184.9 151.5L187.1 151.4L189.3 151.4L190.6 148.9L191.9 146.5L189.7 146.5L187.5 146.6L186.2 149z"/>
<path color="#ead4c8" d="M286.8 241L289 244.7L291.2 248.4L292.4 246.7L293.6 245.1L291.4 241.4L289.3 237.6L288 239.3z"/>
<path color="#d65244" d="M246 159.3L248.2 161.9L250.4 164.6L251.7 163.3L252.9 162.2L250.7 159.5L248.5 156.9L247.3 158z"/>
<path color="#d0473d" d="M241.6 154.4L243.8 156.8L246 159.3L247.3 158L248.5 156.9L246.3 154.4L244.1 152L242.9 153.1z"/>
<path color="#f2cbb7" d="M136.9 238.1L139.1 237.6L141.2 237.3L142.5 233.2L143.8 229.2L141.6 229.6L139.5 230.1L138.2 234.1z"/>
<path color="#d8dce2" d="M293.1 259.5L295.3 263.3L297.4 267L298.7 265.2L299.9 263.5L297.7 259.7L295.5 255.9L294.3 257.7z"/>
<path color="#ba162b" d="M198.8 142.5L201 142.9L203.2 143.4L204.5 141.4L205.7 139.5L203.5 139L201.3 138.6L200.1 140.5z"/>
<path color="#c0282f" d="M191.9 146.5L194 146.7L196.2 146.9L197.5 144.6L198.8 142.5L196.6 142.2L194.4 142.1L193.1 144.2z"/>
<path color="#f39577" d="M154 198.4L156.1 197.8L158.3 197.4L159.6 193.7L160.9 190.1L158.7 190.6L156.5 191.2L155.3 194.7z"/>
<path color="#e36c55" d="M166 176.4L168.1 175.9L170.3 175.6L171.6 172.3L172.9 169.1L170.7 169.5L168.5 170L167.3 173.2z"/>
<path color="#f39475" d="M265.5 191.8L267.7 195.2L269.9 198.6L271.1 197.1L272.3 195.8L270.2 192.4L268 189L266.7 190.4z"/>
<path color="#ecd3c5" d="M134.4 246.2L136.5 245.8L138.6 245.4L139.9 241.3L141.2 237.3L139.1 237.6L136.9 238.1L135.6 242.1z"/>
<path color="#f7b89c" d="M276.2 215.7L278.4 219.3L280.5 222.9L281.8 221.3L283 219.8L280.8 216.2L278.6 212.6L277.4 214.1z"/>
<path color="#d55042" d="M175.4 163L177.6 162.7L179.8 162.6L181.1 159.6L182.4 156.8L180.2 157L178 157.3L176.7 160.1z"/>
<path color="#e5d8d1" d="M131.8 254.4L133.9 254L136.1 253.7L137.4 249.6L138.6 245.4L136.5 245.8L134.4 246.2L133.1 250.3z"/>
<path color="#bb1b2c" d="M221.5 142.1L223.7 143.5L225.9 145.1L227.1 143.6L228.4 142.3L226.2 140.7L224 139.2L222.7 140.6z"/>
<path color="#f1cdba" d="M282.5 233.6L284.6 237.3L286.8 241L288 239.3L289.3 237.6L287.1 233.9L284.9 230.2L283.7 231.9z"/>
<path color="#dcdddd" d="M129.3 262.6L131.4 262.3L133.5 262.1L134.8 257.9L136.1 253.7L133.9 254L131.8 254.4L130.5 258.5z"/>
<path color="#f5a081" d="M151.4 205.8L153.6 205.3L155.7 204.9L157 201.1L158.3 197.4L156.1 197.8L154 198.4L152.7 202.1z"/>
<path color="#b8122a" d="M210.1 140.9L212.3 141.9L214.5 142.9L215.8 141.2L217.1 139.5L214.9 138.5L212.7 137.5L211.4 139.2z"/>
<path color="#ee8669" d="M261.1 185.3L263.3 188.5L265.5 191.8L266.7 190.4L268 189L265.8 185.7L263.6 182.5L262.4 183.8z"/>
<path color="#d4dbe6" d="M126.7 270.9L128.8 270.6L131 270.4L132.3 266.2L133.5 262.1L131.4 262.3L129.3 262.6L128 266.8z"/>
<path color="#e1dad6" d="M288.7 252.1L290.9 255.8L293.1 259.5L294.3 257.7L295.5 255.9L293.4 252.2L291.2 248.4L290 250.2z"/>
<path color="#6e90f2" d="M170.3 368.8L172.4 369.5L174.6 370.2L175.9 369L176.5 292.2L174.3 291L172.1 289.9L171.6 367.6z"/>
<path color="#f7ad90" d="M271.8 208.6L274 212.1L276.2 215.7L277.4 214.1L278.6 212.6L276.4 209L274.3 205.5L273 207z"/>
<path color="#e9785d" d="M163.4 183.1L165.6 182.7L167.8 182.4L169 179L170.3 175.6L168.1 175.9L166 176.4L164.7 179.7z"/>
<path color="#779af7" d="M154.7 367L156.9 367.7L159 368.4L160.3 367.2L160.7 297L158.5 297.1L156.4 297.1L155.1 301.5z"/>
<path color="#cc403a" d="M182.4 156.8L184.5 156.7L186.7 156.8L188 154L189.3 151.4L187.1 151.4L184.9 151.5L183.6 154.1z"/>
<path color="#f7aa8c" d="M148.9 213.4L151 213L153.2 212.6L154.5 208.8L155.7 204.9L153.6 205.3L151.4 205.8L150.1 209.6z"/>
<path color="#c0282f" d="M225.9 145.1L228.1 146.8L230.3 148.7L231.6 147.2L232.8 145.8L230.6 144L228.4 142.3L227.1 143.6z"/>
<path color="#5b7ae5" d="M212.8 372.7L215 373.4L217.2 374.1L218.5 372.9L219.7 371.7L217.6 295.5L215.4 293.2L214.1 371.5z"/>
<path color="#e97a5f" d="M256.7 179L258.9 182.1L261.1 185.3L262.4 183.8L263.6 182.5L261.4 179.3L259.2 176.2L258 177.6z"/>
<path color="#da5a49" d="M172.9 169.1L175.1 168.9L177.2 168.7L178.5 165.6L179.8 162.6L177.6 162.7L175.4 163L174.2 166z"/>
<path color="#ba162b" d="M203.2 143.4L205.4 144.1L207.6 144.9L208.9 142.9L210.1 140.9L207.9 140.1L205.7 139.5L204.5 141.4z"/>
<path color="#81a4fb" d="M261.9 290.4L263.2 366.3L265.4 367L266.6 365.8L267.8 364.6L266.6 287.6L264.4 284.3L263.1 287.3z"/>
<path color="#5875e1" d="M246.7 373.9L248.9 374.6L251.1 375.3L252.4 374.1L253.6 372.8L251.4 372.1L249.8 303.4L248.5 306.8z"/>
<path color="#f5c4ac" d="M278.1 226.3L280.3 230L282.5 233.6L283.7 231.9L284.9 230.2L282.7 226.6L280.5 222.9L279.3 224.6z"/>
<path color="#f7b599" d="M146.3 221.2L148.5 220.8L150.6 220.5L151.9 216.6L153.2 212.6L151 213L148.9 213.4L147.6 217.3z"/>
<path color="#c53334" d="M189.3 151.4L191.5 151.6L193.7 151.9L195 149.3L196.2 146.9L194 146.7L191.9 146.5L190.6 148.9zM230.3 148.7L232.5 150.6L234.7 152.7L236 151.2L237.2 149.9L235 147.8L232.8 145.8L231.6 147.2z"/>
<path color="#be242e" d="M196.2 146.9L198.4 147.3L200.6 147.9L201.9 145.6L203.2 143.4L201 142.9L198.8 142.5L197.5 144.6z"/>
<path color="#e36c55" d="M252.3 173.1L254.5 176L256.7 179L258 177.6L259.2 176.2L257 173.2L254.8 170.2L253.6 171.6z"/>
<path color="#ee8468" d="M160.9 190.1L163 189.8L165.2 189.5L166.5 185.9L167.8 182.4L165.6 182.7L163.4 183.1L162.1 186.6z"/>
<path color="#f6a283" d="M267.4 201.7L269.6 205.2L271.8 208.6L273 207L274.3 205.5L272.1 202L269.9 198.6L268.7 200.1z"/>
<path color="#ead5c9" d="M284.4 244.7L286.5 248.4L288.7 252.1L290 250.2L291.2 248.4L289 244.7L286.8 241L285.6 242.8z"/>
<path color="#ba162b" d="M214.5 142.9L216.7 144.1L218.9 145.5L220.2 143.7L221.5 142.1L219.3 140.7L217.1 139.5L215.8 141.2z"/>
<path color="#c0d4f5" d="M285.7 272L287.9 275.6L288.7 355.4L291.3 277L292.6 274.9L290.4 271.2L288.2 267.5L286.9 269.7z"/>
<path color="#f6bfa6" d="M143.8 229.2L145.9 228.8L148.1 228.6L149.3 224.5L150.6 220.5L148.5 220.8L146.3 221.2L145 225.2z"/>
<path color="#d6dce4" d="M290.6 263.4L292.8 267.1L295 270.8L296.2 268.9L297.4 267L295.3 263.3L293.1 259.5L291.9 261.4z"/>
<path color="#de614d" d="M247.9 167.4L250.1 170.2L252.3 173.1L253.6 171.6L254.8 170.2L252.6 167.4L250.4 164.6L249.2 165.9z"/>
<path color="#cb3e38" d="M234.7 152.7L236.9 154.9L239.1 157.2L240.4 155.7L241.6 154.4L239.4 152L237.2 149.9L236 151.2z"/>
<path color="#d75445" d="M243.5 162.1L245.7 164.7L247.9 167.4L249.2 165.9L250.4 164.6L248.2 161.9L246 159.3L244.8 160.6z"/>
<path color="#d1493f" d="M239.1 157.2L241.3 159.6L243.5 162.1L244.8 160.6L246 159.3L243.8 156.8L241.6 154.4L240.4 155.7z"/>
<path color="#f2c9b4" d="M141.2 237.3L143.4 237L145.5 236.7L146.8 232.6L148.1 228.6L145.9 228.8L143.8 229.2L142.5 233.2z"/>
<path color="#d24b40" d="M179.8 162.6L182 162.5L184.2 162.6L185.5 159.6L186.7 156.8L184.5 156.7L182.4 156.8L181.1 159.6z"/>
<path color="#e16751" d="M170.3 175.6L172.5 175.4L174.7 175.3L176 171.9L177.2 168.7L175.1 168.9L172.9 169.1L171.6 172.3z"/>
<path color="#f7ba9f" d="M273.7 219.2L275.9 222.7L278.1 226.3L279.3 224.6L280.5 222.9L278.4 219.3L276.2 215.7L274.9 217.4z"/>
<path color="#f29072" d="M158.3 197.4L160.5 197.1L162.6 196.8L163.9 193.1L165.2 189.5L163 189.8L160.9 190.1L159.6 193.7z"/>
<path color="#eed0c0" d="M138.6 245.4L140.8 245.2L143 245L144.2 240.9L145.5 236.7L143.4 237L141.2 237.3L139.9 241.3z"/>
<path color="#f39577" d="M263 195L265.2 198.3L267.4 201.7L268.7 200.1L269.9 198.6L267.7 195.2L265.5 191.8L264.3 193.4z"/>
<path color="#5875e1" d="M239.8 374.9L242 375.6L244.2 376.3L245.5 375.1L246.7 373.9L245 307.3L242.8 304.4L241.1 373.7z"/>
<path color="#e7d7ce" d="M136.1 253.7L138.2 253.5L140.4 253.3L141.7 249.2L143 245L140.8 245.2L138.6 245.4L137.4 249.6z"/>
<path color="#be242e" d="M218.9 145.5L221.1 146.9L223.4 148.5L224.6 146.8L225.9 145.1L223.7 143.5L221.5 142.1L220.2 143.7z"/>
<path color="#bb1b2c" d="M207.6 144.9L209.8 145.8L212 146.9L213.3 144.8L214.5 142.9L212.3 141.9L210.1 140.9L208.9 142.9z"/>
<path color="#efcebd" d="M280 237.4L282.2 241L284.4 244.7L285.6 242.8L286.8 241L284.6 237.3L282.5 233.6L281.2 235.4z"/>
<path color="#dfdbd9" d="M133.5 262.1L135.7 261.9L137.8 261.8L139.1 257.5L140.4 253.3L138.2 253.5L136.1 253.7L134.8 257.9zM286.3 256L288.5 259.7L290.6 263.4L291.9 261.4L293.1 259.5L290.9 255.8L288.7 252.1L287.5 254z"/>
<path color="#f59c7d" d="M155.7 204.9L157.9 204.6L160.1 204.4L161.3 200.6L162.6 196.8L160.5 197.1L158.3 197.4L157 201.1z"/>
<path color="#cb3e38" d="M186.7 156.8L188.9 157L191.1 157.2L192.4 154.5L193.7 151.9L191.5 151.6L189.3 151.4L188 154z"/>
<path color="#d6dce4" d="M131 270.4L133.1 270.3L135.3 270.2L136.6 266L137.8 261.8L135.7 261.9L133.5 262.1L132.3 266.2z"/>
<path color="#f08a6c" d="M258.6 188.5L260.8 191.7L263 195L264.3 193.4L265.5 191.8L263.3 188.5L261.1 185.3L259.9 186.9z"/>
<path color="#f7b093" d="M269.3 212.1L271.5 215.6L273.7 219.2L274.9 217.4L276.2 215.7L274 212.1L271.8 208.6L270.6 210.3z"/>
<path color="#be242e" d="M200.6 147.9L202.8 148.5L205 149.3L206.3 147.1L207.6 144.9L205.4 144.1L203.2 143.4L201.9 145.6z"/>
<path color="#e7745b" d="M167.8 182.4L169.9 182.2L172.1 182.1L173.4 178.6L174.7 175.3L172.5 175.4L170.3 175.6L169 179z"/>
<path color="#80a3fa" d="M165.9 367.4L168.1 368.1L170.3 368.8L171.6 367.6L172.1 289.9L169.9 288.9L167.7 288.1L166.4 292.8z"/>
<path color="#c43032" d="M193.7 151.9L195.9 152.3L198.1 152.8L199.3 150.3L200.6 147.9L198.4 147.3L196.2 146.9L195 149.3z"/>
<path color="#c12b30" d="M223.4 148.5L225.6 150.2L227.8 152.1L229 150.3L230.3 148.7L228.1 146.8L225.9 145.1L224.6 146.8z"/>
<path color="#f7a889" d="M153.2 212.6L155.3 212.4L157.5 212.2L158.8 208.3L160.1 204.4L157.9 204.6L155.7 204.9L154.5 208.8z"/>
<path color="#d85646" d="M177.2 168.7L179.4 168.7L181.6 168.8L182.9 165.6L184.2 162.6L182 162.5L179.8 162.6L178.5 165.6z"/>
<path color="#ea7b60" d="M254.2 182.3L256.4 185.4L258.6 188.5L259.9 186.9L261.1 185.3L258.9 182.1L256.7 179L255.5 180.6z"/>
<path color="#f4c6af" d="M275.6 230.1L277.8 233.7L280 237.4L281.2 235.4L282.5 233.6L280.3 230L278.1 226.3L276.9 228.2z"/>
<path color="#6f92f3" d="M197.1 371L199.3 371.7L201.5 372.4L202.8 371.2L203.9 292.4L201.6 290.4L199.4 288.4L198.4 369.8z"/>
<path color="#f7b396" d="M150.6 220.5L152.8 220.3L154.9 220.2L156.2 216.2L157.5 212.2L155.3 212.4L153.2 212.6L151.9 216.6z"/>
<path color="#e7d7ce" d="M281.9 248.7L284.1 252.3L286.3 256L287.5 254L288.7 252.1L286.5 248.4L284.4 244.7L283.1 246.6z"/>
<path color="#be242e" d="M212 146.9L214.2 148.1L216.4 149.4L217.7 147.4L218.9 145.5L216.7 144.1L214.5 142.9L213.3 144.8z"/>
<path color="#abc8fd" d="M273.8 279.8L276 283.2L277.1 361.1L278.3 359.9L280.7 281.6L278.5 278L276.4 274.5L275.1 277.1z"/>
<path color="#d4dbe6" d="M288.2 267.5L290.4 271.2L292.6 274.9L293.8 272.8L295 270.8L292.8 267.1L290.6 263.4L289.4 265.4z"/>
<path color="#c73635" d="M227.8 152.1L230 154L232.2 156.1L233.4 154.3L234.7 152.7L232.5 150.6L230.3 148.7L229 150.3z"/>
<path color="#f6a586" d="M264.9 205.3L267.1 208.7L269.3 212.1L270.6 210.3L271.8 208.6L269.6 205.2L267.4 201.7L266.2 203.5z"/>
<path color="#ec7f63" d="M165.2 189.5L167.4 189.3L169.5 189.2L170.8 185.6L172.1 182.1L169.9 182.2L167.8 182.4L166.5 185.9z"/>
<path color="#e57058" d="M249.8 176.3L252 179.3L254.2 182.3L255.5 180.6L256.7 179L254.5 176L252.3 173.1L251.1 174.6z"/>
<path color="#f6bda2" d="M148.1 228.6L150.2 228.4L152.4 228.3L153.7 224.2L154.9 220.2L152.8 220.3L150.6 220.5L149.3 224.5z"/>
<path color="#cc403a" d="M232.2 156.1L234.4 158.3L236.6 160.5L237.9 158.8L239.1 157.2L236.9 154.9L234.7 152.7L233.4 154.3z"/>
<path color="#df634e" d="M245.4 170.7L247.6 173.5L249.8 176.3L251.1 174.6L252.3 173.1L250.1 170.2L247.9 167.4L246.7 169z"/>
<path color="#d1493f" d="M184.2 162.6L186.4 162.8L188.6 163.1L189.8 160.1L191.1 157.2L188.9 157L186.7 156.8L185.5 159.6z"/>
<path color="#f4c6af" d="M145.5 236.7L147.7 236.6L149.8 236.5L151.1 232.4L152.4 228.3L150.2 228.4L148.1 228.6L146.8 232.6z"/>
<path color="#d24b40" d="M236.6 160.5L238.8 162.9L241 165.4L242.3 163.7L243.5 162.1L241.3 159.6L239.1 157.2L237.9 158.8z"/>
<path color="#d85646" d="M241 165.4L243.2 168L245.4 170.7L246.7 169L247.9 167.4L245.7 164.7L243.5 162.1L242.3 163.7z"/>
<path color="#df634e" d="M174.7 175.3L176.9 175.2L179 175.3L180.3 172L181.6 168.8L179.4 168.7L177.2 168.7L176 171.9z"/>
<path color="#f6bda2" d="M271.2 223L273.4 226.6L275.6 230.1L276.9 228.2L278.1 226.3L275.9 222.7L273.7 219.2L272.5 221z"/>
<path color="#c0282f" d="M205 149.3L207.2 150.3L209.4 151.3L210.7 149L212 146.9L209.8 145.8L207.6 144.9L206.3 147.1z"/>
<path color="#f08b6e" d="M162.6 196.8L164.8 196.7L167 196.7L168.3 192.9L169.5 189.2L167.4 189.3L165.2 189.5L163.9 193.1z"/>
<path color="#f4987a" d="M260.5 198.6L262.7 201.9L264.9 205.3L266.2 203.5L267.4 201.7L265.2 198.3L263 195L261.8 196.8z"/>
<path color="#efcebd" d="M143 245L145.1 244.9L147.3 244.8L148.6 240.7L149.8 236.5L147.7 236.6L145.5 236.7L144.2 240.9z"/>
<path color="#eed0c0" d="M277.5 241.4L279.7 245L281.9 248.7L283.1 246.6L284.4 244.7L282.2 241L280 237.4L278.8 239.3z"/>
<path color="#c12b30" d="M216.4 149.4L218.6 150.9L220.8 152.4L222.1 150.4L223.4 148.5L221.1 146.9L218.9 145.5L217.7 147.4z"/>
<path color="#ca3b37" d="M191.1 157.2L193.3 157.7L195.5 158.2L196.8 155.5L198.1 152.8L195.9 152.3L193.7 151.9L192.4 154.5z"/>
<path color="#dcdddd" d="M283.8 260.2L286 263.9L288.2 267.5L289.4 265.4L290.6 263.4L288.5 259.7L286.3 256L285 258.1z"/>
<path color="#ead5c9" d="M140.4 253.3L142.6 253.3L144.7 253.3L146 249L147.3 244.8L145.1 244.9L143 245L141.7 249.2z"/>
<path color="#c43032" d="M198.1 152.8L200.3 153.5L202.5 154.3L203.8 151.8L205 149.3L202.8 148.5L200.6 147.9L199.3 150.3z"/>
<path color="#b5cdfa" d="M140.1 359.1L141 290.3L143.2 291.6L144.5 286.9L145.8 281.6L143.6 280.8L141.4 280.1L140.1 284.8z"/>
<path color="#e1dad6" d="M137.8 261.8L140 261.7L142.2 261.7L143.4 257.5L144.7 253.3L142.6 253.3L140.4 253.3L139.1 257.5z"/>
<path color="#f4987a" d="M160.1 204.4L162.2 204.3L164.4 204.3L165.7 200.5L167 196.7L164.8 196.7L162.6 196.8L161.3 200.6z"/>
<path color="#d8dce2" d="M135.3 270.2L137.5 270.2L139.6 270.3L140.9 266L142.2 261.7L140 261.7L137.8 261.8L136.6 266z"/>
<path color="#6b8df0" d="M224.1 373.1L226.3 373.8L228.5 374.5L229.8 373.3L231.3 300.5L229.1 297.9L226.9 295.3L225.4 371.9z"/>
<path color="#f08b6e" d="M256.1 192.2L258.3 195.4L260.5 198.6L261.8 196.8L263 195L260.8 191.7L258.6 188.5L257.4 190.3z"/>
<path color="#cedaeb" d="M132.7 278.8L134.9 278.9L137.1 279.1L138.3 274.7L139.6 270.3L137.5 270.2L135.3 270.2L134 274.5z"/>
<path color="#f7b396" d="M266.8 216L269 219.5L271.2 223L272.5 221L273.7 219.2L271.5 215.6L269.3 212.1L268.1 214z"/>
<path color="#e57058" d="M172.1 182.1L174.3 182.1L176.5 182.2L177.8 178.7L179 175.3L176.9 175.2L174.7 175.3L173.4 178.6z"/>
<path color="#d75445" d="M181.6 168.8L183.8 169L186 169.3L187.3 166.1L188.6 163.1L186.4 162.8L184.2 162.6L182.9 165.6z"/>
<path color="#c53334" d="M220.8 152.4L223 154.1L225.2 156L226.5 153.9L227.8 152.1L225.6 150.2L223.4 148.5L222.1 150.4z"/>
<path color="#f6a586" d="M157.5 212.2L159.7 212.1L161.9 212.1L163.1 208.2L164.4 204.3L162.2 204.3L160.1 204.4L158.8 208.3z"/>
<path color="#f2c9b4" d="M273.1 234.2L275.3 237.8L277.5 241.4L278.8 239.3L280 237.4L277.8 233.7L275.6 230.1L274.4 232.1z"/>
<path color="#c12b30" d="M209.4 151.3L211.6 152.5L213.9 153.8L215.1 151.6L216.4 149.4L214.2 148.1L212 146.9L210.7 149z"/>
<path color="#ec7f63" d="M251.7 186L253.9 189L256.1 192.2L257.4 190.3L258.6 188.5L256.4 185.4L254.2 182.3L253 184.1z"/>
<path color="#e5d8d1" d="M279.4 253L281.6 256.6L283.8 260.2L285 258.1L286.3 256L284.1 252.3L281.9 248.7L280.7 250.8z"/>
<path color="#84a7fc" d="M181.5 369.2L183.7 369.9L185.9 370.6L187.2 369.4L187.9 289.6L185.7 288L183.5 286.4L182.2 290.7z"/>
<path color="#f7b093" d="M154.9 220.2L157.1 220.1L159.3 220.2L160.6 216.1L161.9 212.1L159.7 212.1L157.5 212.2L156.2 216.2z"/>
<path color="#ca3b37" d="M225.2 156L227.4 157.9L229.7 159.9L230.9 158L232.2 156.1L230 154L227.8 152.1L226.5 153.9z"/>
<path color="#f7a889" d="M262.4 209.2L264.6 212.6L266.8 216L268.1 214L269.3 212.1L267.1 208.7L264.9 205.3L263.7 207.2z"/>
<path color="#d0473d" d="M188.6 163.1L190.7 163.5L192.9 164L194.2 161.1L195.5 158.2L193.3 157.7L191.1 157.2L189.8 160.1z"/>
<path color="#ea7b60" d="M169.5 189.2L171.7 189.3L173.9 189.4L175.2 185.8L176.5 182.2L174.3 182.1L172.1 182.1L170.8 185.6z"/>
<path color="#e7745b" d="M247.3 180.1L249.5 183L251.7 186L253 184.1L254.2 182.3L252 179.3L249.8 176.3L248.6 178.1z"/>
<path color="#c53334" d="M202.5 154.3L204.7 155.2L206.9 156.3L208.2 153.7L209.4 151.3L207.2 150.3L205 149.3L203.8 151.8z"/>
<path color="#f7ba9f" d="M152.4 228.3L154.6 228.3L156.7 228.3L158 224.2L159.3 220.2L157.1 220.1L154.9 220.2L153.7 224.2z"/>
<path color="#ca3b37" d="M195.5 158.2L197.7 158.9L199.9 159.7L201.2 156.9L202.5 154.3L200.3 153.5L198.1 152.8L196.8 155.5z"/>
<path color="#cf453c" d="M229.7 159.9L231.9 162.1L234.1 164.4L235.3 162.4L236.6 160.5L234.4 158.3L232.2 156.1L230.9 158z"/>
<path color="#de614d" d="M179 175.3L181.2 175.6L183.4 175.9L184.7 172.5L186 169.3L183.8 169L181.6 168.8L180.3 172z"/>
<path color="#e16751" d="M242.9 174.5L245.1 177.2L247.3 180.1L248.6 178.1L249.8 176.3L247.6 173.5L245.4 170.7L244.2 172.5z"/>
<path color="#f6bfa6" d="M268.7 227.2L270.9 230.7L273.1 234.2L274.4 232.1L275.6 230.1L273.4 226.6L271.2 223L270 225.1z"/>
<path color="#7a9df8" d="M249.8 303.4L251.4 372.1L253.6 372.8L254.8 371.6L256.1 370.4L254.6 299.8L252.4 296.8L251.1 300.1z"/>
<path color="#f5c4ac" d="M149.8 236.5L152 236.5L154.2 236.6L155.5 232.5L156.7 228.3L154.6 228.3L152.4 228.3L151.1 232.4z"/>
<path color="#d55042" d="M234.1 164.4L236.3 166.8L238.5 169.2L239.8 167.3L241 165.4L238.8 162.9L236.6 160.5L235.3 162.4z"/>
<path color="#da5a49" d="M238.5 169.2L240.7 171.8L242.9 174.5L244.2 172.5L245.4 170.7L243.2 168L241 165.4L239.8 167.3z"/>
<path color="#c53334" d="M213.9 153.8L216.1 155.3L218.3 156.8L219.5 154.6L220.8 152.4L218.6 150.9L216.4 149.4L215.1 151.6z"/>
<path color="#ecd3c5" d="M275 245.8L277.2 249.4L279.4 253L280.7 250.8L281.9 248.7L279.7 245L277.5 241.4L276.3 243.6z"/>
<path color="#85a8fc" d="M192.8 369.6L195 370.3L197.1 371L198.4 369.8L199.4 288.4L197.2 286.5L195 284.7L193.7 288.8z"/>
<path color="#f08a6c" d="M167 196.7L169.2 196.7L171.3 196.9L172.6 193.1L173.9 189.4L171.7 189.3L169.5 189.2L168.3 192.9z"/>
<path color="#f59c7d" d="M258 202.6L260.2 205.9L262.4 209.2L263.7 207.2L264.9 205.3L262.7 201.9L260.5 198.6L259.3 200.6z"/>
<path color="#d9dce1" d="M281.3 264.7L283.5 268.3L285.7 272L286.9 269.7L288.2 267.5L286 263.9L283.8 260.2L282.6 262.4z"/>
<path color="#f1cdba" d="M147.3 244.8L149.4 244.9L151.6 245L152.9 240.8L154.2 236.6L152 236.5L149.8 236.5L148.6 240.7z"/>
<path color="#ead4c8" d="M144.7 253.3L146.9 253.3L149.1 253.5L150.3 249.2L151.6 245L149.4 244.9L147.3 244.8L146 249z"/>
<path color="#e3d9d3" d="M142.2 261.7L144.3 261.8L146.5 262L147.8 257.7L149.1 253.5L146.9 253.3L144.7 253.3L143.4 257.5z"/>
<path color="#d65244" d="M186 169.3L188.2 169.7L190.4 170.3L191.7 167.1L192.9 164L190.7 163.5L188.6 163.1L187.3 166.1z"/>
<path color="#cfdaea" d="M137.1 279.1L139.2 279.5L141.4 280.1L142.7 275.3L143.9 270.6L141.8 270.4L139.6 270.3L138.3 274.7z"/>
<path color="#f39577" d="M164.4 204.3L166.6 204.4L168.8 204.6L170.1 200.7L171.3 196.9L169.2 196.7L167 196.7L165.7 200.5z"/>
<path color="#dadce0" d="M139.6 270.3L141.8 270.4L143.9 270.6L145.2 266.3L146.5 262L144.3 261.8L142.2 261.7L140.9 266z"/>
<path color="#f7b599" d="M264.4 220.3L266.6 223.7L268.7 227.2L270 225.1L271.2 223L269 219.5L266.8 216L265.6 218.1z"/>
<path color="#e36c55" d="M176.5 182.2L178.7 182.5L180.9 182.8L182.1 179.3L183.4 175.9L181.2 175.6L179 175.3L177.8 178.7z"/>
<path color="#f29072" d="M253.6 196.2L255.8 199.4L258 202.6L259.3 200.6L260.5 198.6L258.3 195.4L256.1 192.2L254.9 194.1z"/>
<path color="#c73635" d="M206.9 156.3L209.1 157.4L211.3 158.7L212.6 156.2L213.9 153.8L211.6 152.5L209.4 151.3L208.2 153.7z"/>
<path color="#c83836" d="M218.3 156.8L220.5 158.5L222.7 160.3L224 158.1L225.2 156L223 154.1L220.8 152.4L219.5 154.6z"/>
<path color="#f2cbb7" d="M270.7 238.7L272.8 242.2L275 245.8L276.3 243.6L277.5 241.4L275.3 237.8L273.1 234.2L271.9 236.4z"/>
<path color="#e2dad5" d="M276.9 257.5L279.1 261.1L281.3 264.7L282.6 262.4L283.8 260.2L281.6 256.6L279.4 253L278.2 255.2z"/>
<path color="#d0473d" d="M192.9 164L195.1 164.7L197.3 165.5L198.6 162.5L199.9 159.7L197.7 158.9L195.5 158.2L194.2 161.1z"/>
<path color="#f6a283" d="M161.9 212.1L164 212.3L166.2 212.5L167.5 208.5L168.8 204.6L166.6 204.4L164.4 204.3L163.1 208.2z"/>
<path color="#cb3e38" d="M199.9 159.7L202.1 160.6L204.3 161.7L205.6 158.9L206.9 156.3L204.7 155.2L202.5 154.3L201.2 156.9z"/>
<path color="#ee8468" d="M249.2 190.1L251.4 193.1L253.6 196.2L254.9 194.1L256.1 192.2L253.9 189L251.7 186L250.5 188z"/>
<path color="#cd423b" d="M222.7 160.3L224.9 162.3L227.1 164.3L228.4 162.1L229.7 159.9L227.4 157.9L225.2 156L224 158.1z"/>
<path color="#f7aa8c" d="M259.9 213.6L262.2 216.9L264.4 220.3L265.6 218.1L266.8 216L264.6 212.6L262.4 209.2L261.2 211.3z"/>
<path color="#e97a5f" d="M173.9 189.4L176.1 189.7L178.3 190L179.6 186.4L180.9 182.8L178.7 182.5L176.5 182.2L175.2 185.8z"/>
<path color="#f7ad90" d="M159.3 220.2L161.5 220.3L163.7 220.5L164.9 216.5L166.2 212.5L164 212.3L161.9 212.1L160.6 216.1z"/>
<path color="#82a6fb" d="M208.4 371.3L210.6 372L212.8 372.7L214.1 371.5L215.4 293.2L213.1 290.9L210.9 288.6L209.6 292.6z"/>
<path color="#e9785d" d="M244.8 184.2L247 187.1L249.2 190.1L250.5 188L251.7 186L249.5 183L247.3 180.1L246.1 182.1z"/>
<path color="#dd5f4b" d="M183.4 175.9L185.6 176.3L187.8 176.9L189.1 173.5L190.4 170.3L188.2 169.7L186 169.3L184.7 172.5z"/>
<path color="#81a4fb" d="M219.7 371.7L221.9 372.4L224.1 373.1L225.4 371.9L226.9 295.3L224.6 292.7L222.4 290.2L221.1 294.1z"/>
<path color="#d24b40" d="M227.1 164.3L229.3 166.4L231.5 168.7L232.8 166.5L234.1 164.4L231.9 162.1L229.7 159.9L228.4 162.1z"/>
<path color="#f7b89c" d="M156.7 228.3L158.9 228.5L161.1 228.7L162.4 224.6L163.7 220.5L161.5 220.3L159.3 220.2L158 224.2z"/>
<path color="#ca3b37" d="M211.3 158.7L213.5 160.2L215.7 161.7L217 159.2L218.3 156.8L216.1 155.3L213.9 153.8L212.6 156.2z"/>
<path color="#f5c2aa" d="M266.3 231.7L268.5 235.2L270.7 238.7L271.9 236.4L273.1 234.2L270.9 230.7L268.7 227.2L267.5 229.4z"/>
<path color="#e36c55" d="M240.4 178.7L242.6 181.4L244.8 184.2L246.1 182.1L247.3 180.1L245.1 177.2L242.9 174.5L241.7 176.5z"/>
<path color="#ead5c9" d="M272.6 250.4L274.7 254L276.9 257.5L278.2 255.2L279.4 253L277.2 249.4L275 245.8L273.8 248.1z"/>
<path color="#d6dce4" d="M278.8 269.5L281 273.1L283.2 276.6L284.5 274.3L285.7 272L283.5 268.3L281.3 264.7L280.1 267.1z"/>
<path color="#d85646" d="M231.5 168.7L233.8 171L236 173.5L237.2 171.3L238.5 169.2L236.3 166.8L234.1 164.4L232.8 166.5z"/>
<path color="#de614d" d="M236 173.5L238.2 176L240.4 178.7L241.7 176.5L242.9 174.5L240.7 171.8L238.5 169.2L237.2 171.3z"/>
<path color="#f5c2aa" d="M154.2 236.6L156.4 236.8L158.5 237.1L159.8 232.9L161.1 228.7L158.9 228.5L156.7 228.3L155.5 232.5z"/>
<path color="#ee8669" d="M171.3 196.9L173.5 197.1L175.7 197.5L177 193.7L178.3 190L176.1 189.7L173.9 189.4L172.6 193.1z"/>
<path color="#f5a081" d="M255.5 207L257.7 210.3L259.9 213.6L261.2 211.3L262.4 209.2L260.2 205.9L258 202.6L256.8 204.8z"/>
<path color="#f2cbb7" d="M151.6 245L153.8 245.2L156 245.5L157.3 241.3L158.5 237.1L156.4 236.8L154.2 236.6L152.9 240.8z"/>
<path color="#d65244" d="M190.4 170.3L192.6 171L194.8 171.8L196.1 168.6L197.3 165.5L195.1 164.7L192.9 164L191.7 167.1z"/>
<path color="#7a9df8" d="M235.4 373.5L237.6 374.2L239.8 374.9L241.1 373.7L242.8 304.4L240.6 301.6L238.3 298.7L237.1 302.3z"/>
<path color="#cc403a" d="M204.3 161.7L206.5 162.8L208.7 164.1L210 161.4L211.3 158.7L209.1 157.4L206.9 156.3L205.6 158.9z"/>
<path color="#ecd3c5" d="M149.1 253.5L151.2 253.7L153.4 254L154.7 249.7L156 245.5L153.8 245.2L151.6 245L150.3 249.2z"/>
<path color="#d1dae9" d="M141.4 280.1L143.6 280.8L145.8 281.6L147 276.2L148.3 271.2L146.1 270.9L143.9 270.6L142.7 275.3z"/>
<path color="#d1493f" d="M197.3 165.5L199.6 166.4L201.8 167.5L203 164.5L204.3 161.7L202.1 160.6L199.9 159.7L198.6 162.5z"/>
<path color="#e36c55" d="M180.9 182.8L183 183.3L185.2 183.8L186.5 180.3L187.8 176.9L185.6 176.3L183.4 175.9L182.1 179.3z"/>
<path color="#e4d9d2" d="M146.5 262L148.7 262.3L150.9 262.6L152.1 258.3L153.4 254L151.2 253.7L149.1 253.5L147.8 257.7z"/>
<path color="#f7b99e" d="M261.8 224.9L264.1 228.3L266.3 231.7L267.5 229.4L268.7 227.2L266.6 223.7L264.4 220.3L263.1 222.6z"/>
<path color="#cd423b" d="M215.7 161.7L217.9 163.4L220.1 165.2L221.4 162.7L222.7 160.3L220.5 158.5L218.3 156.8L217 159.2z"/>
<path color="#f39475" d="M168.8 204.6L171 204.8L173.2 205.2L174.4 201.3L175.7 197.5L173.5 197.1L171.3 196.9L170.1 200.7z"/>
<path color="#dbdcde" d="M143.9 270.6L146.1 270.9L148.3 271.2L149.6 266.9L150.9 262.6L148.7 262.3L146.5 262L145.2 266.3z"/>
<path color="#f39577" d="M251.1 200.7L253.3 203.8L255.5 207L256.8 204.8L258 202.6L255.8 199.4L253.6 196.2L252.4 198.4z"/>
<path color="#efcebd" d="M268.2 243.4L270.4 246.9L272.6 250.4L273.8 248.1L275 245.8L272.8 242.2L270.7 238.7L269.4 241z"/>
<path color="#dedcdb" d="M274.5 262.4L276.6 265.9L278.8 269.5L280.1 267.1L281.3 264.7L279.1 261.1L276.9 257.5L275.7 259.9z"/>
<path color="#f5a081" d="M166.2 212.5L168.4 212.7L170.6 213.1L171.9 209.2L173.2 205.2L171 204.8L168.8 204.6L167.5 208.5z"/>
<path color="#f08a6c" d="M246.7 194.6L248.9 197.6L251.1 200.7L252.4 198.4L253.6 196.2L251.4 193.1L249.2 190.1L248 192.3z"/>
<path color="#d1493f" d="M220.1 165.2L222.4 167.1L224.6 169.1L225.8 166.6L227.1 164.3L224.9 162.3L222.7 160.3L221.4 162.7z"/>
<path color="#e97a5f" d="M178.3 190L180.5 190.5L182.7 191L184 187.4L185.2 183.8L183 183.3L180.9 182.8L179.6 186.4z"/>
<path color="#dd5f4b" d="M187.8 176.9L190 177.6L192.2 178.4L193.5 175L194.8 171.8L192.6 171L190.4 170.3L189.1 173.5z"/>
<path color="#f7b093" d="M257.4 218.2L259.6 221.5L261.8 224.9L263.1 222.6L264.4 220.3L262.2 216.9L259.9 213.6L258.7 215.8z"/>
<path color="#c3d5f4" d="M143.2 291.6L145.4 293L147.6 294.4L148.9 289.4L150.1 283.3L148 282.5L145.8 281.6L144.5 286.9z"/>
<path color="#cf453c" d="M208.7 164.1L211 165.5L213.2 167.1L214.4 164.3L215.7 161.7L213.5 160.2L211.3 158.7L210 161.4z"/>
<path color="#f7ac8e" d="M163.7 220.5L165.8 220.8L168 221.2L169.3 217.2L170.6 213.1L168.4 212.7L166.2 212.5L164.9 216.5z"/>
<path color="#eb7d62" d="M242.3 188.8L244.5 191.7L246.7 194.6L248 192.3L249.2 190.1L247 187.1L244.8 184.2L243.6 186.5z"/>
<path color="#d65244" d="M224.6 169.1L226.8 171.2L229 173.5L230.3 171L231.5 168.7L229.3 166.4L227.1 164.3L225.8 166.6z"/>
<path color="#f3c7b1" d="M263.7 236.6L266 240L268.2 243.4L269.4 241L270.7 238.7L268.5 235.2L266.3 231.7L265 234.1z"/>
<path color="#d2dbe8" d="M276.4 274.5L278.5 278L280.7 281.6L282 279.1L283.2 276.6L281 273.1L278.8 269.5L277.6 272z"/>
<path color="#d75445" d="M194.8 171.8L197 172.7L199.2 173.7L200.5 170.5L201.8 167.5L199.6 166.4L197.3 165.5L196.1 168.6z"/>
<path color="#e7d7ce" d="M270.1 255.4L272.3 258.9L274.5 262.4L275.7 259.9L276.9 257.5L274.7 254L272.6 250.4L271.3 252.9z"/>
<path color="#d24b40" d="M201.8 167.5L204 168.6L206.2 169.9L207.5 167L208.7 164.1L206.5 162.8L204.3 161.7L203 164.5z"/>
<path color="#f7b79b" d="M161.1 228.7L163.3 229.1L165.5 229.5L166.7 225.3L168 221.2L165.8 220.8L163.7 220.5L162.4 224.6z"/>
<path color="#e67259" d="M237.9 183.3L240.1 186L242.3 188.8L243.6 186.5L244.8 184.2L242.6 181.4L240.4 178.7L239.1 181z"/>
<path color="#dc5d4a" d="M229 173.5L231.2 175.8L233.4 178.2L234.7 175.8L236 173.5L233.8 171L231.5 168.7L230.3 171z"/>
<path color="#e16751" d="M233.4 178.2L235.6 180.7L237.9 183.3L239.1 181L240.4 178.7L238.2 176L236 173.5L234.7 175.8z"/>
<path color="#ee8669" d="M175.7 197.5L177.9 198L180.1 198.5L181.4 194.8L182.7 191L180.5 190.5L178.3 190L177 193.7z"/>
<path color="#f6a586" d="M253 211.8L255.2 215L257.4 218.2L258.7 215.8L259.9 213.6L257.7 210.3L255.5 207L254.3 209.3z"/>
<path color="#f5c1a9" d="M158.5 237.1L160.7 237.4L162.9 237.8L164.2 233.6L165.5 229.5L163.3 229.1L161.1 228.7L159.8 232.9z"/>
<path color="#f2cab5" d="M156 245.5L158.2 245.9L160.3 246.3L161.6 242.1L162.9 237.8L160.7 237.4L158.5 237.1L157.3 241.3z"/>
<path color="#e36c55" d="M185.2 183.8L187.4 184.5L189.7 185.3L190.9 181.8L192.2 178.4L190 177.6L187.8 176.9L186.5 180.3z"/>
<path color="#d24b40" d="M213.2 167.1L215.4 168.7L217.6 170.5L218.9 167.8L220.1 165.2L217.9 163.4L215.7 161.7L214.4 164.3z"/>
<path color="#d1dae9" d="M145.8 281.6L148 282.5L150.1 283.3L151.4 277.3L152.7 272.1L150.5 271.6L148.3 271.2L147 276.2z"/>
<path color="#edd2c3" d="M153.4 254L155.6 254.4L157.8 254.8L159.1 250.6L160.3 246.3L158.2 245.9L156 245.5L154.7 249.7z"/>
<path color="#f6bea4" d="M259.3 229.8L261.5 233.2L263.7 236.6L265 234.1L266.3 231.7L264.1 228.3L261.8 224.9L260.6 227.3z"/>
<path color="#f29274" d="M173.2 205.2L175.3 205.7L177.5 206.3L178.8 202.4L180.1 198.5L177.9 198L175.7 197.5L174.4 201.3z"/>
<path color="#e5d8d1" d="M150.9 262.6L153 263L155.2 263.4L156.5 259.1L157.8 254.8L155.6 254.4L153.4 254L152.1 258.3z"/>
<path color="#f49a7b" d="M248.6 205.5L250.8 208.6L253 211.8L254.3 209.3L255.5 207L253.3 203.8L251.1 200.7L249.9 203.1z"/>
<path color="#edd1c2" d="M265.6 248.5L267.8 251.9L270.1 255.4L271.3 252.9L272.6 250.4L270.4 246.9L268.2 243.4L266.9 245.9z"/>
<path color="#dbdcde" d="M271.9 267.5L274.2 271L276.4 274.5L277.6 272L278.8 269.5L276.6 265.9L274.5 262.4L273.2 264.9z"/>
<path color="#dcdddd" d="M148.3 271.2L150.5 271.6L152.7 272.1L153.9 267.8L155.2 263.4L153 263L150.9 262.6L149.6 266.9z"/>
<path color="#c1d4f4" d="M147.6 294.4L149.8 295.6L152 296.5L153.3 291.2L154.5 284.9L152.3 284.2L150.1 283.3L148.9 289.4z"/>
<path color="#de614d" d="M192.2 178.4L194.4 179.3L196.6 180.3L197.9 176.9L199.2 173.7L197 172.7L194.8 171.8L193.5 175z"/>
<path color="#d55042" d="M206.2 169.9L208.4 171.3L210.6 172.8L211.9 169.9L213.2 167.1L211 165.5L208.7 164.1L207.5 167z"/>
<path color="#d65244" d="M217.6 170.5L219.8 172.4L222 174.4L223.3 171.7L224.6 169.1L222.4 167.1L220.1 165.2L218.9 167.8z"/>
<path color="#f59f80" d="M170.6 213.1L172.8 213.6L175 214.2L176.3 210.2L177.5 206.3L175.3 205.7L173.2 205.2L171.9 209.2z"/>
<path color="#e97a5f" d="M182.7 191L184.9 191.7L187.1 192.5L188.4 188.9L189.7 185.3L187.4 184.5L185.2 183.8L184 187.4z"/>
<path color="#d85646" d="M199.2 173.7L201.4 174.8L203.6 176.1L204.9 173L206.2 169.9L204 168.6L201.8 167.5L200.5 170.5z"/>
<path color="#f18f71" d="M244.2 199.5L246.4 202.5L248.6 205.5L249.9 203.1L251.1 200.7L248.9 197.6L246.7 194.6L245.4 197z"/>
<path color="#bcd2f7" d="M264.4 284.3L266.6 287.6L267.8 364.6L270.1 288.1L271.3 285.3L269.1 281.9L266.9 278.5L265.7 281.4z"/>
<path color="#f7b497" d="M254.9 223.3L257.1 226.5L259.3 229.8L260.6 227.3L261.8 224.9L259.6 221.5L257.4 218.2L256.2 220.7z"/>
<path color="#da5a49" d="M222 174.4L224.2 176.5L226.5 178.7L227.7 176L229 173.5L226.8 171.2L224.6 169.1L223.3 171.7z"/>
<path color="#f7aa8c" d="M168 221.2L170.2 221.7L172.4 222.3L173.7 218.3L175 214.2L172.8 213.6L170.6 213.1L169.3 217.2z"/>
<path color="#ee8468" d="M239.8 193.8L242 196.6L244.2 199.5L245.4 197L246.7 194.6L244.5 191.7L242.3 188.8L241 191.3z"/>
<path color="#f2cab5" d="M261.2 241.7L263.4 245.1L265.6 248.5L266.9 245.9L268.2 243.4L266 240L263.7 236.6L262.5 239.1z"/>
<path color="#e3d9d3" d="M267.5 260.6L269.7 264.1L271.9 267.5L273.2 264.9L274.5 262.4L272.3 258.9L270.1 255.4L268.8 258z"/>
<path color="#e0654f" d="M226.5 178.7L228.7 180.9L230.9 183.3L232.2 180.7L233.4 178.2L231.2 175.8L229 173.5L227.7 176z"/>
<path color="#e97a5f" d="M235.3 188.4L237.5 191.1L239.8 193.8L241 191.3L242.3 188.8L240.1 186L237.9 183.3L236.6 185.8z"/>
<path color="#f7b79b" d="M165.5 229.5L167.7 230L169.8 230.6L171.1 226.4L172.4 222.3L170.2 221.7L168 221.2L166.7 225.3z"/>
<path color="#e46e56" d="M230.9 183.3L233.1 185.8L235.3 188.4L236.6 185.8L237.9 183.3L235.6 180.7L233.4 178.2L232.2 180.7z"/>
<path color="#ee8669" d="M180.1 198.5L182.3 199.2L184.5 200L185.8 196.2L187.1 192.5L184.9 191.7L182.7 191L181.4 194.8z"/>
<path color="#d85646" d="M210.6 172.8L212.8 174.5L215 176.2L216.3 173.3L217.6 170.5L215.4 168.7L213.2 167.1L211.9 169.9z"/>
<path color="#e36c55" d="M189.7 185.3L191.9 186.2L194.1 187.2L195.3 183.7L196.6 180.3L194.4 179.3L192.2 178.4L190.9 181.8z"/>
<path color="#f7aa8c" d="M250.5 216.9L252.7 220L254.9 223.3L256.2 220.7L257.4 218.2L255.2 215L253 211.8L251.8 214.3z"/>
<path color="#a2c1ff" d="M252.4 296.8L254.6 299.8L256.1 370.4L257.3 369.2L259.3 296.6L257.1 293.4L254.9 290.3L253.6 293.5z"/>
<path color="#f5c0a7" d="M162.9 237.8L165.1 238.4L167.3 239L168.6 234.8L169.8 230.6L167.7 230L165.5 229.5L164.2 233.6z"/>
<path color="#d1dae9" d="M150.1 283.3L152.3 284.2L154.5 284.9L155.8 278.5L157 273.3L154.8 272.6L152.7 272.1L151.4 277.3z"/>
<path color="#f2cab5" d="M160.3 246.3L162.5 246.8L164.7 247.4L166 243.2L167.3 239L165.1 238.4L162.9 237.8L161.6 242.1z"/>
<path color="#da5a49" d="M203.6 176.1L205.8 177.5L208 179L209.3 175.9L210.6 172.8L208.4 171.3L206.2 169.9L204.9 173z"/>
<path color="#df634e" d="M196.6 180.3L198.8 181.4L201.1 182.7L202.3 179.4L203.6 176.1L201.4 174.8L199.2 173.7L197.9 176.9z"/>
<path color="#f5c2aa" d="M256.8 235.1L259 238.4L261.2 241.7L262.5 239.1L263.7 236.6L261.5 233.2L259.3 229.8L258.1 232.4z"/>
<path color="#f29274" d="M177.5 206.3L179.7 207L181.9 207.8L183.2 203.9L184.5 200L182.3 199.2L180.1 198.5L178.8 202.4z"/>
<path color="#edd2c3" d="M157.8 254.8L160 255.4L162.2 256L163.4 251.7L164.7 247.4L162.5 246.8L160.3 246.3L159.1 250.6z"/>
<path color="#d7dce3" d="M269.4 272.9L271.6 276.3L273.8 279.8L275.1 277.1L276.4 274.5L274.2 271L271.9 267.5L270.7 270.2z"/>
<path color="#ead4c8" d="M263.1 253.8L265.3 257.2L267.5 260.6L268.8 258L270.1 255.4L267.8 251.9L265.6 248.5L264.4 251.1z"/>
<path color="#f5a081" d="M246.1 210.7L248.3 213.8L250.5 216.9L251.8 214.3L253 211.8L250.8 208.6L248.6 205.5L247.3 208.1z"/>
<path color="#dc5d4a" d="M215 176.2L217.3 178.1L219.5 180L220.8 177.1L222 174.4L219.8 172.4L217.6 170.5L216.3 173.3z"/>
<path color="#e5d8d1" d="M155.2 263.4L157.4 264L159.6 264.6L160.9 260.3L162.2 256L160 255.4L157.8 254.8L156.5 259.1z"/>
<path color="#c1d4f4" d="M152 296.5L154.2 297L156.4 297.1L157.6 292.1L158.9 286L156.7 285.5L154.5 284.9L153.3 291.2z"/>
<path color="#aac7fd" d="M176.5 292.2L179.4 368.5L181.5 369.2L182.2 290.7L183.5 286.4L181.3 284.9L179.1 283.5L177.8 287.9z"/>
<path color="#dcdddd" d="M152.7 272.1L154.8 272.6L157 273.3L158.3 268.9L159.6 264.6L157.4 264L155.2 263.4L153.9 267.8z"/>
<path color="#e97a5f" d="M187.1 192.5L189.3 193.4L191.5 194.4L192.8 190.8L194.1 187.2L191.9 186.2L189.7 185.3L188.4 188.9z"/>
<path color="#b5cdfa" d="M160.7 297L162.9 297L165.9 367.4L166.4 292.8L167.7 288.1L165.5 287.5L163.3 286.9L162 292.3z"/>
<path color="#f59f80" d="M175 214.2L177.2 214.9L179.4 215.7L180.7 211.7L181.9 207.8L179.7 207L177.5 206.3L176.3 210.2z"/>
<path color="#f39577" d="M241.7 204.8L243.9 207.7L246.1 210.7L247.3 208.1L248.6 205.5L246.4 202.5L244.2 199.5L242.9 202.1z"/>
<path color="#f7b99e" d="M252.4 228.6L254.6 231.8L256.8 235.1L258.1 232.4L259.3 229.8L257.1 226.5L254.9 223.3L253.7 225.9z"/>
<path color="#e0654f" d="M219.5 180L221.7 182.1L223.9 184.3L225.2 181.4L226.5 178.7L224.2 176.5L222 174.4L220.8 177.1z"/>
<path color="#de614d" d="M208 179L210.3 180.6L212.5 182.3L213.8 179.2L215 176.2L212.8 174.5L210.6 172.8L209.3 175.9z"/>
<path color="#efcebd" d="M258.7 247.2L260.9 250.5L263.1 253.8L264.4 251.1L265.6 248.5L263.4 245.1L261.2 241.7L260 244.4z"/>
<path color="#f08b6e" d="M237.2 199.2L239.4 202L241.7 204.8L242.9 202.1L244.2 199.5L242 196.6L239.8 193.8L238.5 196.4z"/>
<path color="#e57058" d="M194.1 187.2L196.3 188.3L198.5 189.6L199.8 186.1L201.1 182.7L198.8 181.4L196.6 180.3L195.3 183.7z"/>
<path color="#f7aa8c" d="M172.4 222.3L174.6 223L176.8 223.8L178.1 219.7L179.4 215.7L177.2 214.9L175 214.2L173.7 218.3z"/>
<path color="#dedcdb" d="M265 266.1L267.2 269.5L269.4 272.9L270.7 270.2L271.9 267.5L269.7 264.1L267.5 260.6L266.3 263.3z"/>
<path color="#e36c55" d="M223.9 184.3L226.1 186.5L228.3 188.9L229.6 186.1L230.9 183.3L228.7 180.9L226.5 178.7L225.2 181.4z"/>
<path color="#ee8669" d="M184.5 200L186.7 200.9L188.9 201.9L190.2 198.1L191.5 194.4L189.3 193.4L187.1 192.5L185.8 196.2z"/>
<path color="#ec8165" d="M232.8 193.9L235 196.5L237.2 199.2L238.5 196.4L239.8 193.8L237.5 191.1L235.3 188.4L234.1 191.1z"/>
<path color="#e16751" d="M201.1 182.7L203.3 184L205.5 185.5L206.8 182.2L208 179L205.8 177.5L203.6 176.1L202.3 179.4z"/>
<path color="#e8765c" d="M228.3 188.9L230.6 191.3L232.8 193.9L234.1 191.1L235.3 188.4L233.1 185.8L230.9 183.3L229.6 186.1z"/>
<path color="#f7b79b" d="M169.8 230.6L172 231.3L174.2 232.1L175.5 227.9L176.8 223.8L174.6 223L172.4 222.3L171.1 226.4z"/>
<path color="#f7b093" d="M248 222.3L250.2 225.4L252.4 228.6L253.7 225.9L254.9 223.3L252.7 220L250.5 216.9L249.2 219.6z"/>
<path color="#f5c0a7" d="M167.3 239L169.5 239.7L171.7 240.4L173 236.2L174.2 232.1L172 231.3L169.8 230.6L168.6 234.8z"/>
<path color="#e16751" d="M212.5 182.3L214.7 184.1L216.9 186.1L218.2 183L219.5 180L217.3 178.1L215 176.2L213.8 179.2z"/>
<path color="#f3c7b1" d="M254.3 240.6L256.5 243.9L258.7 247.2L260 244.4L261.2 241.7L259 238.4L256.8 235.1L255.6 237.8z"/>
<path color="#d1dae9" d="M154.5 284.9L156.7 285.5L158.9 286L160.1 279.9L161.4 274.7L159.2 274L157 273.3L155.8 278.5z"/>
<path color="#f39475" d="M181.9 207.8L184.2 208.6L186.4 209.6L187.6 205.7L188.9 201.9L186.7 200.9L184.5 200L183.2 203.9z"/>
<path color="#f2cab5" d="M164.7 247.4L166.9 248.1L169.1 248.9L170.4 244.7L171.7 240.4L169.5 239.7L167.3 239L166 243.2z"/>
<path color="#d2dbe8" d="M266.9 278.5L269.1 281.9L271.3 285.3L272.6 282.5L273.8 279.8L271.6 276.3L269.4 272.9L268.2 275.7z"/>
<path color="#e6d7cf" d="M260.6 259.4L262.8 262.7L265 266.1L266.3 263.3L267.5 260.6L265.3 257.2L263.1 253.8L261.9 256.6z"/>
<path color="#ea7b60" d="M191.5 194.4L193.7 195.5L195.9 196.8L197.2 193.1L198.5 189.6L196.3 188.3L194.1 187.2L192.8 190.8z"/>
<path color="#f7a688" d="M243.5 216.3L245.8 219.3L248 222.3L249.2 219.6L250.5 216.9L248.3 213.8L246.1 210.7L244.8 213.5z"/>
<path color="#edd2c3" d="M162.2 256L164.4 256.7L166.6 257.5L167.8 253.2L169.1 248.9L166.9 248.1L164.7 247.4L163.4 251.7z"/>
<path color="#e5d8d1" d="M159.6 264.6L161.8 265.3L164 266.1L165.3 261.8L166.6 257.5L164.4 256.7L162.2 256L160.9 260.3z"/>
<path color="#e36c55" d="M205.5 185.5L207.7 187.1L209.9 188.8L211.2 185.5L212.5 182.3L210.3 180.6L208 179L206.8 182.2z"/>
<path color="#e7745b" d="M198.5 189.6L200.7 190.9L202.9 192.4L204.2 188.9L205.5 185.5L203.3 184L201.1 182.7L199.8 186.1z"/>
<path color="#e46e56" d="M216.9 186.1L219.1 188.1L221.4 190.2L222.6 187.2L223.9 184.3L221.7 182.1L219.5 180L218.2 183z"/>
<path color="#dcdddd" d="M157 273.3L159.2 274L161.4 274.7L162.7 270.4L164 266.1L161.8 265.3L159.6 264.6L158.3 268.9z"/>
<path color="#f5a081" d="M179.4 215.7L181.6 216.6L183.8 217.5L185.1 213.6L186.4 209.6L184.2 208.6L181.9 207.8L180.7 211.7z"/>
<path color="#f59d7e" d="M239.1 210.5L241.3 213.3L243.5 216.3L244.8 213.5L246.1 210.7L243.9 207.7L241.7 204.8L240.4 207.6z"/>
<path color="#f6bfa6" d="M249.9 234.3L252.1 237.4L254.3 240.6L255.6 237.8L256.8 235.1L254.6 231.8L252.4 228.6L251.1 231.4z"/>
<path color="#e8765c" d="M221.4 190.2L223.6 192.5L225.8 194.8L227.1 191.8L228.3 188.9L226.1 186.5L223.9 184.3L222.6 187.2z"/>
<path color="#c3d5f4" d="M156.4 297.1L158.5 297.1L160.7 297L162 292.3L163.3 286.9L161.1 286.5L158.9 286L157.6 292.1z"/>
<path color="#f29274" d="M234.7 204.9L236.9 207.7L239.1 210.5L240.4 207.6L241.7 204.8L239.4 202L237.2 199.2L235.9 202z"/>
<path color="#edd2c3" d="M256.2 252.9L258.4 256.1L260.6 259.4L261.9 256.6L263.1 253.8L260.9 250.5L258.7 247.2L257.5 250z"/>
<path color="#f08a6c" d="M188.9 201.9L191.1 203L193.4 204.2L194.6 200.4L195.9 196.8L193.7 195.5L191.5 194.4L190.2 198.1z"/>
<path color="#dadce0" d="M262.5 271.8L264.7 275.2L266.9 278.5L268.2 275.7L269.4 272.9L267.2 269.5L265 266.1L263.8 268.9z"/>
<path color="#f7ac8e" d="M176.8 223.8L179 224.7L181.2 225.6L182.5 221.6L183.8 217.5L181.6 216.6L179.4 215.7L178.1 219.7z"/>
<path color="#ec7f63" d="M225.8 194.8L228 197.2L230.2 199.7L231.5 196.7L232.8 193.9L230.6 191.3L228.3 188.9L227.1 191.8z"/>
<path color="#f08a6c" d="M230.2 199.7L232.5 202.3L234.7 204.9L235.9 202L237.2 199.2L235 196.5L232.8 193.9L231.5 196.7z"/>
<path color="#e67259" d="M209.9 188.8L212.1 190.6L214.4 192.5L215.6 189.2L216.9 186.1L214.7 184.1L212.5 182.3L211.2 185.5z"/>
<path color="#f7b79b" d="M245.4 228.1L247.7 231.1L249.9 234.3L251.1 231.4L252.4 228.6L250.2 225.4L248 222.3L246.7 225.2zM174.2 232.1L176.5 232.9L178.7 233.9L179.9 229.7L181.2 225.6L179 224.7L176.8 223.8L175.5 227.9z"/>
<path color="#ec7f63" d="M195.9 196.8L198.1 198.1L200.4 199.5L201.6 195.9L202.9 192.4L200.7 190.9L198.5 189.6L197.2 193.1z"/>
<path color="#e9785d" d="M202.9 192.4L205.1 193.9L207.4 195.6L208.6 192.1L209.9 188.8L207.7 187.1L205.5 185.5L204.2 188.9z"/>
<path color="#f39577" d="M186.4 209.6L188.6 210.7L190.8 211.9L192.1 208L193.4 204.2L191.1 203L188.9 201.9L187.6 205.7z"/>
<path color="#f1ccb8" d="M251.8 246.4L254 249.6L256.2 252.9L257.5 250L258.7 247.2L256.5 243.9L254.3 240.6L253 243.5z"/>
<path color="#f5c1a9" d="M171.7 240.4L173.9 241.3L176.1 242.2L177.4 238.1L178.7 233.9L176.5 232.9L174.2 232.1L173 236.2z"/>
<path color="#e1dad6" d="M258.1 265.3L260.3 268.5L262.5 271.8L263.8 268.9L265 266.1L262.8 262.7L260.6 259.4L259.3 262.3z"/>
<path color="#f7ad90" d="M241 222.1L243.2 225.1L245.4 228.1L246.7 225.2L248 222.3L245.8 219.3L243.5 216.3L242.3 219.2z"/>
<path color="#e97a5f" d="M214.4 192.5L216.6 194.5L218.8 196.6L220.1 193.4L221.4 190.2L219.1 188.1L216.9 186.1L215.6 189.2z"/>
<path color="#f2cab5" d="M169.1 248.9L171.3 249.8L173.5 250.7L174.8 246.5L176.1 242.2L173.9 241.3L171.7 240.4L170.4 244.7z"/>
<path color="#abc8fd" d="M203.9 292.4L206.2 370.6L208.4 371.3L209.6 292.6L210.9 288.6L208.7 286.4L206.5 284.3L205.2 288.3z"/>
<path color="#d1dae9" d="M158.9 286L161.1 286.5L163.3 286.9L164.5 281.5L165.8 276.5L163.6 275.6L161.4 274.7L160.1 279.9z"/>
<path color="#edd2c3" d="M166.6 257.5L168.8 258.3L171 259.3L172.2 255L173.5 250.7L171.3 249.8L169.1 248.9L167.8 253.2z"/>
<path color="#f6a283" d="M183.8 217.5L186 218.6L188.2 219.8L189.5 215.8L190.8 211.9L188.6 210.7L186.4 209.6L185.1 213.6z"/>
<path color="#a2c1ff" d="M231.3 300.5L233.2 372.8L235.4 373.5L237.1 302.3L238.3 298.7L236.1 296L233.9 293.2L232.6 296.9z"/>
<path color="#f6a586" d="M236.6 216.4L238.8 219.2L241 222.1L242.3 219.2L243.5 216.3L241.3 213.3L239.1 210.5L237.8 213.4z"/>
<path color="#e5d8d1" d="M164 266.1L166.2 266.9L168.4 267.9L169.7 263.5L171 259.3L168.8 258.3L166.6 257.5L165.3 261.8z"/>
<path color="#f08b6e" d="M193.4 204.2L195.6 205.5L197.8 206.9L199.1 203.2L200.4 199.5L198.1 198.1L195.9 196.8L194.6 200.4z"/>
<path color="#ec8165" d="M218.8 196.6L221 198.8L223.2 201L224.5 197.9L225.8 194.8L223.6 192.5L221.4 190.2L220.1 193.4z"/>
<path color="#f4c5ad" d="M247.3 240.2L249.5 243.3L251.8 246.4L253 243.5L254.3 240.6L252.1 237.4L249.9 234.3L248.6 237.2z"/>
<path color="#dcdddd" d="M161.4 274.7L163.6 275.6L165.8 276.5L167.1 272.2L168.4 267.9L166.2 266.9L164 266.1L162.7 270.4z"/>
<path color="#eb7d62" d="M207.4 195.6L209.6 197.3L211.8 199.2L213.1 195.8L214.4 192.5L212.1 190.6L209.9 188.8L208.6 192.1z"/>
<path color="#f59c7d" d="M232.1 211L234.3 213.7L236.6 216.4L237.8 213.4L239.1 210.5L236.9 207.7L234.7 204.9L233.4 207.9z"/>
<path color="#f08a6c" d="M223.2 201L225.5 203.4L227.7 205.8L229 202.7L230.2 199.7L228 197.2L225.8 194.8L224.5 197.9z"/>
<path color="#e9d5cb" d="M253.7 258.8L255.9 262L258.1 265.3L259.3 262.3L260.6 259.4L258.4 256.1L256.2 252.9L254.9 255.8z"/>
<path color="#ee8468" d="M200.4 199.5L202.6 201L204.8 202.7L206.1 199.1L207.4 195.6L205.1 193.9L202.9 192.4L201.6 195.9z"/>
<path color="#f29274" d="M227.7 205.8L229.9 208.4L232.1 211L233.4 207.9L234.7 204.9L232.5 202.3L230.2 199.7L229 202.7z"/>
<path color="#d5dbe5" d="M260 277.8L262.2 281L264.4 284.3L265.7 281.4L266.9 278.5L264.7 275.2L262.5 271.8L261.2 274.8z"/>
<path color="#f7ad90" d="M181.2 225.6L183.4 226.7L185.6 227.9L186.9 223.8L188.2 219.8L186 218.6L183.8 217.5L182.5 221.6z"/>
<path color="#f6bda2" d="M242.9 234.1L245.1 237.1L247.3 240.2L248.6 237.2L249.9 234.3L247.7 231.1L245.4 228.1L244.2 231.1z"/>
<path color="#f4987a" d="M190.8 211.9L193 213.2L195.2 214.6L196.5 210.7L197.8 206.9L195.6 205.5L193.4 204.2L192.1 208z"/>
<path color="#f7b89c" d="M178.7 233.9L180.9 234.9L183.1 236.1L184.4 231.9L185.6 227.9L183.4 226.7L181.2 225.6L179.9 229.7z"/>
<path color="#ee8468" d="M211.8 199.2L214 201.2L216.2 203.2L217.5 199.9L218.8 196.6L216.6 194.5L214.4 192.5L213.1 195.8z"/>
<path color="#eed0c0" d="M249.2 252.5L251.4 255.6L253.7 258.8L254.9 255.8L256.2 252.9L254 249.6L251.8 246.4L250.5 249.4z"/>
<path color="#f5c2aa" d="M176.1 242.2L178.3 243.3L180.5 244.4L181.8 240.2L183.1 236.1L180.9 234.9L178.7 233.9L177.4 238.1z"/>
<path color="#f7b497" d="M238.5 228.3L240.7 231.2L242.9 234.1L244.2 231.1L245.4 228.1L243.2 225.1L241 222.1L239.7 225.2z"/>
<path color="#dcdddd" d="M255.5 271.3L257.8 274.5L260 277.8L261.2 274.8L262.5 271.8L260.3 268.5L258.1 265.3L256.8 268.3z"/>
<path color="#f29072" d="M197.8 206.9L200 208.4L202.2 210L203.5 206.3L204.8 202.7L202.6 201L200.4 199.5L199.1 203.2z"/>
<path color="#f08a6c" d="M204.8 202.7L207 204.4L209.2 206.2L210.5 202.7L211.8 199.2L209.6 197.3L207.4 195.6L206.1 199.1z"/>
<path color="#f6a586" d="M188.2 219.8L190.4 221.1L192.6 222.4L193.9 218.5L195.2 214.6L193 213.2L190.8 211.9L189.5 215.8z"/>
<path color="#f2cbb7" d="M173.5 250.7L175.7 251.7L177.9 252.8L179.2 248.6L180.5 244.4L178.3 243.3L176.1 242.2L174.8 246.5z"/>
<path color="#f08b6e" d="M216.2 203.2L218.5 205.4L220.7 207.6L222 204.3L223.2 201L221 198.8L218.8 196.6L217.5 199.9z"/>
<path color="#f7ac8e" d="M234 222.7L236.2 225.5L238.5 228.3L239.7 225.2L241 222.1L238.8 219.2L236.6 216.4L235.3 219.5z"/>
<path color="#ecd3c5" d="M171 259.3L173.2 260.3L175.4 261.4L176.7 257.1L177.9 252.8L175.7 251.7L173.5 250.7L172.2 255z"/>
<path color="#f2cab5" d="M244.8 246.4L247 249.4L249.2 252.5L250.5 249.4L251.8 246.4L249.5 243.3L247.3 240.2L246.1 243.3z"/>
<path color="#f29274" d="M220.7 207.6L222.9 209.9L225.1 212.3L226.4 209L227.7 205.8L225.5 203.4L223.2 201L222 204.3z"/>
<path color="#d1dae9" d="M163.3 286.9L165.5 287.5L167.7 288.1L168.9 283.3L170.2 278.6L168 277.5L165.8 276.5L164.5 281.5z"/>
<path color="#f6a385" d="M229.6 217.4L231.8 220L234 222.7L235.3 219.5L236.6 216.4L234.3 213.7L232.1 211L230.8 214.1z"/>
<path color="#e4d9d2" d="M168.4 267.9L170.6 268.9L172.8 269.9L174.1 265.6L175.4 261.4L173.2 260.3L171 259.3L169.7 263.5z"/>
<path color="#f59c7d" d="M225.1 212.3L227.3 214.8L229.6 217.4L230.8 214.1L232.1 211L229.9 208.4L227.7 205.8L226.4 209z"/>
<path color="#f7b093" d="M185.6 227.9L187.9 229.1L190.1 230.4L191.4 226.4L192.6 222.4L190.4 221.1L188.2 219.8L186.9 223.8z"/>
<path color="#e4d9d2" d="M251.1 265L253.3 268.1L255.5 271.3L256.8 268.3L258.1 265.3L255.9 262L253.7 258.8L252.4 261.9z"/>
<path color="#dbdcde" d="M165.8 276.5L168 277.5L170.2 278.6L171.5 274.2L172.8 269.9L170.6 268.9L168.4 267.9L167.1 272.2z"/>
<path color="#f59c7d" d="M195.2 214.6L197.4 216L199.6 217.6L200.9 213.8L202.2 210L200 208.4L197.8 206.9L196.5 210.7z"/>
<path color="#cfdaea" d="M257.4 283.9L259.7 287.1L261.9 290.4L263.1 287.3L264.4 284.3L262.2 281L260 277.8L258.7 280.8z"/>
<path color="#f18f71" d="M209.2 206.2L211.4 208.1L213.7 210.2L215 206.7L216.2 203.2L214 201.2L211.8 199.2L210.5 202.7z"/>
<path color="#f5c2aa" d="M240.3 240.4L242.6 243.4L244.8 246.4L246.1 243.3L247.3 240.2L245.1 237.1L242.9 234.1L241.6 237.3z"/>
<path color="#f39577" d="M202.2 210L204.4 211.7L206.7 213.5L207.9 209.8L209.2 206.2L207 204.4L204.8 202.7L203.5 206.3z"/>
<path color="#f7ba9f" d="M183.1 236.1L185.3 237.3L187.5 238.6L188.8 234.5L190.1 230.4L187.9 229.1L185.6 227.9L184.4 231.9z"/>
<path color="#f39577" d="M213.7 210.2L215.9 212.3L218.1 214.5L219.4 211L220.7 207.6L218.5 205.4L216.2 203.2L215 206.7z"/>
<path color="#ead4c8" d="M246.7 258.8L248.9 261.9L251.1 265L252.4 261.9L253.7 258.8L251.4 255.6L249.2 252.5L247.9 255.6z"/>
<path color="#f7bca1" d="M235.9 234.7L238.1 237.6L240.3 240.4L241.6 237.3L242.9 234.1L240.7 231.2L238.5 228.3L237.2 231.5z"/>
<path color="#f7a889" d="M192.6 222.4L194.9 223.9L197.1 225.4L198.4 221.5L199.6 217.6L197.4 216L195.2 214.6L193.9 218.5z"/>
<path color="#f5c4ac" d="M180.5 244.4L182.7 245.6L184.9 246.9L186.2 242.7L187.5 238.6L185.3 237.3L183.1 236.1L181.8 240.2z"/>
<path color="#d7dce3" d="M253 277.6L255.2 280.7L257.4 283.9L258.7 280.8L260 277.8L257.8 274.5L255.5 271.3L254.3 274.4z"/>
<path color="#f59d7e" d="M218.1 214.5L220.3 216.7L222.6 219.1L223.8 215.7L225.1 212.3L222.9 209.9L220.7 207.6L219.4 211z"/>
<path color="#f7b497" d="M231.5 229.2L233.7 231.9L235.9 234.7L237.2 231.5L238.5 228.3L236.2 225.5L234 222.7L232.7 225.9z"/>
<path color="#f1cdba" d="M177.9 252.8L180.1 254L182.4 255.3L183.6 251.1L184.9 246.9L182.7 245.6L180.5 244.4L179.2 248.6z"/>
<path color="#f49a7b" d="M206.7 213.5L208.9 215.4L211.1 217.4L212.4 213.7L213.7 210.2L211.4 208.1L209.2 206.2L207.9 209.8z"/>
<path color="#f5a081" d="M199.6 217.6L201.9 219.3L204.1 221L205.4 217.2L206.7 213.5L204.4 211.7L202.2 210L200.9 213.8z"/>
<path color="#f7ac8e" d="M227 224L229.2 226.6L231.5 229.2L232.7 225.9L234 222.7L231.8 220L229.6 217.4L228.3 220.7z"/>
<path color="#f6a586" d="M222.6 219.1L224.8 221.5L227 224L228.3 220.7L229.6 217.4L227.3 214.8L225.1 212.3L223.8 215.7z"/>
<path color="#efcfbf" d="M242.2 252.8L244.5 255.8L246.7 258.8L247.9 255.6L249.2 252.5L247 249.4L244.8 246.4L243.5 249.6z"/>
<path color="#c0d4f5" d="M187.9 289.6L190.2 291.2L192.8 369.6L193.7 288.8L195 284.7L192.7 282.9L190.5 281.2L189.2 285.4z"/>
<path color="#f7b396" d="M190.1 230.4L192.3 231.9L194.5 233.4L195.8 229.4L197.1 225.4L194.9 223.9L192.6 222.4L191.4 226.4z"/>
<path color="#ead4c8" d="M175.4 261.4L177.6 262.5L179.8 263.8L181.1 259.5L182.4 255.3L180.1 254L177.9 252.8L176.7 257.1z"/>
<path color="#e3d9d3" d="M172.8 269.9L175 271.1L177.2 272.3L178.5 268L179.8 263.8L177.6 262.5L175.4 261.4L174.1 265.6z"/>
<path color="#dedcdb" d="M248.6 271.4L250.8 274.5L253 277.6L254.3 274.4L255.5 271.3L253.3 268.1L251.1 265L249.8 268.2z"/>
<path color="#abc8fd" d="M242.8 304.4L245 307.3L246.7 373.9L248.5 306.8L249.8 303.4L247.6 300.4L245.4 297.5L244.1 300.9z"/>
<path color="#c9d7f0" d="M254.9 290.3L257.1 293.4L259.3 296.6L260.6 293.4L261.9 290.4L259.7 287.1L257.4 283.9L256.2 287.1z"/>
<path color="#cfdaea" d="M167.7 288.1L169.9 288.9L172.1 289.9L173.4 285.4L174.6 280.9L172.4 279.7L170.2 278.6L168.9 283.3z"/>
<path color="#dadce0" d="M170.2 278.6L172.4 279.7L174.6 280.9L175.9 276.6L177.2 272.3L175 271.1L172.8 269.9L171.5 274.2z"/>
<path color="#f5a081" d="M211.1 217.4L213.3 219.4L215.6 221.6L216.8 218L218.1 214.5L215.9 212.3L213.7 210.2L212.4 213.7z"/>
<path color="#f2c9b4" d="M237.8 247L240 249.9L242.2 252.8L243.5 249.6L244.8 246.4L242.6 243.4L240.3 240.4L239.1 243.7z"/>
<path color="#f6bda2" d="M187.5 238.6L189.7 240L191.9 241.5L193.2 237.4L194.5 233.4L192.3 231.9L190.1 230.4L188.8 234.5z"/>
<path color="#f7aa8c" d="M197.1 225.4L199.3 227L201.5 228.7L202.8 224.9L204.1 221L201.9 219.3L199.6 217.6L198.4 221.5z"/>
<path color="#f6a586" d="M204.1 221L206.3 222.9L208.5 224.8L209.8 221.1L211.1 217.4L208.9 215.4L206.7 213.5L205.4 217.2z"/>
<path color="#f5c2aa" d="M233.3 241.4L235.6 244.2L237.8 247L239.1 243.7L240.3 240.4L238.1 237.6L235.9 234.7L234.6 238z"/>
<path color="#e5d8d1" d="M244.1 265.4L246.3 268.4L248.6 271.4L249.8 268.2L251.1 265L248.9 261.9L246.7 258.8L245.4 262.1z"/>
<path color="#f7a688" d="M215.6 221.6L217.8 223.8L220 226.1L221.3 222.6L222.6 219.1L220.3 216.7L218.1 214.5L216.8 218z"/>
<path color="#f4c6af" d="M184.9 246.9L187.1 248.3L189.4 249.7L190.6 245.6L191.9 241.5L189.7 240L187.5 238.6L186.2 242.7z"/>
<path color="#d1dae9" d="M250.5 284.1L252.7 287.1L254.9 290.3L256.2 287.1L257.4 283.9L255.2 280.7L253 277.6L251.7 280.8z"/>
<path color="#f7bca1" d="M228.9 236L231.1 238.7L233.3 241.4L234.6 238L235.9 234.7L233.7 231.9L231.5 229.2L230.2 232.6z"/>
<path color="#f7ad90" d="M220 226.1L222.2 228.5L224.4 230.9L225.7 227.4L227 224L224.8 221.5L222.6 219.1L221.3 222.6z"/>
<path color="#f7b497" d="M224.4 230.9L226.7 233.4L228.9 236L230.2 232.6L231.5 229.2L229.2 226.6L227 224L225.7 227.4z"/>
<path color="#f7b599" d="M194.5 233.4L196.7 235L198.9 236.6L200.2 232.7L201.5 228.7L199.3 227L197.1 225.4L195.8 229.4z"/>
<path color="#efcebd" d="M182.4 255.3L184.6 256.6L186.8 258.1L188.1 253.9L189.4 249.7L187.1 248.3L184.9 246.9L183.6 251.1z"/>
<path color="#ead4c8" d="M239.7 259.5L241.9 262.4L244.1 265.4L245.4 262.1L246.7 258.8L244.5 255.8L242.2 252.8L241 256.1z"/>
<path color="#f7aa8c" d="M208.5 224.8L210.8 226.8L213 228.9L214.3 225.2L215.6 221.6L213.3 219.4L211.1 217.4L209.8 221.1z"/>
<path color="#f7b093" d="M201.5 228.7L203.7 230.5L206 232.4L207.2 228.6L208.5 224.8L206.3 222.9L204.1 221L202.8 224.9z"/>
<path color="#ead5c9" d="M179.8 263.8L182 265.1L184.2 266.5L185.5 262.3L186.8 258.1L184.6 256.6L182.4 255.3L181.1 259.5z"/>
<path color="#d8dce2" d="M246 278L248.2 281L250.5 284.1L251.7 280.8L253 277.6L250.8 274.5L248.6 271.4L247.3 274.7z"/>
<path color="#f6bfa6" d="M191.9 241.5L194.2 243L196.4 244.7L197.7 240.6L198.9 236.6L196.7 235L194.5 233.4L193.2 237.4z"/>
<path color="#e1dad6" d="M177.2 272.3L179.4 273.6L181.6 275L182.9 270.7L184.2 266.5L182 265.1L179.8 263.8L178.5 268z"/>
<path color="#efcebd" d="M235.2 253.8L237.5 256.6L239.7 259.5L241 256.1L242.2 252.8L240 249.9L237.8 247L236.5 250.4z"/>
<path color="#f7b093" d="M213 228.9L215.2 231.1L217.4 233.3L218.7 229.7L220 226.1L217.8 223.8L215.6 221.6L214.3 225.2z"/>
<path color="#d8dce2" d="M174.6 280.9L176.9 282.2L179.1 283.5L180.4 279.2L181.6 275L179.4 273.6L177.2 272.3L175.9 276.6z"/>
<path color="#cedaeb" d="M172.1 289.9L174.3 291L176.5 292.2L177.8 287.9L179.1 283.5L176.9 282.2L174.6 280.9L173.4 285.4z"/>
<path color="#f2c9b4" d="M230.8 248.3L233 251L235.2 253.8L236.5 250.4L237.8 247L235.6 244.2L233.3 241.4L232.1 244.8zM189.4 249.7L191.6 251.3L193.8 252.9L195.1 248.8L196.4 244.7L194.2 243L191.9 241.5L190.6 245.6z"/>
<path color="#f7b99e" d="M198.9 236.6L201.2 238.4L203.4 240.3L204.7 236.3L206 232.4L203.7 230.5L201.5 228.7L200.2 232.7z"/>
<path color="#bcd2f7" d="M215.4 293.2L217.6 295.5L219.7 371.7L221.1 294.1L222.4 290.2L220.2 287.8L217.9 285.4L216.7 289.3z"/>
<path color="#f7b79b" d="M217.4 233.3L219.7 235.7L221.9 238.1L223.2 234.5L224.4 230.9L222.2 228.5L220 226.1L218.7 229.7z"/>
<path color="#f7b497" d="M206 232.4L208.2 234.4L210.4 236.5L211.7 232.7L213 228.9L210.8 226.8L208.5 224.8L207.2 228.6z"/>
<path color="#dfdbd9" d="M241.6 272.1L243.8 275L246 278L247.3 274.7L248.6 271.4L246.3 268.4L244.1 265.4L242.8 268.7z"/>
<path color="#f5c2aa" d="M226.3 243L228.6 245.6L230.8 248.3L232.1 244.8L233.3 241.4L231.1 238.7L228.9 236L227.6 239.5z"/>
<path color="#f6bda2" d="M221.9 238.1L224.1 240.5L226.3 243L227.6 239.5L228.9 236L226.7 233.4L224.4 230.9L223.2 234.5z"/>
<path color="#cad8ef" d="M247.9 290.7L250.1 293.7L252.4 296.8L253.6 293.5L254.9 290.3L252.7 287.1L250.5 284.1L249.2 287.4z"/>
<path color="#eed0c0" d="M186.8 258.1L189 259.6L191.2 261.1L192.5 257L193.8 252.9L191.6 251.3L189.4 249.7L188.1 253.9z"/>
<path color="#e5d8d1" d="M237.1 266.3L239.3 269.2L241.6 272.1L242.8 268.7L244.1 265.4L241.9 262.4L239.7 259.5L238.4 262.9z"/>
<path color="#f5c2aa" d="M196.4 244.7L198.6 246.4L200.8 248.2L202.1 244.2L203.4 240.3L201.2 238.4L198.9 236.6L197.7 240.6z"/>
<path color="#f7b99e" d="M210.4 236.5L212.6 238.6L214.9 240.8L216.1 237L217.4 233.3L215.2 231.1L213 228.9L211.7 232.7z"/>
<path color="#e7d7ce" d="M184.2 266.5L186.4 268L188.7 269.5L189.9 265.3L191.2 261.1L189 259.6L186.8 258.1L185.5 262.3z"/>
<path color="#f6bea4" d="M203.4 240.3L205.6 242.2L207.8 244.2L209.1 240.3L210.4 236.5L208.2 234.4L206 232.4L204.7 236.3z"/>
<path color="#ead4c8" d="M232.7 260.8L234.9 263.5L237.1 266.3L238.4 262.9L239.7 259.5L237.5 256.6L235.2 253.8L234 257.2z"/>
<path color="#d2dbe8" d="M243.5 284.8L245.7 287.7L247.9 290.7L249.2 287.4L250.5 284.1L248.2 281L246 278L244.7 281.4z"/>
<path color="#f6bfa6" d="M214.9 240.8L217.1 243L219.3 245.4L220.6 241.7L221.9 238.1L219.7 235.7L217.4 233.3L216.1 237z"/>
<path color="#dfdbd9" d="M181.6 275L183.9 276.4L186.1 277.9L187.4 273.7L188.7 269.5L186.4 268L184.2 266.5L182.9 270.7z"/>
<path color="#f2cbb7" d="M193.8 252.9L196 254.6L198.2 256.3L199.5 252.3L200.8 248.2L198.6 246.4L196.4 244.7L195.1 248.8z"/>
<path color="#efcfbf" d="M228.2 255.4L230.4 258.1L232.7 260.8L234 257.2L235.2 253.8L233 251L230.8 248.3L229.5 251.8z"/>
<path color="#f4c5ad" d="M219.3 245.4L221.5 247.8L223.8 250.3L225.1 246.6L226.3 243L224.1 240.5L221.9 238.1L220.6 241.7z"/>
<path color="#f2cab5" d="M223.8 250.3L226 252.8L228.2 255.4L229.5 251.8L230.8 248.3L228.6 245.6L226.3 243L225.1 246.6z"/>
<path color="#d6dce4" d="M179.1 283.5L181.3 284.9L183.5 286.4L184.8 282.2L186.1 277.9L183.9 276.4L181.6 275L180.4 279.2z"/>
<path color="#d9dce1" d="M239 279L241.2 281.8L243.5 284.8L244.7 281.4L246 278L243.8 275L241.6 272.1L240.3 275.5z"/>
<path color="#f5c2aa" d="M207.8 244.2L210.1 246.3L212.3 248.4L213.6 244.6L214.9 240.8L212.6 238.6L210.4 236.5L209.1 240.3z"/>
<path color="#f3c7b1" d="M200.8 248.2L203 250.1L205.3 252.1L206.6 248.1L207.8 244.2L205.6 242.2L203.4 240.3L202.1 244.2z"/>
<path color="#ecd3c5" d="M191.2 261.1L193.4 262.8L195.7 264.5L197 260.4L198.2 256.3L196 254.6L193.8 252.9L192.5 257z"/>
<path color="#c3d5f4" d="M245.4 297.5L247.6 300.4L249.8 303.4L251.1 300.1L252.4 296.8L250.1 293.7L247.9 290.7L246.6 294.1z"/>
<path color="#dfdbd9" d="M234.6 273.4L236.8 276.1L239 279L240.3 275.5L241.6 272.1L239.3 269.2L237.1 266.3L235.8 269.8z"/>
<path color="#f3c7b1" d="M212.3 248.4L214.5 250.6L216.7 252.9L218 249.1L219.3 245.4L217.1 243L214.9 240.8L213.6 244.6z"/>
<path color="#e5d8d1" d="M188.7 269.5L190.9 271.1L193.1 272.8L194.4 268.7L195.7 264.5L193.4 262.8L191.2 261.1L189.9 265.3z"/>
<path color="#efcebd" d="M198.2 256.3L200.5 258.2L202.7 260.1L204 256L205.3 252.1L203 250.1L200.8 248.2L199.5 252.3z"/>
<path color="#e5d8d1" d="M230.1 267.9L232.3 270.6L234.6 273.4L235.8 269.8L237.1 266.3L234.9 263.5L232.7 260.8L231.4 264.3z"/>
<path color="#f2cab5" d="M205.3 252.1L207.5 254.1L209.7 256.2L211 252.3L212.3 248.4L210.1 246.3L207.8 244.2L206.6 248.1z"/>
<path color="#f1ccb8" d="M216.7 252.9L219 255.3L221.2 257.7L222.5 254L223.8 250.3L221.5 247.8L219.3 245.4L218 249.1z"/>
<path color="#ead4c8" d="M225.7 262.7L227.9 265.3L230.1 267.9L231.4 264.3L232.7 260.8L230.4 258.1L228.2 255.4L226.9 259z"/>
<path color="#cbd8ee" d="M240.9 291.7L243.1 294.6L245.4 297.5L246.6 294.1L247.9 290.7L245.7 287.7L243.5 284.8L242.2 288.2z"/>
<path color="#dcdddd" d="M186.1 277.9L188.3 279.5L190.5 281.2L191.8 277L193.1 272.8L190.9 271.1L188.7 269.5L187.4 273.7z"/>
<path color="#eed0c0" d="M221.2 257.7L223.4 260.1L225.7 262.7L226.9 259L228.2 255.4L226 252.8L223.8 250.3L222.5 254z"/>
<path color="#ead5c9" d="M195.7 264.5L197.9 266.3L200.1 268.2L201.4 264.1L202.7 260.1L200.5 258.2L198.2 256.3L197 260.4z"/>
<path color="#d4dbe6" d="M183.5 286.4L185.7 288L187.9 289.6L189.2 285.4L190.5 281.2L188.3 279.5L186.1 277.9L184.8 282.2z"/>
<path color="#efcebd" d="M209.7 256.2L211.9 258.3L214.2 260.6L215.5 256.7L216.7 252.9L214.5 250.6L212.3 248.4L211 252.3z"/>
<path color="#d2dbe8" d="M236.5 286L238.7 288.8L240.9 291.7L242.2 288.2L243.5 284.8L241.2 281.8L239 279L237.7 282.5z"/>
<path color="#edd1c2" d="M202.7 260.1L204.9 262L207.1 264.1L208.4 260.1L209.7 256.2L207.5 254.1L205.3 252.1L204 256z"/>
<path color="#e2dad5" d="M193.1 272.8L195.3 274.6L197.5 276.4L198.8 272.3L200.1 268.2L197.9 266.3L195.7 264.5L194.4 268.7z"/>
<path color="#d8dce2" d="M232 280.5L234.2 283.3L236.5 286L237.7 282.5L239 279L236.8 276.1L234.6 273.4L233.3 276.9z"/>
<path color="#edd2c3" d="M214.2 260.6L216.4 262.9L218.6 265.2L219.9 261.4L221.2 257.7L219 255.3L216.7 252.9L215.5 256.7z"/>
<path color="#dedcdb" d="M227.5 275.2L229.8 277.9L232 280.5L233.3 276.9L234.6 273.4L232.3 270.6L230.1 267.9L228.8 271.6z"/>
<path color="#e9d5cb" d="M218.6 265.2L220.9 267.6L223.1 270.1L224.4 266.4L225.7 262.7L223.4 260.1L221.2 257.7L219.9 261.4z"/>
<path color="#e4d9d2" d="M223.1 270.1L225.3 272.6L227.5 275.2L228.8 271.6L230.1 267.9L227.9 265.3L225.7 262.7L224.4 266.4z"/>
<path color="#e7d7ce" d="M200.1 268.2L202.3 270.1L204.6 272.1L205.9 268.1L207.1 264.1L204.9 262L202.7 260.1L201.4 264.1z"/>
<path color="#d9dce1" d="M190.5 281.2L192.7 282.9L195 284.7L196.3 280.5L197.5 276.4L195.3 274.6L193.1 272.8L191.8 277z"/>
<path color="#ead4c8" d="M207.1 264.1L209.4 266.2L211.6 268.4L212.9 264.5L214.2 260.6L211.9 258.3L209.7 256.2L208.4 260.1z"/>
<path color="#c3d5f4" d="M238.3 298.7L240.6 301.6L242.8 304.4L244.1 300.9L245.4 297.5L243.1 294.6L240.9 291.7L239.6 295.2z"/>
<path color="#e6d7cf" d="M211.6 268.4L213.8 270.6L216.1 272.9L217.3 269.1L218.6 265.2L216.4 262.9L214.2 260.6L212.9 264.5z"/>
<path color="#cad8ef" d="M233.9 293.2L236.1 296L238.3 298.7L239.6 295.2L240.9 291.7L238.7 288.8L236.5 286L235.2 289.6z"/>
<path color="#dedcdb" d="M197.5 276.4L199.8 278.3L202 280.2L203.3 276.2L204.6 272.1L202.3 270.1L200.1 268.2L198.8 272.3z"/>
<path color="#e3d9d3" d="M204.6 272.1L206.8 274.2L209 276.3L210.3 272.3L211.6 268.4L209.4 266.2L207.1 264.1L205.9 268.1z"/>
<path color="#e1dad6" d="M216.1 272.9L218.3 275.3L220.5 277.7L221.8 273.9L223.1 270.1L220.9 267.6L218.6 265.2L217.3 269.1z"/>
<path color="#d1dae9" d="M229.4 287.9L231.7 290.5L233.9 293.2L235.2 289.6L236.5 286L234.2 283.3L232 280.5L230.7 284.2z"/>
<path color="#d7dce3" d="M225 282.7L227.2 285.2L229.4 287.9L230.7 284.2L232 280.5L229.8 277.9L227.5 275.2L226.3 278.9z"/>
<path color="#dcdddd" d="M220.5 277.7L222.7 280.2L225 282.7L226.3 278.9L227.5 275.2L225.3 272.6L223.1 270.1L221.8 273.9z"/>
<path color="#d6dce4" d="M195 284.7L197.2 286.5L199.4 288.4L200.7 284.3L202 280.2L199.8 278.3L197.5 276.4L196.3 280.5z"/>
<path color="#dedcdb" d="M209 276.3L211.3 278.5L213.5 280.7L214.8 276.8L216.1 272.9L213.8 270.6L211.6 268.4L210.3 272.3z"/>
<path color="#dbdcde" d="M202 280.2L204.2 282.2L206.5 284.3L207.7 280.3L209 276.3L206.8 274.2L204.6 272.1L203.3 276.2z"/>
<path color="#dadce0" d="M213.5 280.7L215.7 283L217.9 285.4L219.2 281.5L220.5 277.7L218.3 275.3L216.1 272.9L214.8 276.8z"/>
<path color="#d5dbe5" d="M217.9 285.4L220.2 287.8L222.4 290.2L223.7 286.4L225 282.7L222.7 280.2L220.5 277.7L219.2 281.5z"/>
<path color="#d2dbe8" d="M199.4 288.4L201.6 290.4L203.9 292.4L205.2 288.3L206.5 284.3L204.2 282.2L202 280.2L200.7 284.3z"/>
<path color="#c9d7f0" d="M226.9 295.3L229.1 297.9L231.3 300.5L232.6 296.9L233.9 293.2L231.7 290.5L229.4 287.9L228.1 291.6z"/>
<path color="#cfdaea" d="M222.4 290.2L224.6 292.7L226.9 295.3L228.1 291.6L229.4 287.9L227.2 285.2L225 282.7L223.7 286.4z"/>
<path color="#d7dce3" d="M206.5 284.3L208.7 286.4L210.9 288.6L212.2 284.7L213.5 280.7L211.3 278.5L209 276.3L207.7 280.3z"/>
<path color="#d2dbe8" d="M210.9 288.6L213.1 290.9L215.4 293.2L216.7 289.3L217.9 285.4L215.7 283L213.5 280.7L212.2 284.7z"/>
</g>
<g id="axes_1"/>
  <g id="axes_2">
   <g id="patch_6">
    <path d="M 465.12 445.92  L 487.2 445.92  L 487.2 7.2  L 465.12 7.2  z
" style="fill: #ffffff"/>
   </g>
<defs><linearGradient id="cw" gradientUnits="userSpaceOnUse" x1="0" y1="445.9" x2="0" y2="7.2"><stop offset="0" stop-color="#3b4cc0"/><stop offset="0.025" stop-color="#4257c9"/><stop offset="0.05" stop-color="#4961d2"/><stop offset="0.075" stop-color="#516ddb"/><stop offset="0.1" stop-color="#5977e3"/><stop offset="0.125" stop-color="#6282ea"/><stop offset="0.15" stop-color="#6a8bef"/><stop offset="0.175" stop-color="#7295f4"/><stop offset="0.2" stop-color="#7b9ff9"/><stop offset="0.225" stop-color="#84a7fc"/><stop offset="0.25" stop-color="#8db0fe"/><stop offset="0.275" stop-color="#96b7ff"/><stop offset="0.3" stop-color="#9ebeff"/><stop offset="0.325" stop-color="#a7c5fe"/><stop offset="0.35" stop-color="#afcafc"/><stop offset="0.375" stop-color="#b9d0f9"/><stop offset="0.4" stop-color="#c0d4f5"/><stop offset="0.425" stop-color="#c7d7f0"/><stop offset="0.45" stop-color="#cfdaea"/><stop offset="0.475" stop-color="#d6dce4"/><stop offset="0.5" stop-color="#dddcdc"/><stop offset="0.525" stop-color="#e3d9d3"/><stop offset="0.55" stop-color="#e9d5cb"/><stop offset="0.575" stop-color="#eed0c0"/><stop offset="0.6" stop-color="#f2cbb7"/><stop offset="0.625" stop-color="#f5c4ac"/><stop offset="0.65" stop-color="#f6bda2"/><stop offset="0.675" stop-color="#f7b599"/><stop offset="0.7" stop-color="#f7ac8e"/><stop offset="0.725" stop-color="#f6a385"/><stop offset="0.75" stop-color="#f4987a"/><stop offset="0.775" stop-color="#f18f71"/><stop offset="0.8" stop-color="#ee8468"/><stop offset="0.825" stop-color="#e9785d"/><stop offset="0.85" stop-color="#e36c55"/><stop offset="0.875" stop-color="#dd5f4b"/><stop offset="0.9" stop-color="#d65244"/><stop offset="0.925" stop-color="#cf453c"/><stop offset="0.95" stop-color="#c53334"/><stop offset="0.975" stop-color="#bd1f2d"/><stop offset="1" stop-color="#b40426"/></linearGradient></defs><rect x="465.12" y="7.20" width="22.08" height="438.72" fill="url(#cw)"/>
   <g id="matplotlib.axis_1"/>
   <g id="matplotlib.axis_2">
    <g id="ytick_1">
     <g id="line2d_30">
      <defs>
       <path id="m62edf296bc" d="M 0 0  L 3.5 0 
" style="stroke: #000000; stroke-width: 1.2"/>
      </defs>
      <g>
       <use href="#m62edf296bc" x="487.2" y="445.92" style="stroke: #000000; stroke-width: 1.2"/>
      </g>
     </g>
     <g id="text_30">
      <text style="font-size: 11.4px; font-family: 'DejaVu Sans','Liberation Sans',sans-serif; text-anchor: start" x="495.1" y="450.25">−60</text>
     </g>
    </g>
    <g id="ytick_2">
     <g id="line2d_31">
      <g>
       <use href="#m62edf296bc" x="487.2" y="388.57" style="stroke: #000000; stroke-width: 1.2"/>
      </g>
     </g>
     <g id="text_31">
      <text style="font-size: 11.4px; font-family: 'DejaVu Sans','Liberation Sans',sans-serif; text-anchor: start" x="495.1" y="392.90">−50</text>
     </g>
    </g>
    <g id="ytick_3">
     <g id="line2d_32">
      <g>
       <use href="#m62edf296bc" x="487.2" y="331.22" style="stroke: #000000; stroke-width: 1.2"/>
      </g>
     </g>
     <g id="text_32">
      <text style="font-size: 11.4px; font-family: 'DejaVu Sans','Liberation Sans',sans-serif; text-anchor: start" x="495.1" y="335.55">−40</text>
     </g>
    </g>
    <g id="ytick_4">
     <g id="line2d_33">
      <g>
       <use href="#m62edf296bc" x="487.2" y="273.87" style="stroke: #000000; stroke-width: 1.2"/>
      </g>
     </g>
     <g id="text_33">
      <text style="font-size: 11.4px; font-family: 'DejaVu Sans','Liberation Sans',sans-serif; text-anchor: start" x="495.1" y="278.20">−30</text>
     </g>
    </g>
    <g id="ytick_5">
     <g id="line2d_34">
      <g>
       <use href="#m62edf296bc" x="487.2" y="216.52" style="stroke: #000000; stroke-width: 1.2"/>
      </g>
     </g>
     <g id="text_34">
      <text style="font-size: 11.4px; font-family: 'DejaVu Sans','Liberation Sans',sans-serif; text-anchor: start" x="495.1" y="220.85">−20</text>
     </g>
    </g>
    <g id="ytick_6">
     <g id="line2d_35">
      <g>
       <use href="#m62edf296bc" x="487.2" y="159.17" style="stroke: #000000; stroke-width: 1.2"/>
      </g>
     </g>
     <g id="text_35">
      <text style="font-size: 11.4px; font-family: 'DejaVu Sans','Liberation Sans',sans-serif; text-anchor: start" x="495.1" y="163.50">−10</text>
     </g>
    </g>
    <g id="ytick_7">
     <g id="line2d_36">
      <g>
       <use href="#m62edf296bc" x="487.2" y="101.82" style="stroke: #000000; stroke-width: 1.2"/>
      </g>
     </g>
     <g id="text_36">
      <text style="font-size: 11.4px; font-family: 'DejaVu Sans','Liberation Sans',sans-serif; text-anchor: start" x="495.1" y="106.15">0</text>
     </g>
    </g>
    <g id="ytick_8">
     <g id="line2d_37">
      <g>
       <use href="#m62edf296bc" x="487.2" y="44.47" style="stroke: #000000; stroke-width: 1.2"/>
      </g>
     </g>
     <g id="text_37">
      <text style="font-size: 11.4px; font-family: 'DejaVu Sans','Liberation Sans',sans-serif; text-anchor: start" x="495.1" y="48.80">10</text>
     </g>
    </g>
   </g>
   <g id="LineCollection_1"/>
   <g id="patch_7">
    <path d="M 465.12 445.92  L 476.16 445.92  L 487.2 445.92  L 487.2 7.2  L 476.16 7.2  L 465.12 7.2  L 465.12 445.92  z
" style="fill: none; stroke: #000000; stroke-width: 1.3; stroke-linejoin: miter; stroke-linecap: square"/>
   </g>
  </g>
 </g>
</svg>

</body></html>
